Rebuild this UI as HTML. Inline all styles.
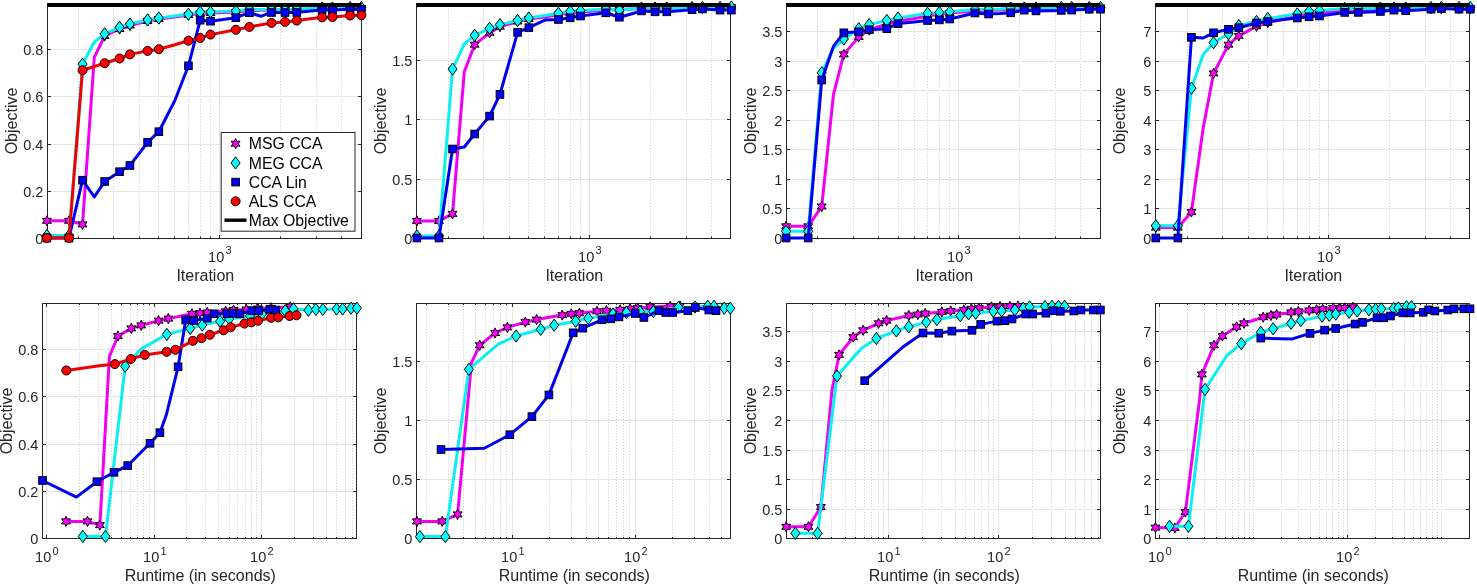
<!DOCTYPE html><html><head><meta charset="utf-8"><style>html,body{margin:0;padding:0;background:#fff;}svg{display:block;font-family:"Liberation Sans", sans-serif;will-change:transform;}</style></head><body>
<svg width="1477" height="585" viewBox="0 0 1477 585">
<rect width="1477" height="585" fill="#fff"/>
<line x1="78.50" y1="3.00" x2="78.50" y2="238.50" stroke="#c8c8c8" stroke-width="1" stroke-dasharray="1 1.9"/>
<line x1="113.50" y1="3.00" x2="113.50" y2="238.50" stroke="#c8c8c8" stroke-width="1" stroke-dasharray="1 1.9"/>
<line x1="139.50" y1="3.00" x2="139.50" y2="238.50" stroke="#c8c8c8" stroke-width="1" stroke-dasharray="1 1.9"/>
<line x1="158.50" y1="3.00" x2="158.50" y2="238.50" stroke="#c8c8c8" stroke-width="1" stroke-dasharray="1 1.9"/>
<line x1="174.50" y1="3.00" x2="174.50" y2="238.50" stroke="#c8c8c8" stroke-width="1" stroke-dasharray="1 1.9"/>
<line x1="188.50" y1="3.00" x2="188.50" y2="238.50" stroke="#c8c8c8" stroke-width="1" stroke-dasharray="1 1.9"/>
<line x1="200.50" y1="3.00" x2="200.50" y2="238.50" stroke="#c8c8c8" stroke-width="1" stroke-dasharray="1 1.9"/>
<line x1="210.50" y1="3.00" x2="210.50" y2="238.50" stroke="#c8c8c8" stroke-width="1" stroke-dasharray="1 1.9"/>
<line x1="280.50" y1="3.00" x2="280.50" y2="238.50" stroke="#c8c8c8" stroke-width="1" stroke-dasharray="1 1.9"/>
<line x1="316.50" y1="3.00" x2="316.50" y2="238.50" stroke="#c8c8c8" stroke-width="1" stroke-dasharray="1 1.9"/>
<line x1="341.50" y1="3.00" x2="341.50" y2="238.50" stroke="#c8c8c8" stroke-width="1" stroke-dasharray="1 1.9"/>
<line x1="219.50" y1="3.50" x2="219.50" y2="238.50" stroke="#e5e5e5" stroke-width="1"/>
<line x1="47.50" y1="238.50" x2="361.50" y2="238.50" stroke="#e5e5e5" stroke-width="1"/>
<line x1="47.50" y1="191.50" x2="361.50" y2="191.50" stroke="#e5e5e5" stroke-width="1"/>
<line x1="47.50" y1="144.50" x2="361.50" y2="144.50" stroke="#e5e5e5" stroke-width="1"/>
<line x1="47.50" y1="96.50" x2="361.50" y2="96.50" stroke="#e5e5e5" stroke-width="1"/>
<line x1="47.50" y1="49.50" x2="361.50" y2="49.50" stroke="#e5e5e5" stroke-width="1"/>
<rect x="47.50" y="3.50" width="314.00" height="235.00" fill="none" stroke="#262626" stroke-width="1"/>
<line x1="47.50" y1="238.50" x2="51.00" y2="238.50" stroke="#262626" stroke-width="1"/>
<line x1="361.50" y1="238.50" x2="358.00" y2="238.50" stroke="#262626" stroke-width="1"/>
<text x="43.30" y="244.10" text-anchor="end" font-size="14.5" fill="#262626">0</text>
<line x1="47.50" y1="191.50" x2="51.00" y2="191.50" stroke="#262626" stroke-width="1"/>
<line x1="361.50" y1="191.50" x2="358.00" y2="191.50" stroke="#262626" stroke-width="1"/>
<text x="43.30" y="197.10" text-anchor="end" font-size="14.5" fill="#262626">0.2</text>
<line x1="47.50" y1="144.50" x2="51.00" y2="144.50" stroke="#262626" stroke-width="1"/>
<line x1="361.50" y1="144.50" x2="358.00" y2="144.50" stroke="#262626" stroke-width="1"/>
<text x="43.30" y="150.10" text-anchor="end" font-size="14.5" fill="#262626">0.4</text>
<line x1="47.50" y1="96.50" x2="51.00" y2="96.50" stroke="#262626" stroke-width="1"/>
<line x1="361.50" y1="96.50" x2="358.00" y2="96.50" stroke="#262626" stroke-width="1"/>
<text x="43.30" y="102.10" text-anchor="end" font-size="14.5" fill="#262626">0.6</text>
<line x1="47.50" y1="49.50" x2="51.00" y2="49.50" stroke="#262626" stroke-width="1"/>
<line x1="361.50" y1="49.50" x2="358.00" y2="49.50" stroke="#262626" stroke-width="1"/>
<text x="43.30" y="55.10" text-anchor="end" font-size="14.5" fill="#262626">0.8</text>
<line x1="219.50" y1="238.50" x2="219.50" y2="235.00" stroke="#262626" stroke-width="1"/>
<line x1="219.50" y1="3.50" x2="219.50" y2="7.00" stroke="#262626" stroke-width="1"/>
<text x="219.80" y="261.80" text-anchor="middle" font-size="14.5" fill="#262626">10<tspan font-size="11" dx="1.2" dy="-7.3">3</tspan></text>
<line x1="78.50" y1="238.50" x2="78.50" y2="236.50" stroke="#262626" stroke-width="1"/>
<line x1="78.50" y1="3.50" x2="78.50" y2="5.50" stroke="#262626" stroke-width="1"/>
<line x1="113.50" y1="238.50" x2="113.50" y2="236.50" stroke="#262626" stroke-width="1"/>
<line x1="113.50" y1="3.50" x2="113.50" y2="5.50" stroke="#262626" stroke-width="1"/>
<line x1="139.50" y1="238.50" x2="139.50" y2="236.50" stroke="#262626" stroke-width="1"/>
<line x1="139.50" y1="3.50" x2="139.50" y2="5.50" stroke="#262626" stroke-width="1"/>
<line x1="158.50" y1="238.50" x2="158.50" y2="236.50" stroke="#262626" stroke-width="1"/>
<line x1="158.50" y1="3.50" x2="158.50" y2="5.50" stroke="#262626" stroke-width="1"/>
<line x1="174.50" y1="238.50" x2="174.50" y2="236.50" stroke="#262626" stroke-width="1"/>
<line x1="174.50" y1="3.50" x2="174.50" y2="5.50" stroke="#262626" stroke-width="1"/>
<line x1="188.50" y1="238.50" x2="188.50" y2="236.50" stroke="#262626" stroke-width="1"/>
<line x1="188.50" y1="3.50" x2="188.50" y2="5.50" stroke="#262626" stroke-width="1"/>
<line x1="200.50" y1="238.50" x2="200.50" y2="236.50" stroke="#262626" stroke-width="1"/>
<line x1="200.50" y1="3.50" x2="200.50" y2="5.50" stroke="#262626" stroke-width="1"/>
<line x1="210.50" y1="238.50" x2="210.50" y2="236.50" stroke="#262626" stroke-width="1"/>
<line x1="210.50" y1="3.50" x2="210.50" y2="5.50" stroke="#262626" stroke-width="1"/>
<line x1="280.50" y1="238.50" x2="280.50" y2="236.50" stroke="#262626" stroke-width="1"/>
<line x1="280.50" y1="3.50" x2="280.50" y2="5.50" stroke="#262626" stroke-width="1"/>
<line x1="316.50" y1="238.50" x2="316.50" y2="236.50" stroke="#262626" stroke-width="1"/>
<line x1="316.50" y1="3.50" x2="316.50" y2="5.50" stroke="#262626" stroke-width="1"/>
<line x1="341.50" y1="238.50" x2="341.50" y2="236.50" stroke="#262626" stroke-width="1"/>
<line x1="341.50" y1="3.50" x2="341.50" y2="5.50" stroke="#262626" stroke-width="1"/>
<text x="205.30" y="281.40" text-anchor="middle" font-size="16" fill="#262626">Iteration</text>
<text transform="translate(17.30,121.00) rotate(-90)" text-anchor="middle" font-size="16" fill="#262626">Objective</text>
<path d="M46.89,220.80 L68.99,220.80 L82.55,224.40 L94.29,57.40 L104.65,36.00 L119.59,29.00 L129.95,25.50 L147.60,21.00 L158.84,19.00 L174.88,17.00 L188.43,15.00 L200.18,13.50 L210.53,13.00 L235.83,12.00 L249.39,10.50 L261.13,10.20 L271.49,10.00 L285.05,10.00 L296.79,9.50 L322.09,8.50 L332.45,8.50 L350.10,8.00 L361.34,8.00" fill="none" stroke="#f000f0" stroke-width="3" stroke-linejoin="round"/>
<polygon points="46.89,215.70 45.54,218.46 42.47,218.25 44.19,220.80 42.47,223.35 45.54,223.14 46.89,225.90 48.24,223.14 51.31,223.35 49.59,220.80 51.31,218.25 48.24,218.46" fill="#ff00ff" stroke="#000" stroke-width="1"/>
<polygon points="68.99,215.70 67.64,218.46 64.58,218.25 66.29,220.80 64.58,223.35 67.64,223.14 68.99,225.90 70.34,223.14 73.41,223.35 71.69,220.80 73.41,218.25 70.34,218.46" fill="#ff00ff" stroke="#000" stroke-width="1"/>
<polygon points="82.55,219.30 81.20,222.06 78.13,221.85 79.85,224.40 78.13,226.95 81.20,226.74 82.55,229.50 83.90,226.74 86.97,226.95 85.25,224.40 86.97,221.85 83.90,222.06" fill="#ff00ff" stroke="#000" stroke-width="1"/>
<polygon points="104.65,30.90 103.30,33.66 100.23,33.45 101.95,36.00 100.23,38.55 103.30,38.34 104.65,41.10 106.00,38.34 109.07,38.55 107.35,36.00 109.07,33.45 106.00,33.66" fill="#ff00ff" stroke="#000" stroke-width="1"/>
<polygon points="119.59,23.90 118.24,26.66 115.18,26.45 116.89,29.00 115.18,31.55 118.24,31.34 119.59,34.10 120.94,31.34 124.01,31.55 122.29,29.00 124.01,26.45 120.94,26.66" fill="#ff00ff" stroke="#000" stroke-width="1"/>
<polygon points="129.95,20.40 128.60,23.16 125.53,22.95 127.25,25.50 125.53,28.05 128.60,27.84 129.95,30.60 131.30,27.84 134.37,28.05 132.65,25.50 134.37,22.95 131.30,23.16" fill="#ff00ff" stroke="#000" stroke-width="1"/>
<polygon points="147.60,15.90 146.25,18.66 143.18,18.45 144.90,21.00 143.18,23.55 146.25,23.34 147.60,26.10 148.95,23.34 152.02,23.55 150.30,21.00 152.02,18.45 148.95,18.66" fill="#ff00ff" stroke="#000" stroke-width="1"/>
<polygon points="158.84,13.90 157.49,16.66 154.42,16.45 156.14,19.00 154.42,21.55 157.49,21.34 158.84,24.10 160.19,21.34 163.26,21.55 161.54,19.00 163.26,16.45 160.19,16.66" fill="#ff00ff" stroke="#000" stroke-width="1"/>
<polygon points="188.43,9.90 187.08,12.66 184.02,12.45 185.73,15.00 184.02,17.55 187.08,17.34 188.43,20.10 189.78,17.34 192.85,17.55 191.13,15.00 192.85,12.45 189.78,12.66" fill="#ff00ff" stroke="#000" stroke-width="1"/>
<polygon points="200.18,8.40 198.83,11.16 195.76,10.95 197.48,13.50 195.76,16.05 198.83,15.84 200.18,18.60 201.53,15.84 204.59,16.05 202.88,13.50 204.59,10.95 201.53,11.16" fill="#ff00ff" stroke="#000" stroke-width="1"/>
<polygon points="210.53,7.90 209.18,10.66 206.12,10.45 207.83,13.00 206.12,15.55 209.18,15.34 210.53,18.10 211.88,15.34 214.95,15.55 213.23,13.00 214.95,10.45 211.88,10.66" fill="#ff00ff" stroke="#000" stroke-width="1"/>
<polygon points="235.83,6.90 234.48,9.66 231.42,9.45 233.13,12.00 231.42,14.55 234.48,14.34 235.83,17.10 237.18,14.34 240.25,14.55 238.53,12.00 240.25,9.45 237.18,9.66" fill="#ff00ff" stroke="#000" stroke-width="1"/>
<polygon points="249.39,5.40 248.04,8.16 244.97,7.95 246.69,10.50 244.97,13.05 248.04,12.84 249.39,15.60 250.74,12.84 253.81,13.05 252.09,10.50 253.81,7.95 250.74,8.16" fill="#ff00ff" stroke="#000" stroke-width="1"/>
<polygon points="271.49,4.90 270.14,7.66 267.08,7.45 268.79,10.00 267.08,12.55 270.14,12.34 271.49,15.10 272.84,12.34 275.91,12.55 274.19,10.00 275.91,7.45 272.84,7.66" fill="#ff00ff" stroke="#000" stroke-width="1"/>
<polygon points="285.05,4.90 283.70,7.66 280.63,7.45 282.35,10.00 280.63,12.55 283.70,12.34 285.05,15.10 286.40,12.34 289.47,12.55 287.75,10.00 289.47,7.45 286.40,7.66" fill="#ff00ff" stroke="#000" stroke-width="1"/>
<polygon points="296.79,4.40 295.44,7.16 292.38,6.95 294.09,9.50 292.38,12.05 295.44,11.84 296.79,14.60 298.14,11.84 301.21,12.05 299.49,9.50 301.21,6.95 298.14,7.16" fill="#ff00ff" stroke="#000" stroke-width="1"/>
<polygon points="322.09,3.40 320.74,6.16 317.68,5.95 319.39,8.50 317.68,11.05 320.74,10.84 322.09,13.60 323.44,10.84 326.51,11.05 324.79,8.50 326.51,5.95 323.44,6.16" fill="#ff00ff" stroke="#000" stroke-width="1"/>
<polygon points="332.45,3.40 331.10,6.16 328.03,5.95 329.75,8.50 328.03,11.05 331.10,10.84 332.45,13.60 333.80,10.84 336.87,11.05 335.15,8.50 336.87,5.95 333.80,6.16" fill="#ff00ff" stroke="#000" stroke-width="1"/>
<polygon points="350.10,2.90 348.75,5.66 345.68,5.45 347.40,8.00 345.68,10.55 348.75,10.34 350.10,13.10 351.45,10.34 354.52,10.55 352.80,8.00 354.52,5.45 351.45,5.66" fill="#ff00ff" stroke="#000" stroke-width="1"/>
<polygon points="361.34,2.90 359.99,5.66 356.92,5.45 358.64,8.00 356.92,10.55 359.99,10.34 361.34,13.10 362.69,10.34 365.76,10.55 364.04,8.00 365.76,5.45 362.69,5.66" fill="#ff00ff" stroke="#000" stroke-width="1"/>
<path d="M46.89,235.50 L68.99,235.50 L82.55,64.20 L94.29,42.00 L104.65,33.80 L119.59,27.30 L129.95,24.00 L147.60,19.90 L158.84,18.00 L174.88,16.00 L188.43,14.20 L200.18,12.00 L210.53,12.00 L235.83,11.00 L249.39,9.50 L261.13,9.60 L271.49,9.80 L285.05,9.80 L296.79,9.20 L322.09,8.00 L332.45,8.00 L350.10,7.50 L361.34,7.50" fill="none" stroke="#0af0f0" stroke-width="3" stroke-linejoin="round"/>
<polygon points="46.89,229.40 51.39,235.50 46.89,241.60 42.39,235.50" fill="#00ffff" stroke="#000" stroke-width="1"/>
<polygon points="68.99,229.40 73.49,235.50 68.99,241.60 64.49,235.50" fill="#00ffff" stroke="#000" stroke-width="1"/>
<polygon points="82.55,58.10 87.05,64.20 82.55,70.30 78.05,64.20" fill="#00ffff" stroke="#000" stroke-width="1"/>
<polygon points="104.65,27.70 109.15,33.80 104.65,39.90 100.15,33.80" fill="#00ffff" stroke="#000" stroke-width="1"/>
<polygon points="119.59,21.20 124.09,27.30 119.59,33.40 115.09,27.30" fill="#00ffff" stroke="#000" stroke-width="1"/>
<polygon points="129.95,17.90 134.45,24.00 129.95,30.10 125.45,24.00" fill="#00ffff" stroke="#000" stroke-width="1"/>
<polygon points="147.60,13.80 152.10,19.90 147.60,26.00 143.10,19.90" fill="#00ffff" stroke="#000" stroke-width="1"/>
<polygon points="158.84,11.90 163.34,18.00 158.84,24.10 154.34,18.00" fill="#00ffff" stroke="#000" stroke-width="1"/>
<polygon points="188.43,8.10 192.93,14.20 188.43,20.30 183.93,14.20" fill="#00ffff" stroke="#000" stroke-width="1"/>
<polygon points="200.18,5.90 204.68,12.00 200.18,18.10 195.68,12.00" fill="#00ffff" stroke="#000" stroke-width="1"/>
<polygon points="210.53,5.90 215.03,12.00 210.53,18.10 206.03,12.00" fill="#00ffff" stroke="#000" stroke-width="1"/>
<polygon points="235.83,4.90 240.33,11.00 235.83,17.10 231.33,11.00" fill="#00ffff" stroke="#000" stroke-width="1"/>
<polygon points="249.39,3.40 253.89,9.50 249.39,15.60 244.89,9.50" fill="#00ffff" stroke="#000" stroke-width="1"/>
<polygon points="271.49,3.70 275.99,9.80 271.49,15.90 266.99,9.80" fill="#00ffff" stroke="#000" stroke-width="1"/>
<polygon points="285.05,3.70 289.55,9.80 285.05,15.90 280.55,9.80" fill="#00ffff" stroke="#000" stroke-width="1"/>
<polygon points="296.79,3.10 301.29,9.20 296.79,15.30 292.29,9.20" fill="#00ffff" stroke="#000" stroke-width="1"/>
<polygon points="322.09,1.90 326.59,8.00 322.09,14.10 317.59,8.00" fill="#00ffff" stroke="#000" stroke-width="1"/>
<polygon points="332.45,1.90 336.95,8.00 332.45,14.10 327.95,8.00" fill="#00ffff" stroke="#000" stroke-width="1"/>
<polygon points="350.10,1.40 354.60,7.50 350.10,13.60 345.60,7.50" fill="#00ffff" stroke="#000" stroke-width="1"/>
<polygon points="361.34,1.40 365.84,7.50 361.34,13.60 356.84,7.50" fill="#00ffff" stroke="#000" stroke-width="1"/>
<path d="M46.89,238.00 L68.99,238.00 L82.55,180.20 L94.29,196.90 L104.65,181.50 L119.59,171.70 L129.95,165.50 L147.60,142.40 L158.84,131.70 L174.88,100.50 L188.43,65.80 L200.18,20.20 L210.53,21.20 L235.83,17.70 L249.39,12.70 L261.13,16.20 L271.49,12.50 L285.05,12.50 L296.79,12.50 L322.09,9.80 L332.45,10.10 L350.10,9.20 L361.34,9.20" fill="none" stroke="#0000f0" stroke-width="3" stroke-linejoin="round"/>
<rect x="43.09" y="234.20" width="7.60" height="7.60" fill="#0000ff" stroke="#000" stroke-width="1"/>
<rect x="65.19" y="234.20" width="7.60" height="7.60" fill="#0000ff" stroke="#000" stroke-width="1"/>
<rect x="78.75" y="176.40" width="7.60" height="7.60" fill="#0000ff" stroke="#000" stroke-width="1"/>
<rect x="100.85" y="177.70" width="7.60" height="7.60" fill="#0000ff" stroke="#000" stroke-width="1"/>
<rect x="115.79" y="167.90" width="7.60" height="7.60" fill="#0000ff" stroke="#000" stroke-width="1"/>
<rect x="126.15" y="161.70" width="7.60" height="7.60" fill="#0000ff" stroke="#000" stroke-width="1"/>
<rect x="143.80" y="138.60" width="7.60" height="7.60" fill="#0000ff" stroke="#000" stroke-width="1"/>
<rect x="155.04" y="127.90" width="7.60" height="7.60" fill="#0000ff" stroke="#000" stroke-width="1"/>
<rect x="184.63" y="62.00" width="7.60" height="7.60" fill="#0000ff" stroke="#000" stroke-width="1"/>
<rect x="196.38" y="16.40" width="7.60" height="7.60" fill="#0000ff" stroke="#000" stroke-width="1"/>
<rect x="206.73" y="17.40" width="7.60" height="7.60" fill="#0000ff" stroke="#000" stroke-width="1"/>
<rect x="232.03" y="13.90" width="7.60" height="7.60" fill="#0000ff" stroke="#000" stroke-width="1"/>
<rect x="245.59" y="8.90" width="7.60" height="7.60" fill="#0000ff" stroke="#000" stroke-width="1"/>
<rect x="267.69" y="8.70" width="7.60" height="7.60" fill="#0000ff" stroke="#000" stroke-width="1"/>
<rect x="281.25" y="8.70" width="7.60" height="7.60" fill="#0000ff" stroke="#000" stroke-width="1"/>
<rect x="292.99" y="8.70" width="7.60" height="7.60" fill="#0000ff" stroke="#000" stroke-width="1"/>
<rect x="318.29" y="6.00" width="7.60" height="7.60" fill="#0000ff" stroke="#000" stroke-width="1"/>
<rect x="328.65" y="6.30" width="7.60" height="7.60" fill="#0000ff" stroke="#000" stroke-width="1"/>
<rect x="346.30" y="5.40" width="7.60" height="7.60" fill="#0000ff" stroke="#000" stroke-width="1"/>
<rect x="357.54" y="5.40" width="7.60" height="7.60" fill="#0000ff" stroke="#000" stroke-width="1"/>
<path d="M46.89,238.00 L68.99,238.00 L82.55,70.20 L94.29,66.50 L104.65,63.20 L119.59,58.50 L129.95,54.40 L147.60,50.90 L158.84,49.20 L174.88,44.80 L188.43,40.70 L200.18,38.00 L210.53,34.60 L235.83,29.80 L249.39,26.90 L261.13,24.80 L271.49,22.90 L285.05,21.90 L296.79,20.60 L322.09,17.30 L332.45,17.00 L350.10,15.50 L361.34,15.30" fill="none" stroke="#f00000" stroke-width="3" stroke-linejoin="round"/>
<circle cx="46.89" cy="238.00" r="4.5" fill="#ff0000" stroke="#000" stroke-width="1"/>
<circle cx="68.99" cy="238.00" r="4.5" fill="#ff0000" stroke="#000" stroke-width="1"/>
<circle cx="82.55" cy="70.20" r="4.5" fill="#ff0000" stroke="#000" stroke-width="1"/>
<circle cx="104.65" cy="63.20" r="4.5" fill="#ff0000" stroke="#000" stroke-width="1"/>
<circle cx="119.59" cy="58.50" r="4.5" fill="#ff0000" stroke="#000" stroke-width="1"/>
<circle cx="129.95" cy="54.40" r="4.5" fill="#ff0000" stroke="#000" stroke-width="1"/>
<circle cx="147.60" cy="50.90" r="4.5" fill="#ff0000" stroke="#000" stroke-width="1"/>
<circle cx="158.84" cy="49.20" r="4.5" fill="#ff0000" stroke="#000" stroke-width="1"/>
<circle cx="188.43" cy="40.70" r="4.5" fill="#ff0000" stroke="#000" stroke-width="1"/>
<circle cx="200.18" cy="38.00" r="4.5" fill="#ff0000" stroke="#000" stroke-width="1"/>
<circle cx="210.53" cy="34.60" r="4.5" fill="#ff0000" stroke="#000" stroke-width="1"/>
<circle cx="235.83" cy="29.80" r="4.5" fill="#ff0000" stroke="#000" stroke-width="1"/>
<circle cx="249.39" cy="26.90" r="4.5" fill="#ff0000" stroke="#000" stroke-width="1"/>
<circle cx="271.49" cy="22.90" r="4.5" fill="#ff0000" stroke="#000" stroke-width="1"/>
<circle cx="285.05" cy="21.90" r="4.5" fill="#ff0000" stroke="#000" stroke-width="1"/>
<circle cx="296.79" cy="20.60" r="4.5" fill="#ff0000" stroke="#000" stroke-width="1"/>
<circle cx="322.09" cy="17.30" r="4.5" fill="#ff0000" stroke="#000" stroke-width="1"/>
<circle cx="332.45" cy="17.00" r="4.5" fill="#ff0000" stroke="#000" stroke-width="1"/>
<circle cx="350.10" cy="15.50" r="4.5" fill="#ff0000" stroke="#000" stroke-width="1"/>
<circle cx="361.34" cy="15.30" r="4.5" fill="#ff0000" stroke="#000" stroke-width="1"/>
<rect x="47.50" y="3" width="314.00" height="4" fill="#000"/>
<line x1="448.50" y1="3.00" x2="448.50" y2="238.50" stroke="#c8c8c8" stroke-width="1" stroke-dasharray="1 1.9"/>
<line x1="483.50" y1="3.00" x2="483.50" y2="238.50" stroke="#c8c8c8" stroke-width="1" stroke-dasharray="1 1.9"/>
<line x1="509.50" y1="3.00" x2="509.50" y2="238.50" stroke="#c8c8c8" stroke-width="1" stroke-dasharray="1 1.9"/>
<line x1="528.50" y1="3.00" x2="528.50" y2="238.50" stroke="#c8c8c8" stroke-width="1" stroke-dasharray="1 1.9"/>
<line x1="544.50" y1="3.00" x2="544.50" y2="238.50" stroke="#c8c8c8" stroke-width="1" stroke-dasharray="1 1.9"/>
<line x1="558.50" y1="3.00" x2="558.50" y2="238.50" stroke="#c8c8c8" stroke-width="1" stroke-dasharray="1 1.9"/>
<line x1="570.50" y1="3.00" x2="570.50" y2="238.50" stroke="#c8c8c8" stroke-width="1" stroke-dasharray="1 1.9"/>
<line x1="580.50" y1="3.00" x2="580.50" y2="238.50" stroke="#c8c8c8" stroke-width="1" stroke-dasharray="1 1.9"/>
<line x1="650.50" y1="3.00" x2="650.50" y2="238.50" stroke="#c8c8c8" stroke-width="1" stroke-dasharray="1 1.9"/>
<line x1="686.50" y1="3.00" x2="686.50" y2="238.50" stroke="#c8c8c8" stroke-width="1" stroke-dasharray="1 1.9"/>
<line x1="711.50" y1="3.00" x2="711.50" y2="238.50" stroke="#c8c8c8" stroke-width="1" stroke-dasharray="1 1.9"/>
<line x1="589.50" y1="3.50" x2="589.50" y2="238.50" stroke="#e5e5e5" stroke-width="1"/>
<line x1="416.50" y1="238.50" x2="730.50" y2="238.50" stroke="#e5e5e5" stroke-width="1"/>
<line x1="416.50" y1="179.50" x2="730.50" y2="179.50" stroke="#e5e5e5" stroke-width="1"/>
<line x1="416.50" y1="119.50" x2="730.50" y2="119.50" stroke="#e5e5e5" stroke-width="1"/>
<line x1="416.50" y1="60.50" x2="730.50" y2="60.50" stroke="#e5e5e5" stroke-width="1"/>
<rect x="416.50" y="3.50" width="314.00" height="235.00" fill="none" stroke="#262626" stroke-width="1"/>
<line x1="416.50" y1="238.50" x2="420.00" y2="238.50" stroke="#262626" stroke-width="1"/>
<line x1="730.50" y1="238.50" x2="727.00" y2="238.50" stroke="#262626" stroke-width="1"/>
<text x="412.30" y="244.10" text-anchor="end" font-size="14.5" fill="#262626">0</text>
<line x1="416.50" y1="179.50" x2="420.00" y2="179.50" stroke="#262626" stroke-width="1"/>
<line x1="730.50" y1="179.50" x2="727.00" y2="179.50" stroke="#262626" stroke-width="1"/>
<text x="412.30" y="185.10" text-anchor="end" font-size="14.5" fill="#262626">0.5</text>
<line x1="416.50" y1="119.50" x2="420.00" y2="119.50" stroke="#262626" stroke-width="1"/>
<line x1="730.50" y1="119.50" x2="727.00" y2="119.50" stroke="#262626" stroke-width="1"/>
<text x="412.30" y="125.10" text-anchor="end" font-size="14.5" fill="#262626">1</text>
<line x1="416.50" y1="60.50" x2="420.00" y2="60.50" stroke="#262626" stroke-width="1"/>
<line x1="730.50" y1="60.50" x2="727.00" y2="60.50" stroke="#262626" stroke-width="1"/>
<text x="412.30" y="66.10" text-anchor="end" font-size="14.5" fill="#262626">1.5</text>
<line x1="589.50" y1="238.50" x2="589.50" y2="235.00" stroke="#262626" stroke-width="1"/>
<line x1="589.50" y1="3.50" x2="589.50" y2="7.00" stroke="#262626" stroke-width="1"/>
<text x="589.80" y="261.80" text-anchor="middle" font-size="14.5" fill="#262626">10<tspan font-size="11" dx="1.2" dy="-7.3">3</tspan></text>
<line x1="448.50" y1="238.50" x2="448.50" y2="236.50" stroke="#262626" stroke-width="1"/>
<line x1="448.50" y1="3.50" x2="448.50" y2="5.50" stroke="#262626" stroke-width="1"/>
<line x1="483.50" y1="238.50" x2="483.50" y2="236.50" stroke="#262626" stroke-width="1"/>
<line x1="483.50" y1="3.50" x2="483.50" y2="5.50" stroke="#262626" stroke-width="1"/>
<line x1="509.50" y1="238.50" x2="509.50" y2="236.50" stroke="#262626" stroke-width="1"/>
<line x1="509.50" y1="3.50" x2="509.50" y2="5.50" stroke="#262626" stroke-width="1"/>
<line x1="528.50" y1="238.50" x2="528.50" y2="236.50" stroke="#262626" stroke-width="1"/>
<line x1="528.50" y1="3.50" x2="528.50" y2="5.50" stroke="#262626" stroke-width="1"/>
<line x1="544.50" y1="238.50" x2="544.50" y2="236.50" stroke="#262626" stroke-width="1"/>
<line x1="544.50" y1="3.50" x2="544.50" y2="5.50" stroke="#262626" stroke-width="1"/>
<line x1="558.50" y1="238.50" x2="558.50" y2="236.50" stroke="#262626" stroke-width="1"/>
<line x1="558.50" y1="3.50" x2="558.50" y2="5.50" stroke="#262626" stroke-width="1"/>
<line x1="570.50" y1="238.50" x2="570.50" y2="236.50" stroke="#262626" stroke-width="1"/>
<line x1="570.50" y1="3.50" x2="570.50" y2="5.50" stroke="#262626" stroke-width="1"/>
<line x1="580.50" y1="238.50" x2="580.50" y2="236.50" stroke="#262626" stroke-width="1"/>
<line x1="580.50" y1="3.50" x2="580.50" y2="5.50" stroke="#262626" stroke-width="1"/>
<line x1="650.50" y1="238.50" x2="650.50" y2="236.50" stroke="#262626" stroke-width="1"/>
<line x1="650.50" y1="3.50" x2="650.50" y2="5.50" stroke="#262626" stroke-width="1"/>
<line x1="686.50" y1="238.50" x2="686.50" y2="236.50" stroke="#262626" stroke-width="1"/>
<line x1="686.50" y1="3.50" x2="686.50" y2="5.50" stroke="#262626" stroke-width="1"/>
<line x1="711.50" y1="238.50" x2="711.50" y2="236.50" stroke="#262626" stroke-width="1"/>
<line x1="711.50" y1="3.50" x2="711.50" y2="5.50" stroke="#262626" stroke-width="1"/>
<text x="574.30" y="281.40" text-anchor="middle" font-size="16" fill="#262626">Iteration</text>
<text transform="translate(386.30,121.00) rotate(-90)" text-anchor="middle" font-size="16" fill="#262626">Objective</text>
<path d="M416.89,220.90 L438.99,220.90 L452.55,213.90 L464.29,71.80 L474.65,44.70 L489.59,32.80 L499.95,26.70 L517.60,21.50 L528.84,19.00 L544.88,17.00 L558.43,14.50 L570.18,13.00 L580.53,12.00 L605.83,10.00 L619.39,9.50 L631.13,9.00 L641.49,8.50 L655.05,8.50 L666.79,8.00 L692.09,7.50 L702.45,7.50 L720.10,7.00 L731.34,7.00" fill="none" stroke="#f000f0" stroke-width="3" stroke-linejoin="round"/>
<polygon points="416.89,215.80 415.54,218.56 412.47,218.35 414.19,220.90 412.47,223.45 415.54,223.24 416.89,226.00 418.24,223.24 421.31,223.45 419.59,220.90 421.31,218.35 418.24,218.56" fill="#ff00ff" stroke="#000" stroke-width="1"/>
<polygon points="438.99,215.80 437.64,218.56 434.58,218.35 436.29,220.90 434.58,223.45 437.64,223.24 438.99,226.00 440.34,223.24 443.41,223.45 441.69,220.90 443.41,218.35 440.34,218.56" fill="#ff00ff" stroke="#000" stroke-width="1"/>
<polygon points="452.55,208.80 451.20,211.56 448.13,211.35 449.85,213.90 448.13,216.45 451.20,216.24 452.55,219.00 453.90,216.24 456.97,216.45 455.25,213.90 456.97,211.35 453.90,211.56" fill="#ff00ff" stroke="#000" stroke-width="1"/>
<polygon points="474.65,39.60 473.30,42.36 470.23,42.15 471.95,44.70 470.23,47.25 473.30,47.04 474.65,49.80 476.00,47.04 479.07,47.25 477.35,44.70 479.07,42.15 476.00,42.36" fill="#ff00ff" stroke="#000" stroke-width="1"/>
<polygon points="489.59,27.70 488.24,30.46 485.18,30.25 486.89,32.80 485.18,35.35 488.24,35.14 489.59,37.90 490.94,35.14 494.01,35.35 492.29,32.80 494.01,30.25 490.94,30.46" fill="#ff00ff" stroke="#000" stroke-width="1"/>
<polygon points="499.95,21.60 498.60,24.36 495.53,24.15 497.25,26.70 495.53,29.25 498.60,29.04 499.95,31.80 501.30,29.04 504.37,29.25 502.65,26.70 504.37,24.15 501.30,24.36" fill="#ff00ff" stroke="#000" stroke-width="1"/>
<polygon points="517.60,16.40 516.25,19.16 513.18,18.95 514.90,21.50 513.18,24.05 516.25,23.84 517.60,26.60 518.95,23.84 522.02,24.05 520.30,21.50 522.02,18.95 518.95,19.16" fill="#ff00ff" stroke="#000" stroke-width="1"/>
<polygon points="528.84,13.90 527.49,16.66 524.42,16.45 526.14,19.00 524.42,21.55 527.49,21.34 528.84,24.10 530.19,21.34 533.26,21.55 531.54,19.00 533.26,16.45 530.19,16.66" fill="#ff00ff" stroke="#000" stroke-width="1"/>
<polygon points="558.43,9.40 557.08,12.16 554.02,11.95 555.73,14.50 554.02,17.05 557.08,16.84 558.43,19.60 559.78,16.84 562.85,17.05 561.13,14.50 562.85,11.95 559.78,12.16" fill="#ff00ff" stroke="#000" stroke-width="1"/>
<polygon points="570.18,7.90 568.83,10.66 565.76,10.45 567.48,13.00 565.76,15.55 568.83,15.34 570.18,18.10 571.53,15.34 574.59,15.55 572.88,13.00 574.59,10.45 571.53,10.66" fill="#ff00ff" stroke="#000" stroke-width="1"/>
<polygon points="580.53,6.90 579.18,9.66 576.12,9.45 577.83,12.00 576.12,14.55 579.18,14.34 580.53,17.10 581.88,14.34 584.95,14.55 583.23,12.00 584.95,9.45 581.88,9.66" fill="#ff00ff" stroke="#000" stroke-width="1"/>
<polygon points="605.83,4.90 604.48,7.66 601.42,7.45 603.13,10.00 601.42,12.55 604.48,12.34 605.83,15.10 607.18,12.34 610.25,12.55 608.53,10.00 610.25,7.45 607.18,7.66" fill="#ff00ff" stroke="#000" stroke-width="1"/>
<polygon points="619.39,4.40 618.04,7.16 614.97,6.95 616.69,9.50 614.97,12.05 618.04,11.84 619.39,14.60 620.74,11.84 623.81,12.05 622.09,9.50 623.81,6.95 620.74,7.16" fill="#ff00ff" stroke="#000" stroke-width="1"/>
<polygon points="641.49,3.40 640.14,6.16 637.08,5.95 638.79,8.50 637.08,11.05 640.14,10.84 641.49,13.60 642.84,10.84 645.91,11.05 644.19,8.50 645.91,5.95 642.84,6.16" fill="#ff00ff" stroke="#000" stroke-width="1"/>
<polygon points="655.05,3.40 653.70,6.16 650.63,5.95 652.35,8.50 650.63,11.05 653.70,10.84 655.05,13.60 656.40,10.84 659.47,11.05 657.75,8.50 659.47,5.95 656.40,6.16" fill="#ff00ff" stroke="#000" stroke-width="1"/>
<polygon points="666.79,2.90 665.44,5.66 662.38,5.45 664.09,8.00 662.38,10.55 665.44,10.34 666.79,13.10 668.14,10.34 671.21,10.55 669.49,8.00 671.21,5.45 668.14,5.66" fill="#ff00ff" stroke="#000" stroke-width="1"/>
<polygon points="692.09,2.40 690.74,5.16 687.68,4.95 689.39,7.50 687.68,10.05 690.74,9.84 692.09,12.60 693.44,9.84 696.51,10.05 694.79,7.50 696.51,4.95 693.44,5.16" fill="#ff00ff" stroke="#000" stroke-width="1"/>
<polygon points="702.45,2.40 701.10,5.16 698.03,4.95 699.75,7.50 698.03,10.05 701.10,9.84 702.45,12.60 703.80,9.84 706.87,10.05 705.15,7.50 706.87,4.95 703.80,5.16" fill="#ff00ff" stroke="#000" stroke-width="1"/>
<polygon points="720.10,1.90 718.75,4.66 715.68,4.45 717.40,7.00 715.68,9.55 718.75,9.34 720.10,12.10 721.45,9.34 724.52,9.55 722.80,7.00 724.52,4.45 721.45,4.66" fill="#ff00ff" stroke="#000" stroke-width="1"/>
<polygon points="731.34,1.90 729.99,4.66 726.92,4.45 728.64,7.00 726.92,9.55 729.99,9.34 731.34,12.10 732.69,9.34 735.76,9.55 734.04,7.00 735.76,4.45 732.69,4.66" fill="#ff00ff" stroke="#000" stroke-width="1"/>
<path d="M416.89,236.00 L438.99,236.00 L452.55,69.10 L464.29,44.00 L474.65,35.30 L489.59,28.30 L499.95,24.60 L517.60,20.50 L528.84,18.00 L544.88,15.50 L558.43,13.30 L570.18,11.30 L580.53,10.70 L605.83,8.90 L619.39,10.10 L631.13,9.00 L641.49,8.00 L655.05,8.00 L666.79,8.00 L692.09,7.50 L702.45,7.50 L720.10,7.50 L731.34,7.00" fill="none" stroke="#0af0f0" stroke-width="3" stroke-linejoin="round"/>
<polygon points="416.89,229.90 421.39,236.00 416.89,242.10 412.39,236.00" fill="#00ffff" stroke="#000" stroke-width="1"/>
<polygon points="438.99,229.90 443.49,236.00 438.99,242.10 434.49,236.00" fill="#00ffff" stroke="#000" stroke-width="1"/>
<polygon points="452.55,63.00 457.05,69.10 452.55,75.20 448.05,69.10" fill="#00ffff" stroke="#000" stroke-width="1"/>
<polygon points="474.65,29.20 479.15,35.30 474.65,41.40 470.15,35.30" fill="#00ffff" stroke="#000" stroke-width="1"/>
<polygon points="489.59,22.20 494.09,28.30 489.59,34.40 485.09,28.30" fill="#00ffff" stroke="#000" stroke-width="1"/>
<polygon points="499.95,18.50 504.45,24.60 499.95,30.70 495.45,24.60" fill="#00ffff" stroke="#000" stroke-width="1"/>
<polygon points="517.60,14.40 522.10,20.50 517.60,26.60 513.10,20.50" fill="#00ffff" stroke="#000" stroke-width="1"/>
<polygon points="528.84,11.90 533.34,18.00 528.84,24.10 524.34,18.00" fill="#00ffff" stroke="#000" stroke-width="1"/>
<polygon points="558.43,7.20 562.93,13.30 558.43,19.40 553.93,13.30" fill="#00ffff" stroke="#000" stroke-width="1"/>
<polygon points="570.18,5.20 574.68,11.30 570.18,17.40 565.68,11.30" fill="#00ffff" stroke="#000" stroke-width="1"/>
<polygon points="580.53,4.60 585.03,10.70 580.53,16.80 576.03,10.70" fill="#00ffff" stroke="#000" stroke-width="1"/>
<polygon points="605.83,2.80 610.33,8.90 605.83,15.00 601.33,8.90" fill="#00ffff" stroke="#000" stroke-width="1"/>
<polygon points="619.39,4.00 623.89,10.10 619.39,16.20 614.89,10.10" fill="#00ffff" stroke="#000" stroke-width="1"/>
<polygon points="641.49,1.90 645.99,8.00 641.49,14.10 636.99,8.00" fill="#00ffff" stroke="#000" stroke-width="1"/>
<polygon points="655.05,1.90 659.55,8.00 655.05,14.10 650.55,8.00" fill="#00ffff" stroke="#000" stroke-width="1"/>
<polygon points="666.79,1.90 671.29,8.00 666.79,14.10 662.29,8.00" fill="#00ffff" stroke="#000" stroke-width="1"/>
<polygon points="692.09,1.40 696.59,7.50 692.09,13.60 687.59,7.50" fill="#00ffff" stroke="#000" stroke-width="1"/>
<polygon points="702.45,1.40 706.95,7.50 702.45,13.60 697.95,7.50" fill="#00ffff" stroke="#000" stroke-width="1"/>
<polygon points="720.10,1.40 724.60,7.50 720.10,13.60 715.60,7.50" fill="#00ffff" stroke="#000" stroke-width="1"/>
<polygon points="731.34,0.90 735.84,7.00 731.34,13.10 726.84,7.00" fill="#00ffff" stroke="#000" stroke-width="1"/>
<path d="M416.89,238.00 L438.99,238.00 L452.55,149.00 L464.29,147.00 L474.65,134.00 L489.59,116.10 L499.95,94.40 L517.60,32.40 L528.84,27.70 L544.88,20.10 L558.43,19.50 L570.18,17.80 L580.53,16.00 L605.83,12.80 L619.39,17.20 L631.13,14.00 L641.49,10.90 L655.05,11.80 L666.79,11.80 L692.09,9.70 L702.45,8.90 L720.10,10.10 L731.34,10.10" fill="none" stroke="#0000f0" stroke-width="3" stroke-linejoin="round"/>
<rect x="413.09" y="234.20" width="7.60" height="7.60" fill="#0000ff" stroke="#000" stroke-width="1"/>
<rect x="435.19" y="234.20" width="7.60" height="7.60" fill="#0000ff" stroke="#000" stroke-width="1"/>
<rect x="448.75" y="145.20" width="7.60" height="7.60" fill="#0000ff" stroke="#000" stroke-width="1"/>
<rect x="470.85" y="130.20" width="7.60" height="7.60" fill="#0000ff" stroke="#000" stroke-width="1"/>
<rect x="485.79" y="112.30" width="7.60" height="7.60" fill="#0000ff" stroke="#000" stroke-width="1"/>
<rect x="496.15" y="90.60" width="7.60" height="7.60" fill="#0000ff" stroke="#000" stroke-width="1"/>
<rect x="513.80" y="28.60" width="7.60" height="7.60" fill="#0000ff" stroke="#000" stroke-width="1"/>
<rect x="525.04" y="23.90" width="7.60" height="7.60" fill="#0000ff" stroke="#000" stroke-width="1"/>
<rect x="554.63" y="15.70" width="7.60" height="7.60" fill="#0000ff" stroke="#000" stroke-width="1"/>
<rect x="566.38" y="14.00" width="7.60" height="7.60" fill="#0000ff" stroke="#000" stroke-width="1"/>
<rect x="576.73" y="12.20" width="7.60" height="7.60" fill="#0000ff" stroke="#000" stroke-width="1"/>
<rect x="602.03" y="9.00" width="7.60" height="7.60" fill="#0000ff" stroke="#000" stroke-width="1"/>
<rect x="615.59" y="13.40" width="7.60" height="7.60" fill="#0000ff" stroke="#000" stroke-width="1"/>
<rect x="637.69" y="7.10" width="7.60" height="7.60" fill="#0000ff" stroke="#000" stroke-width="1"/>
<rect x="651.25" y="8.00" width="7.60" height="7.60" fill="#0000ff" stroke="#000" stroke-width="1"/>
<rect x="662.99" y="8.00" width="7.60" height="7.60" fill="#0000ff" stroke="#000" stroke-width="1"/>
<rect x="688.29" y="5.90" width="7.60" height="7.60" fill="#0000ff" stroke="#000" stroke-width="1"/>
<rect x="698.65" y="5.10" width="7.60" height="7.60" fill="#0000ff" stroke="#000" stroke-width="1"/>
<rect x="716.30" y="6.30" width="7.60" height="7.60" fill="#0000ff" stroke="#000" stroke-width="1"/>
<rect x="727.54" y="6.30" width="7.60" height="7.60" fill="#0000ff" stroke="#000" stroke-width="1"/>
<rect x="416.50" y="3" width="314.00" height="4" fill="#000"/>
<line x1="817.50" y1="3.00" x2="817.50" y2="238.50" stroke="#c8c8c8" stroke-width="1" stroke-dasharray="1 1.9"/>
<line x1="853.50" y1="3.00" x2="853.50" y2="238.50" stroke="#c8c8c8" stroke-width="1" stroke-dasharray="1 1.9"/>
<line x1="878.50" y1="3.00" x2="878.50" y2="238.50" stroke="#c8c8c8" stroke-width="1" stroke-dasharray="1 1.9"/>
<line x1="898.50" y1="3.00" x2="898.50" y2="238.50" stroke="#c8c8c8" stroke-width="1" stroke-dasharray="1 1.9"/>
<line x1="914.50" y1="3.00" x2="914.50" y2="238.50" stroke="#c8c8c8" stroke-width="1" stroke-dasharray="1 1.9"/>
<line x1="927.50" y1="3.00" x2="927.50" y2="238.50" stroke="#c8c8c8" stroke-width="1" stroke-dasharray="1 1.9"/>
<line x1="939.50" y1="3.00" x2="939.50" y2="238.50" stroke="#c8c8c8" stroke-width="1" stroke-dasharray="1 1.9"/>
<line x1="949.50" y1="3.00" x2="949.50" y2="238.50" stroke="#c8c8c8" stroke-width="1" stroke-dasharray="1 1.9"/>
<line x1="1019.50" y1="3.00" x2="1019.50" y2="238.50" stroke="#c8c8c8" stroke-width="1" stroke-dasharray="1 1.9"/>
<line x1="1055.50" y1="3.00" x2="1055.50" y2="238.50" stroke="#c8c8c8" stroke-width="1" stroke-dasharray="1 1.9"/>
<line x1="1080.50" y1="3.00" x2="1080.50" y2="238.50" stroke="#c8c8c8" stroke-width="1" stroke-dasharray="1 1.9"/>
<line x1="958.50" y1="3.50" x2="958.50" y2="238.50" stroke="#e5e5e5" stroke-width="1"/>
<line x1="786.50" y1="238.50" x2="1100.50" y2="238.50" stroke="#e5e5e5" stroke-width="1"/>
<line x1="786.50" y1="208.50" x2="1100.50" y2="208.50" stroke="#e5e5e5" stroke-width="1"/>
<line x1="786.50" y1="179.50" x2="1100.50" y2="179.50" stroke="#e5e5e5" stroke-width="1"/>
<line x1="786.50" y1="149.50" x2="1100.50" y2="149.50" stroke="#e5e5e5" stroke-width="1"/>
<line x1="786.50" y1="120.50" x2="1100.50" y2="120.50" stroke="#e5e5e5" stroke-width="1"/>
<line x1="786.50" y1="90.50" x2="1100.50" y2="90.50" stroke="#e5e5e5" stroke-width="1"/>
<line x1="786.50" y1="61.50" x2="1100.50" y2="61.50" stroke="#e5e5e5" stroke-width="1"/>
<line x1="786.50" y1="31.50" x2="1100.50" y2="31.50" stroke="#e5e5e5" stroke-width="1"/>
<rect x="786.50" y="3.50" width="314.00" height="235.00" fill="none" stroke="#262626" stroke-width="1"/>
<line x1="786.50" y1="238.50" x2="790.00" y2="238.50" stroke="#262626" stroke-width="1"/>
<line x1="1100.50" y1="238.50" x2="1097.00" y2="238.50" stroke="#262626" stroke-width="1"/>
<text x="782.30" y="244.10" text-anchor="end" font-size="14.5" fill="#262626">0</text>
<line x1="786.50" y1="208.50" x2="790.00" y2="208.50" stroke="#262626" stroke-width="1"/>
<line x1="1100.50" y1="208.50" x2="1097.00" y2="208.50" stroke="#262626" stroke-width="1"/>
<text x="782.30" y="214.10" text-anchor="end" font-size="14.5" fill="#262626">0.5</text>
<line x1="786.50" y1="179.50" x2="790.00" y2="179.50" stroke="#262626" stroke-width="1"/>
<line x1="1100.50" y1="179.50" x2="1097.00" y2="179.50" stroke="#262626" stroke-width="1"/>
<text x="782.30" y="185.10" text-anchor="end" font-size="14.5" fill="#262626">1</text>
<line x1="786.50" y1="149.50" x2="790.00" y2="149.50" stroke="#262626" stroke-width="1"/>
<line x1="1100.50" y1="149.50" x2="1097.00" y2="149.50" stroke="#262626" stroke-width="1"/>
<text x="782.30" y="155.10" text-anchor="end" font-size="14.5" fill="#262626">1.5</text>
<line x1="786.50" y1="120.50" x2="790.00" y2="120.50" stroke="#262626" stroke-width="1"/>
<line x1="1100.50" y1="120.50" x2="1097.00" y2="120.50" stroke="#262626" stroke-width="1"/>
<text x="782.30" y="126.10" text-anchor="end" font-size="14.5" fill="#262626">2</text>
<line x1="786.50" y1="90.50" x2="790.00" y2="90.50" stroke="#262626" stroke-width="1"/>
<line x1="1100.50" y1="90.50" x2="1097.00" y2="90.50" stroke="#262626" stroke-width="1"/>
<text x="782.30" y="96.10" text-anchor="end" font-size="14.5" fill="#262626">2.5</text>
<line x1="786.50" y1="61.50" x2="790.00" y2="61.50" stroke="#262626" stroke-width="1"/>
<line x1="1100.50" y1="61.50" x2="1097.00" y2="61.50" stroke="#262626" stroke-width="1"/>
<text x="782.30" y="67.10" text-anchor="end" font-size="14.5" fill="#262626">3</text>
<line x1="786.50" y1="31.50" x2="790.00" y2="31.50" stroke="#262626" stroke-width="1"/>
<line x1="1100.50" y1="31.50" x2="1097.00" y2="31.50" stroke="#262626" stroke-width="1"/>
<text x="782.30" y="37.10" text-anchor="end" font-size="14.5" fill="#262626">3.5</text>
<line x1="958.50" y1="238.50" x2="958.50" y2="235.00" stroke="#262626" stroke-width="1"/>
<line x1="958.50" y1="3.50" x2="958.50" y2="7.00" stroke="#262626" stroke-width="1"/>
<text x="958.80" y="261.80" text-anchor="middle" font-size="14.5" fill="#262626">10<tspan font-size="11" dx="1.2" dy="-7.3">3</tspan></text>
<line x1="817.50" y1="238.50" x2="817.50" y2="236.50" stroke="#262626" stroke-width="1"/>
<line x1="817.50" y1="3.50" x2="817.50" y2="5.50" stroke="#262626" stroke-width="1"/>
<line x1="853.50" y1="238.50" x2="853.50" y2="236.50" stroke="#262626" stroke-width="1"/>
<line x1="853.50" y1="3.50" x2="853.50" y2="5.50" stroke="#262626" stroke-width="1"/>
<line x1="878.50" y1="238.50" x2="878.50" y2="236.50" stroke="#262626" stroke-width="1"/>
<line x1="878.50" y1="3.50" x2="878.50" y2="5.50" stroke="#262626" stroke-width="1"/>
<line x1="898.50" y1="238.50" x2="898.50" y2="236.50" stroke="#262626" stroke-width="1"/>
<line x1="898.50" y1="3.50" x2="898.50" y2="5.50" stroke="#262626" stroke-width="1"/>
<line x1="914.50" y1="238.50" x2="914.50" y2="236.50" stroke="#262626" stroke-width="1"/>
<line x1="914.50" y1="3.50" x2="914.50" y2="5.50" stroke="#262626" stroke-width="1"/>
<line x1="927.50" y1="238.50" x2="927.50" y2="236.50" stroke="#262626" stroke-width="1"/>
<line x1="927.50" y1="3.50" x2="927.50" y2="5.50" stroke="#262626" stroke-width="1"/>
<line x1="939.50" y1="238.50" x2="939.50" y2="236.50" stroke="#262626" stroke-width="1"/>
<line x1="939.50" y1="3.50" x2="939.50" y2="5.50" stroke="#262626" stroke-width="1"/>
<line x1="949.50" y1="238.50" x2="949.50" y2="236.50" stroke="#262626" stroke-width="1"/>
<line x1="949.50" y1="3.50" x2="949.50" y2="5.50" stroke="#262626" stroke-width="1"/>
<line x1="1019.50" y1="238.50" x2="1019.50" y2="236.50" stroke="#262626" stroke-width="1"/>
<line x1="1019.50" y1="3.50" x2="1019.50" y2="5.50" stroke="#262626" stroke-width="1"/>
<line x1="1055.50" y1="238.50" x2="1055.50" y2="236.50" stroke="#262626" stroke-width="1"/>
<line x1="1055.50" y1="3.50" x2="1055.50" y2="5.50" stroke="#262626" stroke-width="1"/>
<line x1="1080.50" y1="238.50" x2="1080.50" y2="236.50" stroke="#262626" stroke-width="1"/>
<line x1="1080.50" y1="3.50" x2="1080.50" y2="5.50" stroke="#262626" stroke-width="1"/>
<text x="944.30" y="281.40" text-anchor="middle" font-size="16" fill="#262626">Iteration</text>
<text transform="translate(756.30,121.00) rotate(-90)" text-anchor="middle" font-size="16" fill="#262626">Objective</text>
<path d="M786.08,226.30 L808.18,226.30 L821.74,206.50 L833.48,94.40 L843.84,54.40 L858.78,36.90 L869.14,30.00 L886.79,24.00 L898.03,21.00 L914.07,18.50 L927.62,16.00 L939.37,14.00 L949.72,13.00 L975.02,11.00 L988.58,10.50 L1000.32,10.00 L1010.68,9.50 L1024.24,9.00 L1035.98,9.00 L1061.28,8.00 L1071.64,8.00 L1089.29,7.50 L1100.53,7.50" fill="none" stroke="#f000f0" stroke-width="3" stroke-linejoin="round"/>
<polygon points="786.08,221.20 784.73,223.96 781.66,223.75 783.38,226.30 781.66,228.85 784.73,228.64 786.08,231.40 787.43,228.64 790.50,228.85 788.78,226.30 790.50,223.75 787.43,223.96" fill="#ff00ff" stroke="#000" stroke-width="1"/>
<polygon points="808.18,221.20 806.83,223.96 803.77,223.75 805.48,226.30 803.77,228.85 806.83,228.64 808.18,231.40 809.53,228.64 812.60,228.85 810.88,226.30 812.60,223.75 809.53,223.96" fill="#ff00ff" stroke="#000" stroke-width="1"/>
<polygon points="821.74,201.40 820.39,204.16 817.32,203.95 819.04,206.50 817.32,209.05 820.39,208.84 821.74,211.60 823.09,208.84 826.16,209.05 824.44,206.50 826.16,203.95 823.09,204.16" fill="#ff00ff" stroke="#000" stroke-width="1"/>
<polygon points="843.84,49.30 842.49,52.06 839.42,51.85 841.14,54.40 839.42,56.95 842.49,56.74 843.84,59.50 845.19,56.74 848.26,56.95 846.54,54.40 848.26,51.85 845.19,52.06" fill="#ff00ff" stroke="#000" stroke-width="1"/>
<polygon points="858.78,31.80 857.43,34.56 854.37,34.35 856.08,36.90 854.37,39.45 857.43,39.24 858.78,42.00 860.13,39.24 863.20,39.45 861.48,36.90 863.20,34.35 860.13,34.56" fill="#ff00ff" stroke="#000" stroke-width="1"/>
<polygon points="869.14,24.90 867.79,27.66 864.72,27.45 866.44,30.00 864.72,32.55 867.79,32.34 869.14,35.10 870.49,32.34 873.56,32.55 871.84,30.00 873.56,27.45 870.49,27.66" fill="#ff00ff" stroke="#000" stroke-width="1"/>
<polygon points="886.79,18.90 885.44,21.66 882.37,21.45 884.09,24.00 882.37,26.55 885.44,26.34 886.79,29.10 888.14,26.34 891.21,26.55 889.49,24.00 891.21,21.45 888.14,21.66" fill="#ff00ff" stroke="#000" stroke-width="1"/>
<polygon points="898.03,15.90 896.68,18.66 893.61,18.45 895.33,21.00 893.61,23.55 896.68,23.34 898.03,26.10 899.38,23.34 902.45,23.55 900.73,21.00 902.45,18.45 899.38,18.66" fill="#ff00ff" stroke="#000" stroke-width="1"/>
<polygon points="927.62,10.90 926.27,13.66 923.21,13.45 924.92,16.00 923.21,18.55 926.27,18.34 927.62,21.10 928.97,18.34 932.04,18.55 930.32,16.00 932.04,13.45 928.97,13.66" fill="#ff00ff" stroke="#000" stroke-width="1"/>
<polygon points="939.37,8.90 938.02,11.66 934.95,11.45 936.67,14.00 934.95,16.55 938.02,16.34 939.37,19.10 940.72,16.34 943.78,16.55 942.07,14.00 943.78,11.45 940.72,11.66" fill="#ff00ff" stroke="#000" stroke-width="1"/>
<polygon points="949.72,7.90 948.37,10.66 945.31,10.45 947.02,13.00 945.31,15.55 948.37,15.34 949.72,18.10 951.07,15.34 954.14,15.55 952.42,13.00 954.14,10.45 951.07,10.66" fill="#ff00ff" stroke="#000" stroke-width="1"/>
<polygon points="975.02,5.90 973.67,8.66 970.61,8.45 972.32,11.00 970.61,13.55 973.67,13.34 975.02,16.10 976.37,13.34 979.44,13.55 977.72,11.00 979.44,8.45 976.37,8.66" fill="#ff00ff" stroke="#000" stroke-width="1"/>
<polygon points="988.58,5.40 987.23,8.16 984.16,7.95 985.88,10.50 984.16,13.05 987.23,12.84 988.58,15.60 989.93,12.84 993.00,13.05 991.28,10.50 993.00,7.95 989.93,8.16" fill="#ff00ff" stroke="#000" stroke-width="1"/>
<polygon points="1010.68,4.40 1009.33,7.16 1006.27,6.95 1007.98,9.50 1006.27,12.05 1009.33,11.84 1010.68,14.60 1012.03,11.84 1015.10,12.05 1013.38,9.50 1015.10,6.95 1012.03,7.16" fill="#ff00ff" stroke="#000" stroke-width="1"/>
<polygon points="1024.24,3.90 1022.89,6.66 1019.82,6.45 1021.54,9.00 1019.82,11.55 1022.89,11.34 1024.24,14.10 1025.59,11.34 1028.66,11.55 1026.94,9.00 1028.66,6.45 1025.59,6.66" fill="#ff00ff" stroke="#000" stroke-width="1"/>
<polygon points="1035.98,3.90 1034.63,6.66 1031.57,6.45 1033.28,9.00 1031.57,11.55 1034.63,11.34 1035.98,14.10 1037.33,11.34 1040.40,11.55 1038.68,9.00 1040.40,6.45 1037.33,6.66" fill="#ff00ff" stroke="#000" stroke-width="1"/>
<polygon points="1061.28,2.90 1059.93,5.66 1056.87,5.45 1058.58,8.00 1056.87,10.55 1059.93,10.34 1061.28,13.10 1062.63,10.34 1065.70,10.55 1063.98,8.00 1065.70,5.45 1062.63,5.66" fill="#ff00ff" stroke="#000" stroke-width="1"/>
<polygon points="1071.64,2.90 1070.29,5.66 1067.22,5.45 1068.94,8.00 1067.22,10.55 1070.29,10.34 1071.64,13.10 1072.99,10.34 1076.06,10.55 1074.34,8.00 1076.06,5.45 1072.99,5.66" fill="#ff00ff" stroke="#000" stroke-width="1"/>
<polygon points="1089.29,2.40 1087.94,5.16 1084.87,4.95 1086.59,7.50 1084.87,10.05 1087.94,9.84 1089.29,12.60 1090.64,9.84 1093.71,10.05 1091.99,7.50 1093.71,4.95 1090.64,5.16" fill="#ff00ff" stroke="#000" stroke-width="1"/>
<polygon points="1100.53,2.40 1099.18,5.16 1096.11,4.95 1097.83,7.50 1096.11,10.05 1099.18,9.84 1100.53,12.60 1101.88,9.84 1104.95,10.05 1103.23,7.50 1104.95,4.95 1101.88,5.16" fill="#ff00ff" stroke="#000" stroke-width="1"/>
<path d="M786.08,231.30 L808.18,231.30 L821.74,72.80 L833.48,48.00 L843.84,39.00 L858.78,28.70 L869.14,24.60 L886.79,20.50 L898.03,18.00 L914.07,15.50 L927.62,13.30 L939.37,12.40 L949.72,11.80 L975.02,9.50 L988.58,9.50 L1000.32,9.00 L1010.68,8.00 L1024.24,8.00 L1035.98,8.00 L1061.28,7.50 L1071.64,7.50 L1089.29,7.50 L1100.53,7.50" fill="none" stroke="#0af0f0" stroke-width="3" stroke-linejoin="round"/>
<polygon points="786.08,225.20 790.58,231.30 786.08,237.40 781.58,231.30" fill="#00ffff" stroke="#000" stroke-width="1"/>
<polygon points="808.18,225.20 812.68,231.30 808.18,237.40 803.68,231.30" fill="#00ffff" stroke="#000" stroke-width="1"/>
<polygon points="821.74,66.70 826.24,72.80 821.74,78.90 817.24,72.80" fill="#00ffff" stroke="#000" stroke-width="1"/>
<polygon points="843.84,32.90 848.34,39.00 843.84,45.10 839.34,39.00" fill="#00ffff" stroke="#000" stroke-width="1"/>
<polygon points="858.78,22.60 863.28,28.70 858.78,34.80 854.28,28.70" fill="#00ffff" stroke="#000" stroke-width="1"/>
<polygon points="869.14,18.50 873.64,24.60 869.14,30.70 864.64,24.60" fill="#00ffff" stroke="#000" stroke-width="1"/>
<polygon points="886.79,14.40 891.29,20.50 886.79,26.60 882.29,20.50" fill="#00ffff" stroke="#000" stroke-width="1"/>
<polygon points="898.03,11.90 902.53,18.00 898.03,24.10 893.53,18.00" fill="#00ffff" stroke="#000" stroke-width="1"/>
<polygon points="927.62,7.20 932.12,13.30 927.62,19.40 923.12,13.30" fill="#00ffff" stroke="#000" stroke-width="1"/>
<polygon points="939.37,6.30 943.87,12.40 939.37,18.50 934.87,12.40" fill="#00ffff" stroke="#000" stroke-width="1"/>
<polygon points="949.72,5.70 954.22,11.80 949.72,17.90 945.22,11.80" fill="#00ffff" stroke="#000" stroke-width="1"/>
<polygon points="975.02,3.40 979.52,9.50 975.02,15.60 970.52,9.50" fill="#00ffff" stroke="#000" stroke-width="1"/>
<polygon points="988.58,3.40 993.08,9.50 988.58,15.60 984.08,9.50" fill="#00ffff" stroke="#000" stroke-width="1"/>
<polygon points="1010.68,1.90 1015.18,8.00 1010.68,14.10 1006.18,8.00" fill="#00ffff" stroke="#000" stroke-width="1"/>
<polygon points="1024.24,1.90 1028.74,8.00 1024.24,14.10 1019.74,8.00" fill="#00ffff" stroke="#000" stroke-width="1"/>
<polygon points="1035.98,1.90 1040.48,8.00 1035.98,14.10 1031.48,8.00" fill="#00ffff" stroke="#000" stroke-width="1"/>
<polygon points="1061.28,1.40 1065.78,7.50 1061.28,13.60 1056.78,7.50" fill="#00ffff" stroke="#000" stroke-width="1"/>
<polygon points="1071.64,1.40 1076.14,7.50 1071.64,13.60 1067.14,7.50" fill="#00ffff" stroke="#000" stroke-width="1"/>
<polygon points="1089.29,1.40 1093.79,7.50 1089.29,13.60 1084.79,7.50" fill="#00ffff" stroke="#000" stroke-width="1"/>
<polygon points="1100.53,1.40 1105.03,7.50 1100.53,13.60 1096.03,7.50" fill="#00ffff" stroke="#000" stroke-width="1"/>
<path d="M786.08,238.00 L808.18,238.00 L821.74,80.00 L833.48,46.20 L843.84,32.80 L858.78,31.80 L869.14,29.70 L886.79,28.70 L898.03,23.60 L914.07,22.00 L927.62,20.50 L939.37,19.90 L949.72,19.00 L975.02,13.00 L988.58,14.00 L1000.32,13.50 L1010.68,12.80 L1024.24,10.10 L1035.98,10.90 L1061.28,10.40 L1071.64,10.10 L1089.29,9.20 L1100.53,9.20" fill="none" stroke="#0000f0" stroke-width="3" stroke-linejoin="round"/>
<rect x="782.28" y="234.20" width="7.60" height="7.60" fill="#0000ff" stroke="#000" stroke-width="1"/>
<rect x="804.38" y="234.20" width="7.60" height="7.60" fill="#0000ff" stroke="#000" stroke-width="1"/>
<rect x="817.94" y="76.20" width="7.60" height="7.60" fill="#0000ff" stroke="#000" stroke-width="1"/>
<rect x="840.04" y="29.00" width="7.60" height="7.60" fill="#0000ff" stroke="#000" stroke-width="1"/>
<rect x="854.98" y="28.00" width="7.60" height="7.60" fill="#0000ff" stroke="#000" stroke-width="1"/>
<rect x="865.34" y="25.90" width="7.60" height="7.60" fill="#0000ff" stroke="#000" stroke-width="1"/>
<rect x="882.99" y="24.90" width="7.60" height="7.60" fill="#0000ff" stroke="#000" stroke-width="1"/>
<rect x="894.23" y="19.80" width="7.60" height="7.60" fill="#0000ff" stroke="#000" stroke-width="1"/>
<rect x="923.82" y="16.70" width="7.60" height="7.60" fill="#0000ff" stroke="#000" stroke-width="1"/>
<rect x="935.57" y="16.10" width="7.60" height="7.60" fill="#0000ff" stroke="#000" stroke-width="1"/>
<rect x="945.92" y="15.20" width="7.60" height="7.60" fill="#0000ff" stroke="#000" stroke-width="1"/>
<rect x="971.22" y="9.20" width="7.60" height="7.60" fill="#0000ff" stroke="#000" stroke-width="1"/>
<rect x="984.78" y="10.20" width="7.60" height="7.60" fill="#0000ff" stroke="#000" stroke-width="1"/>
<rect x="1006.88" y="9.00" width="7.60" height="7.60" fill="#0000ff" stroke="#000" stroke-width="1"/>
<rect x="1020.44" y="6.30" width="7.60" height="7.60" fill="#0000ff" stroke="#000" stroke-width="1"/>
<rect x="1032.18" y="7.10" width="7.60" height="7.60" fill="#0000ff" stroke="#000" stroke-width="1"/>
<rect x="1057.48" y="6.60" width="7.60" height="7.60" fill="#0000ff" stroke="#000" stroke-width="1"/>
<rect x="1067.84" y="6.30" width="7.60" height="7.60" fill="#0000ff" stroke="#000" stroke-width="1"/>
<rect x="1085.49" y="5.40" width="7.60" height="7.60" fill="#0000ff" stroke="#000" stroke-width="1"/>
<rect x="1096.73" y="5.40" width="7.60" height="7.60" fill="#0000ff" stroke="#000" stroke-width="1"/>
<rect x="786.50" y="3" width="314.00" height="4" fill="#000"/>
<line x1="1187.50" y1="3.00" x2="1187.50" y2="238.50" stroke="#c8c8c8" stroke-width="1" stroke-dasharray="1 1.9"/>
<line x1="1222.50" y1="3.00" x2="1222.50" y2="238.50" stroke="#c8c8c8" stroke-width="1" stroke-dasharray="1 1.9"/>
<line x1="1248.50" y1="3.00" x2="1248.50" y2="238.50" stroke="#c8c8c8" stroke-width="1" stroke-dasharray="1 1.9"/>
<line x1="1267.50" y1="3.00" x2="1267.50" y2="238.50" stroke="#c8c8c8" stroke-width="1" stroke-dasharray="1 1.9"/>
<line x1="1283.50" y1="3.00" x2="1283.50" y2="238.50" stroke="#c8c8c8" stroke-width="1" stroke-dasharray="1 1.9"/>
<line x1="1297.50" y1="3.00" x2="1297.50" y2="238.50" stroke="#c8c8c8" stroke-width="1" stroke-dasharray="1 1.9"/>
<line x1="1309.50" y1="3.00" x2="1309.50" y2="238.50" stroke="#c8c8c8" stroke-width="1" stroke-dasharray="1 1.9"/>
<line x1="1319.50" y1="3.00" x2="1319.50" y2="238.50" stroke="#c8c8c8" stroke-width="1" stroke-dasharray="1 1.9"/>
<line x1="1389.50" y1="3.00" x2="1389.50" y2="238.50" stroke="#c8c8c8" stroke-width="1" stroke-dasharray="1 1.9"/>
<line x1="1425.50" y1="3.00" x2="1425.50" y2="238.50" stroke="#c8c8c8" stroke-width="1" stroke-dasharray="1 1.9"/>
<line x1="1450.50" y1="3.00" x2="1450.50" y2="238.50" stroke="#c8c8c8" stroke-width="1" stroke-dasharray="1 1.9"/>
<line x1="1328.50" y1="3.50" x2="1328.50" y2="238.50" stroke="#e5e5e5" stroke-width="1"/>
<line x1="1155.50" y1="238.50" x2="1469.50" y2="238.50" stroke="#e5e5e5" stroke-width="1"/>
<line x1="1155.50" y1="208.50" x2="1469.50" y2="208.50" stroke="#e5e5e5" stroke-width="1"/>
<line x1="1155.50" y1="179.50" x2="1469.50" y2="179.50" stroke="#e5e5e5" stroke-width="1"/>
<line x1="1155.50" y1="149.50" x2="1469.50" y2="149.50" stroke="#e5e5e5" stroke-width="1"/>
<line x1="1155.50" y1="120.50" x2="1469.50" y2="120.50" stroke="#e5e5e5" stroke-width="1"/>
<line x1="1155.50" y1="90.50" x2="1469.50" y2="90.50" stroke="#e5e5e5" stroke-width="1"/>
<line x1="1155.50" y1="61.50" x2="1469.50" y2="61.50" stroke="#e5e5e5" stroke-width="1"/>
<line x1="1155.50" y1="31.50" x2="1469.50" y2="31.50" stroke="#e5e5e5" stroke-width="1"/>
<rect x="1155.50" y="3.50" width="314.00" height="235.00" fill="none" stroke="#262626" stroke-width="1"/>
<line x1="1155.50" y1="238.50" x2="1159.00" y2="238.50" stroke="#262626" stroke-width="1"/>
<line x1="1469.50" y1="238.50" x2="1466.00" y2="238.50" stroke="#262626" stroke-width="1"/>
<text x="1151.30" y="244.10" text-anchor="end" font-size="14.5" fill="#262626">0</text>
<line x1="1155.50" y1="208.50" x2="1159.00" y2="208.50" stroke="#262626" stroke-width="1"/>
<line x1="1469.50" y1="208.50" x2="1466.00" y2="208.50" stroke="#262626" stroke-width="1"/>
<text x="1151.30" y="214.10" text-anchor="end" font-size="14.5" fill="#262626">1</text>
<line x1="1155.50" y1="179.50" x2="1159.00" y2="179.50" stroke="#262626" stroke-width="1"/>
<line x1="1469.50" y1="179.50" x2="1466.00" y2="179.50" stroke="#262626" stroke-width="1"/>
<text x="1151.30" y="185.10" text-anchor="end" font-size="14.5" fill="#262626">2</text>
<line x1="1155.50" y1="149.50" x2="1159.00" y2="149.50" stroke="#262626" stroke-width="1"/>
<line x1="1469.50" y1="149.50" x2="1466.00" y2="149.50" stroke="#262626" stroke-width="1"/>
<text x="1151.30" y="155.10" text-anchor="end" font-size="14.5" fill="#262626">3</text>
<line x1="1155.50" y1="120.50" x2="1159.00" y2="120.50" stroke="#262626" stroke-width="1"/>
<line x1="1469.50" y1="120.50" x2="1466.00" y2="120.50" stroke="#262626" stroke-width="1"/>
<text x="1151.30" y="126.10" text-anchor="end" font-size="14.5" fill="#262626">4</text>
<line x1="1155.50" y1="90.50" x2="1159.00" y2="90.50" stroke="#262626" stroke-width="1"/>
<line x1="1469.50" y1="90.50" x2="1466.00" y2="90.50" stroke="#262626" stroke-width="1"/>
<text x="1151.30" y="96.10" text-anchor="end" font-size="14.5" fill="#262626">5</text>
<line x1="1155.50" y1="61.50" x2="1159.00" y2="61.50" stroke="#262626" stroke-width="1"/>
<line x1="1469.50" y1="61.50" x2="1466.00" y2="61.50" stroke="#262626" stroke-width="1"/>
<text x="1151.30" y="67.10" text-anchor="end" font-size="14.5" fill="#262626">6</text>
<line x1="1155.50" y1="31.50" x2="1159.00" y2="31.50" stroke="#262626" stroke-width="1"/>
<line x1="1469.50" y1="31.50" x2="1466.00" y2="31.50" stroke="#262626" stroke-width="1"/>
<text x="1151.30" y="37.10" text-anchor="end" font-size="14.5" fill="#262626">7</text>
<line x1="1328.50" y1="238.50" x2="1328.50" y2="235.00" stroke="#262626" stroke-width="1"/>
<line x1="1328.50" y1="3.50" x2="1328.50" y2="7.00" stroke="#262626" stroke-width="1"/>
<text x="1328.80" y="261.80" text-anchor="middle" font-size="14.5" fill="#262626">10<tspan font-size="11" dx="1.2" dy="-7.3">3</tspan></text>
<line x1="1187.50" y1="238.50" x2="1187.50" y2="236.50" stroke="#262626" stroke-width="1"/>
<line x1="1187.50" y1="3.50" x2="1187.50" y2="5.50" stroke="#262626" stroke-width="1"/>
<line x1="1222.50" y1="238.50" x2="1222.50" y2="236.50" stroke="#262626" stroke-width="1"/>
<line x1="1222.50" y1="3.50" x2="1222.50" y2="5.50" stroke="#262626" stroke-width="1"/>
<line x1="1248.50" y1="238.50" x2="1248.50" y2="236.50" stroke="#262626" stroke-width="1"/>
<line x1="1248.50" y1="3.50" x2="1248.50" y2="5.50" stroke="#262626" stroke-width="1"/>
<line x1="1267.50" y1="238.50" x2="1267.50" y2="236.50" stroke="#262626" stroke-width="1"/>
<line x1="1267.50" y1="3.50" x2="1267.50" y2="5.50" stroke="#262626" stroke-width="1"/>
<line x1="1283.50" y1="238.50" x2="1283.50" y2="236.50" stroke="#262626" stroke-width="1"/>
<line x1="1283.50" y1="3.50" x2="1283.50" y2="5.50" stroke="#262626" stroke-width="1"/>
<line x1="1297.50" y1="238.50" x2="1297.50" y2="236.50" stroke="#262626" stroke-width="1"/>
<line x1="1297.50" y1="3.50" x2="1297.50" y2="5.50" stroke="#262626" stroke-width="1"/>
<line x1="1309.50" y1="238.50" x2="1309.50" y2="236.50" stroke="#262626" stroke-width="1"/>
<line x1="1309.50" y1="3.50" x2="1309.50" y2="5.50" stroke="#262626" stroke-width="1"/>
<line x1="1319.50" y1="238.50" x2="1319.50" y2="236.50" stroke="#262626" stroke-width="1"/>
<line x1="1319.50" y1="3.50" x2="1319.50" y2="5.50" stroke="#262626" stroke-width="1"/>
<line x1="1389.50" y1="238.50" x2="1389.50" y2="236.50" stroke="#262626" stroke-width="1"/>
<line x1="1389.50" y1="3.50" x2="1389.50" y2="5.50" stroke="#262626" stroke-width="1"/>
<line x1="1425.50" y1="238.50" x2="1425.50" y2="236.50" stroke="#262626" stroke-width="1"/>
<line x1="1425.50" y1="3.50" x2="1425.50" y2="5.50" stroke="#262626" stroke-width="1"/>
<line x1="1450.50" y1="238.50" x2="1450.50" y2="236.50" stroke="#262626" stroke-width="1"/>
<line x1="1450.50" y1="3.50" x2="1450.50" y2="5.50" stroke="#262626" stroke-width="1"/>
<text x="1313.30" y="281.40" text-anchor="middle" font-size="16" fill="#262626">Iteration</text>
<text transform="translate(1125.30,121.00) rotate(-90)" text-anchor="middle" font-size="16" fill="#262626">Objective</text>
<path d="M1155.79,227.60 L1177.89,227.60 L1191.45,212.00 L1203.19,128.00 L1213.55,73.40 L1228.49,44.70 L1238.85,35.90 L1256.50,26.30 L1267.74,22.60 L1283.78,19.00 L1297.33,16.00 L1309.08,14.00 L1319.43,13.00 L1344.73,11.00 L1358.29,10.50 L1370.03,10.00 L1380.39,9.50 L1393.95,9.00 L1405.69,9.00 L1430.99,8.50 L1441.35,8.50 L1459.00,8.00 L1470.24,8.00" fill="none" stroke="#f000f0" stroke-width="3" stroke-linejoin="round"/>
<polygon points="1155.79,222.50 1154.44,225.26 1151.37,225.05 1153.09,227.60 1151.37,230.15 1154.44,229.94 1155.79,232.70 1157.14,229.94 1160.21,230.15 1158.49,227.60 1160.21,225.05 1157.14,225.26" fill="#ff00ff" stroke="#000" stroke-width="1"/>
<polygon points="1177.89,222.50 1176.54,225.26 1173.48,225.05 1175.19,227.60 1173.48,230.15 1176.54,229.94 1177.89,232.70 1179.24,229.94 1182.31,230.15 1180.59,227.60 1182.31,225.05 1179.24,225.26" fill="#ff00ff" stroke="#000" stroke-width="1"/>
<polygon points="1191.45,206.90 1190.10,209.66 1187.03,209.45 1188.75,212.00 1187.03,214.55 1190.10,214.34 1191.45,217.10 1192.80,214.34 1195.87,214.55 1194.15,212.00 1195.87,209.45 1192.80,209.66" fill="#ff00ff" stroke="#000" stroke-width="1"/>
<polygon points="1213.55,68.30 1212.20,71.06 1209.13,70.85 1210.85,73.40 1209.13,75.95 1212.20,75.74 1213.55,78.50 1214.90,75.74 1217.97,75.95 1216.25,73.40 1217.97,70.85 1214.90,71.06" fill="#ff00ff" stroke="#000" stroke-width="1"/>
<polygon points="1228.49,39.60 1227.14,42.36 1224.08,42.15 1225.79,44.70 1224.08,47.25 1227.14,47.04 1228.49,49.80 1229.84,47.04 1232.91,47.25 1231.19,44.70 1232.91,42.15 1229.84,42.36" fill="#ff00ff" stroke="#000" stroke-width="1"/>
<polygon points="1238.85,30.80 1237.50,33.56 1234.43,33.35 1236.15,35.90 1234.43,38.45 1237.50,38.24 1238.85,41.00 1240.20,38.24 1243.27,38.45 1241.55,35.90 1243.27,33.35 1240.20,33.56" fill="#ff00ff" stroke="#000" stroke-width="1"/>
<polygon points="1256.50,21.20 1255.15,23.96 1252.08,23.75 1253.80,26.30 1252.08,28.85 1255.15,28.64 1256.50,31.40 1257.85,28.64 1260.92,28.85 1259.20,26.30 1260.92,23.75 1257.85,23.96" fill="#ff00ff" stroke="#000" stroke-width="1"/>
<polygon points="1267.74,17.50 1266.39,20.26 1263.32,20.05 1265.04,22.60 1263.32,25.15 1266.39,24.94 1267.74,27.70 1269.09,24.94 1272.16,25.15 1270.44,22.60 1272.16,20.05 1269.09,20.26" fill="#ff00ff" stroke="#000" stroke-width="1"/>
<polygon points="1297.33,10.90 1295.98,13.66 1292.92,13.45 1294.63,16.00 1292.92,18.55 1295.98,18.34 1297.33,21.10 1298.68,18.34 1301.75,18.55 1300.03,16.00 1301.75,13.45 1298.68,13.66" fill="#ff00ff" stroke="#000" stroke-width="1"/>
<polygon points="1309.08,8.90 1307.73,11.66 1304.66,11.45 1306.38,14.00 1304.66,16.55 1307.73,16.34 1309.08,19.10 1310.43,16.34 1313.49,16.55 1311.78,14.00 1313.49,11.45 1310.43,11.66" fill="#ff00ff" stroke="#000" stroke-width="1"/>
<polygon points="1319.43,7.90 1318.08,10.66 1315.02,10.45 1316.73,13.00 1315.02,15.55 1318.08,15.34 1319.43,18.10 1320.78,15.34 1323.85,15.55 1322.13,13.00 1323.85,10.45 1320.78,10.66" fill="#ff00ff" stroke="#000" stroke-width="1"/>
<polygon points="1344.73,5.90 1343.38,8.66 1340.32,8.45 1342.03,11.00 1340.32,13.55 1343.38,13.34 1344.73,16.10 1346.08,13.34 1349.15,13.55 1347.43,11.00 1349.15,8.45 1346.08,8.66" fill="#ff00ff" stroke="#000" stroke-width="1"/>
<polygon points="1358.29,5.40 1356.94,8.16 1353.87,7.95 1355.59,10.50 1353.87,13.05 1356.94,12.84 1358.29,15.60 1359.64,12.84 1362.71,13.05 1360.99,10.50 1362.71,7.95 1359.64,8.16" fill="#ff00ff" stroke="#000" stroke-width="1"/>
<polygon points="1380.39,4.40 1379.04,7.16 1375.98,6.95 1377.69,9.50 1375.98,12.05 1379.04,11.84 1380.39,14.60 1381.74,11.84 1384.81,12.05 1383.09,9.50 1384.81,6.95 1381.74,7.16" fill="#ff00ff" stroke="#000" stroke-width="1"/>
<polygon points="1393.95,3.90 1392.60,6.66 1389.53,6.45 1391.25,9.00 1389.53,11.55 1392.60,11.34 1393.95,14.10 1395.30,11.34 1398.37,11.55 1396.65,9.00 1398.37,6.45 1395.30,6.66" fill="#ff00ff" stroke="#000" stroke-width="1"/>
<polygon points="1405.69,3.90 1404.34,6.66 1401.28,6.45 1402.99,9.00 1401.28,11.55 1404.34,11.34 1405.69,14.10 1407.04,11.34 1410.11,11.55 1408.39,9.00 1410.11,6.45 1407.04,6.66" fill="#ff00ff" stroke="#000" stroke-width="1"/>
<polygon points="1430.99,3.40 1429.64,6.16 1426.58,5.95 1428.29,8.50 1426.58,11.05 1429.64,10.84 1430.99,13.60 1432.34,10.84 1435.41,11.05 1433.69,8.50 1435.41,5.95 1432.34,6.16" fill="#ff00ff" stroke="#000" stroke-width="1"/>
<polygon points="1441.35,3.40 1440.00,6.16 1436.93,5.95 1438.65,8.50 1436.93,11.05 1440.00,10.84 1441.35,13.60 1442.70,10.84 1445.77,11.05 1444.05,8.50 1445.77,5.95 1442.70,6.16" fill="#ff00ff" stroke="#000" stroke-width="1"/>
<polygon points="1459.00,2.90 1457.65,5.66 1454.58,5.45 1456.30,8.00 1454.58,10.55 1457.65,10.34 1459.00,13.10 1460.35,10.34 1463.42,10.55 1461.70,8.00 1463.42,5.45 1460.35,5.66" fill="#ff00ff" stroke="#000" stroke-width="1"/>
<polygon points="1470.24,2.90 1468.89,5.66 1465.82,5.45 1467.54,8.00 1465.82,10.55 1468.89,10.34 1470.24,13.10 1471.59,10.34 1474.66,10.55 1472.94,8.00 1474.66,5.45 1471.59,5.66" fill="#ff00ff" stroke="#000" stroke-width="1"/>
<path d="M1155.79,225.80 L1177.89,225.80 L1191.45,88.20 L1203.19,54.40 L1213.55,42.70 L1228.49,33.80 L1238.85,25.60 L1256.50,21.50 L1267.74,18.50 L1283.78,16.00 L1297.33,13.90 L1309.08,11.30 L1319.43,10.40 L1344.73,8.50 L1358.29,8.50 L1370.03,8.20 L1380.39,8.00 L1393.95,8.00 L1405.69,8.00 L1430.99,7.50 L1441.35,7.50 L1459.00,7.50 L1470.24,7.50" fill="none" stroke="#0af0f0" stroke-width="3" stroke-linejoin="round"/>
<polygon points="1155.79,219.70 1160.29,225.80 1155.79,231.90 1151.29,225.80" fill="#00ffff" stroke="#000" stroke-width="1"/>
<polygon points="1177.89,219.70 1182.39,225.80 1177.89,231.90 1173.39,225.80" fill="#00ffff" stroke="#000" stroke-width="1"/>
<polygon points="1191.45,82.10 1195.95,88.20 1191.45,94.30 1186.95,88.20" fill="#00ffff" stroke="#000" stroke-width="1"/>
<polygon points="1213.55,36.60 1218.05,42.70 1213.55,48.80 1209.05,42.70" fill="#00ffff" stroke="#000" stroke-width="1"/>
<polygon points="1228.49,27.70 1232.99,33.80 1228.49,39.90 1223.99,33.80" fill="#00ffff" stroke="#000" stroke-width="1"/>
<polygon points="1238.85,19.50 1243.35,25.60 1238.85,31.70 1234.35,25.60" fill="#00ffff" stroke="#000" stroke-width="1"/>
<polygon points="1256.50,15.40 1261.00,21.50 1256.50,27.60 1252.00,21.50" fill="#00ffff" stroke="#000" stroke-width="1"/>
<polygon points="1267.74,12.40 1272.24,18.50 1267.74,24.60 1263.24,18.50" fill="#00ffff" stroke="#000" stroke-width="1"/>
<polygon points="1297.33,7.80 1301.83,13.90 1297.33,20.00 1292.83,13.90" fill="#00ffff" stroke="#000" stroke-width="1"/>
<polygon points="1309.08,5.20 1313.58,11.30 1309.08,17.40 1304.58,11.30" fill="#00ffff" stroke="#000" stroke-width="1"/>
<polygon points="1319.43,4.30 1323.93,10.40 1319.43,16.50 1314.93,10.40" fill="#00ffff" stroke="#000" stroke-width="1"/>
<polygon points="1344.73,2.40 1349.23,8.50 1344.73,14.60 1340.23,8.50" fill="#00ffff" stroke="#000" stroke-width="1"/>
<polygon points="1358.29,2.40 1362.79,8.50 1358.29,14.60 1353.79,8.50" fill="#00ffff" stroke="#000" stroke-width="1"/>
<polygon points="1380.39,1.90 1384.89,8.00 1380.39,14.10 1375.89,8.00" fill="#00ffff" stroke="#000" stroke-width="1"/>
<polygon points="1393.95,1.90 1398.45,8.00 1393.95,14.10 1389.45,8.00" fill="#00ffff" stroke="#000" stroke-width="1"/>
<polygon points="1405.69,1.90 1410.19,8.00 1405.69,14.10 1401.19,8.00" fill="#00ffff" stroke="#000" stroke-width="1"/>
<polygon points="1430.99,1.40 1435.49,7.50 1430.99,13.60 1426.49,7.50" fill="#00ffff" stroke="#000" stroke-width="1"/>
<polygon points="1441.35,1.40 1445.85,7.50 1441.35,13.60 1436.85,7.50" fill="#00ffff" stroke="#000" stroke-width="1"/>
<polygon points="1459.00,1.40 1463.50,7.50 1459.00,13.60 1454.50,7.50" fill="#00ffff" stroke="#000" stroke-width="1"/>
<polygon points="1470.24,1.40 1474.74,7.50 1470.24,13.60 1465.74,7.50" fill="#00ffff" stroke="#000" stroke-width="1"/>
<path d="M1155.79,238.00 L1177.89,238.00 L1191.45,37.30 L1203.19,38.00 L1213.55,32.80 L1228.49,29.30 L1238.85,27.70 L1256.50,23.00 L1267.74,21.50 L1283.78,19.50 L1297.33,18.00 L1309.08,16.80 L1319.43,16.00 L1344.73,12.40 L1358.29,12.40 L1370.03,12.00 L1380.39,11.50 L1393.95,10.10 L1405.69,10.70 L1430.99,9.20 L1441.35,8.50 L1459.00,9.20 L1470.24,9.20" fill="none" stroke="#0000f0" stroke-width="3" stroke-linejoin="round"/>
<rect x="1151.99" y="234.20" width="7.60" height="7.60" fill="#0000ff" stroke="#000" stroke-width="1"/>
<rect x="1174.09" y="234.20" width="7.60" height="7.60" fill="#0000ff" stroke="#000" stroke-width="1"/>
<rect x="1187.65" y="33.50" width="7.60" height="7.60" fill="#0000ff" stroke="#000" stroke-width="1"/>
<rect x="1209.75" y="29.00" width="7.60" height="7.60" fill="#0000ff" stroke="#000" stroke-width="1"/>
<rect x="1224.69" y="25.50" width="7.60" height="7.60" fill="#0000ff" stroke="#000" stroke-width="1"/>
<rect x="1235.05" y="23.90" width="7.60" height="7.60" fill="#0000ff" stroke="#000" stroke-width="1"/>
<rect x="1252.70" y="19.20" width="7.60" height="7.60" fill="#0000ff" stroke="#000" stroke-width="1"/>
<rect x="1263.94" y="17.70" width="7.60" height="7.60" fill="#0000ff" stroke="#000" stroke-width="1"/>
<rect x="1293.53" y="14.20" width="7.60" height="7.60" fill="#0000ff" stroke="#000" stroke-width="1"/>
<rect x="1305.28" y="13.00" width="7.60" height="7.60" fill="#0000ff" stroke="#000" stroke-width="1"/>
<rect x="1315.63" y="12.20" width="7.60" height="7.60" fill="#0000ff" stroke="#000" stroke-width="1"/>
<rect x="1340.93" y="8.60" width="7.60" height="7.60" fill="#0000ff" stroke="#000" stroke-width="1"/>
<rect x="1354.49" y="8.60" width="7.60" height="7.60" fill="#0000ff" stroke="#000" stroke-width="1"/>
<rect x="1376.59" y="7.70" width="7.60" height="7.60" fill="#0000ff" stroke="#000" stroke-width="1"/>
<rect x="1390.15" y="6.30" width="7.60" height="7.60" fill="#0000ff" stroke="#000" stroke-width="1"/>
<rect x="1401.89" y="6.90" width="7.60" height="7.60" fill="#0000ff" stroke="#000" stroke-width="1"/>
<rect x="1427.19" y="5.40" width="7.60" height="7.60" fill="#0000ff" stroke="#000" stroke-width="1"/>
<rect x="1437.55" y="4.70" width="7.60" height="7.60" fill="#0000ff" stroke="#000" stroke-width="1"/>
<rect x="1455.20" y="5.40" width="7.60" height="7.60" fill="#0000ff" stroke="#000" stroke-width="1"/>
<rect x="1466.44" y="5.40" width="7.60" height="7.60" fill="#0000ff" stroke="#000" stroke-width="1"/>
<rect x="1155.50" y="3" width="314.00" height="4" fill="#000"/>
<rect x="221.20" y="132.50" width="133.80" height="98.70" fill="#fff" stroke="#262626" stroke-width="1"/>
<polygon points="235.60,138.60 234.25,141.36 231.18,141.15 232.90,143.70 231.18,146.25 234.25,146.04 235.60,148.80 236.95,146.04 240.02,146.25 238.30,143.70 240.02,141.15 236.95,141.36" fill="#ff00ff" stroke="#000" stroke-width="1"/>
<text x="248.8" y="149.30" font-size="15.8" fill="#000">MSG CCA</text>
<polygon points="235.60,156.80 240.10,162.90 235.60,169.00 231.10,162.90" fill="#00ffff" stroke="#000" stroke-width="1"/>
<text x="248.8" y="168.50" font-size="15.8" fill="#000">MEG CCA</text>
<rect x="231.80" y="178.30" width="7.60" height="7.60" fill="#0000ff" stroke="#000" stroke-width="1"/>
<text x="248.8" y="187.70" font-size="15.8" fill="#000">CCA Lin</text>
<circle cx="235.60" cy="201.30" r="4.5" fill="#ff0000" stroke="#000" stroke-width="1"/>
<text x="248.8" y="206.90" font-size="15.8" fill="#000">ALS CCA</text>
<rect x="224.5" y="218.5" width="22" height="3.4" fill="#000"/>
<text x="248.8" y="225.70" font-size="15.8" fill="#000">Max Objective</text>
<line x1="79.50" y1="303.00" x2="79.50" y2="538.50" stroke="#c8c8c8" stroke-width="1" stroke-dasharray="1 1.9"/>
<line x1="98.50" y1="303.00" x2="98.50" y2="538.50" stroke="#c8c8c8" stroke-width="1" stroke-dasharray="1 1.9"/>
<line x1="111.50" y1="303.00" x2="111.50" y2="538.50" stroke="#c8c8c8" stroke-width="1" stroke-dasharray="1 1.9"/>
<line x1="121.50" y1="303.00" x2="121.50" y2="538.50" stroke="#c8c8c8" stroke-width="1" stroke-dasharray="1 1.9"/>
<line x1="130.50" y1="303.00" x2="130.50" y2="538.50" stroke="#c8c8c8" stroke-width="1" stroke-dasharray="1 1.9"/>
<line x1="137.50" y1="303.00" x2="137.50" y2="538.50" stroke="#c8c8c8" stroke-width="1" stroke-dasharray="1 1.9"/>
<line x1="143.50" y1="303.00" x2="143.50" y2="538.50" stroke="#c8c8c8" stroke-width="1" stroke-dasharray="1 1.9"/>
<line x1="149.50" y1="303.00" x2="149.50" y2="538.50" stroke="#c8c8c8" stroke-width="1" stroke-dasharray="1 1.9"/>
<line x1="186.50" y1="303.00" x2="186.50" y2="538.50" stroke="#c8c8c8" stroke-width="1" stroke-dasharray="1 1.9"/>
<line x1="205.50" y1="303.00" x2="205.50" y2="538.50" stroke="#c8c8c8" stroke-width="1" stroke-dasharray="1 1.9"/>
<line x1="218.50" y1="303.00" x2="218.50" y2="538.50" stroke="#c8c8c8" stroke-width="1" stroke-dasharray="1 1.9"/>
<line x1="229.50" y1="303.00" x2="229.50" y2="538.50" stroke="#c8c8c8" stroke-width="1" stroke-dasharray="1 1.9"/>
<line x1="237.50" y1="303.00" x2="237.50" y2="538.50" stroke="#c8c8c8" stroke-width="1" stroke-dasharray="1 1.9"/>
<line x1="245.50" y1="303.00" x2="245.50" y2="538.50" stroke="#c8c8c8" stroke-width="1" stroke-dasharray="1 1.9"/>
<line x1="251.50" y1="303.00" x2="251.50" y2="538.50" stroke="#c8c8c8" stroke-width="1" stroke-dasharray="1 1.9"/>
<line x1="256.50" y1="303.00" x2="256.50" y2="538.50" stroke="#c8c8c8" stroke-width="1" stroke-dasharray="1 1.9"/>
<line x1="294.50" y1="303.00" x2="294.50" y2="538.50" stroke="#c8c8c8" stroke-width="1" stroke-dasharray="1 1.9"/>
<line x1="313.50" y1="303.00" x2="313.50" y2="538.50" stroke="#c8c8c8" stroke-width="1" stroke-dasharray="1 1.9"/>
<line x1="326.50" y1="303.00" x2="326.50" y2="538.50" stroke="#c8c8c8" stroke-width="1" stroke-dasharray="1 1.9"/>
<line x1="336.50" y1="303.00" x2="336.50" y2="538.50" stroke="#c8c8c8" stroke-width="1" stroke-dasharray="1 1.9"/>
<line x1="345.50" y1="303.00" x2="345.50" y2="538.50" stroke="#c8c8c8" stroke-width="1" stroke-dasharray="1 1.9"/>
<line x1="352.50" y1="303.00" x2="352.50" y2="538.50" stroke="#c8c8c8" stroke-width="1" stroke-dasharray="1 1.9"/>
<line x1="46.50" y1="303.50" x2="46.50" y2="538.50" stroke="#e5e5e5" stroke-width="1"/>
<line x1="154.50" y1="303.50" x2="154.50" y2="538.50" stroke="#e5e5e5" stroke-width="1"/>
<line x1="261.50" y1="303.50" x2="261.50" y2="538.50" stroke="#e5e5e5" stroke-width="1"/>
<line x1="42.50" y1="538.50" x2="356.50" y2="538.50" stroke="#e5e5e5" stroke-width="1"/>
<line x1="42.50" y1="491.50" x2="356.50" y2="491.50" stroke="#e5e5e5" stroke-width="1"/>
<line x1="42.50" y1="444.50" x2="356.50" y2="444.50" stroke="#e5e5e5" stroke-width="1"/>
<line x1="42.50" y1="396.50" x2="356.50" y2="396.50" stroke="#e5e5e5" stroke-width="1"/>
<line x1="42.50" y1="349.50" x2="356.50" y2="349.50" stroke="#e5e5e5" stroke-width="1"/>
<rect x="42.50" y="303.50" width="314.00" height="235.00" fill="none" stroke="#262626" stroke-width="1"/>
<line x1="42.50" y1="538.50" x2="46.00" y2="538.50" stroke="#262626" stroke-width="1"/>
<line x1="356.50" y1="538.50" x2="353.00" y2="538.50" stroke="#262626" stroke-width="1"/>
<text x="38.30" y="544.10" text-anchor="end" font-size="14.5" fill="#262626">0</text>
<line x1="42.50" y1="491.50" x2="46.00" y2="491.50" stroke="#262626" stroke-width="1"/>
<line x1="356.50" y1="491.50" x2="353.00" y2="491.50" stroke="#262626" stroke-width="1"/>
<text x="38.30" y="497.10" text-anchor="end" font-size="14.5" fill="#262626">0.2</text>
<line x1="42.50" y1="444.50" x2="46.00" y2="444.50" stroke="#262626" stroke-width="1"/>
<line x1="356.50" y1="444.50" x2="353.00" y2="444.50" stroke="#262626" stroke-width="1"/>
<text x="38.30" y="450.10" text-anchor="end" font-size="14.5" fill="#262626">0.4</text>
<line x1="42.50" y1="396.50" x2="46.00" y2="396.50" stroke="#262626" stroke-width="1"/>
<line x1="356.50" y1="396.50" x2="353.00" y2="396.50" stroke="#262626" stroke-width="1"/>
<text x="38.30" y="402.10" text-anchor="end" font-size="14.5" fill="#262626">0.6</text>
<line x1="42.50" y1="349.50" x2="46.00" y2="349.50" stroke="#262626" stroke-width="1"/>
<line x1="356.50" y1="349.50" x2="353.00" y2="349.50" stroke="#262626" stroke-width="1"/>
<text x="38.30" y="355.10" text-anchor="end" font-size="14.5" fill="#262626">0.8</text>
<line x1="46.50" y1="538.50" x2="46.50" y2="535.00" stroke="#262626" stroke-width="1"/>
<line x1="46.50" y1="303.50" x2="46.50" y2="307.00" stroke="#262626" stroke-width="1"/>
<text x="46.80" y="561.80" text-anchor="middle" font-size="14.5" fill="#262626">10<tspan font-size="11" dx="1.2" dy="-7.3">0</tspan></text>
<line x1="154.50" y1="538.50" x2="154.50" y2="535.00" stroke="#262626" stroke-width="1"/>
<line x1="154.50" y1="303.50" x2="154.50" y2="307.00" stroke="#262626" stroke-width="1"/>
<text x="154.80" y="561.80" text-anchor="middle" font-size="14.5" fill="#262626">10<tspan font-size="11" dx="1.2" dy="-7.3">1</tspan></text>
<line x1="261.50" y1="538.50" x2="261.50" y2="535.00" stroke="#262626" stroke-width="1"/>
<line x1="261.50" y1="303.50" x2="261.50" y2="307.00" stroke="#262626" stroke-width="1"/>
<text x="261.80" y="561.80" text-anchor="middle" font-size="14.5" fill="#262626">10<tspan font-size="11" dx="1.2" dy="-7.3">2</tspan></text>
<line x1="79.50" y1="538.50" x2="79.50" y2="537.00" stroke="#262626" stroke-width="1"/>
<line x1="79.50" y1="303.50" x2="79.50" y2="305.00" stroke="#262626" stroke-width="1"/>
<line x1="98.50" y1="538.50" x2="98.50" y2="537.00" stroke="#262626" stroke-width="1"/>
<line x1="98.50" y1="303.50" x2="98.50" y2="305.00" stroke="#262626" stroke-width="1"/>
<line x1="111.50" y1="538.50" x2="111.50" y2="537.00" stroke="#262626" stroke-width="1"/>
<line x1="111.50" y1="303.50" x2="111.50" y2="305.00" stroke="#262626" stroke-width="1"/>
<line x1="121.50" y1="538.50" x2="121.50" y2="537.00" stroke="#262626" stroke-width="1"/>
<line x1="121.50" y1="303.50" x2="121.50" y2="305.00" stroke="#262626" stroke-width="1"/>
<line x1="130.50" y1="538.50" x2="130.50" y2="537.00" stroke="#262626" stroke-width="1"/>
<line x1="130.50" y1="303.50" x2="130.50" y2="305.00" stroke="#262626" stroke-width="1"/>
<line x1="137.50" y1="538.50" x2="137.50" y2="537.00" stroke="#262626" stroke-width="1"/>
<line x1="137.50" y1="303.50" x2="137.50" y2="305.00" stroke="#262626" stroke-width="1"/>
<line x1="143.50" y1="538.50" x2="143.50" y2="537.00" stroke="#262626" stroke-width="1"/>
<line x1="143.50" y1="303.50" x2="143.50" y2="305.00" stroke="#262626" stroke-width="1"/>
<line x1="149.50" y1="538.50" x2="149.50" y2="537.00" stroke="#262626" stroke-width="1"/>
<line x1="149.50" y1="303.50" x2="149.50" y2="305.00" stroke="#262626" stroke-width="1"/>
<line x1="186.50" y1="538.50" x2="186.50" y2="537.00" stroke="#262626" stroke-width="1"/>
<line x1="186.50" y1="303.50" x2="186.50" y2="305.00" stroke="#262626" stroke-width="1"/>
<line x1="205.50" y1="538.50" x2="205.50" y2="537.00" stroke="#262626" stroke-width="1"/>
<line x1="205.50" y1="303.50" x2="205.50" y2="305.00" stroke="#262626" stroke-width="1"/>
<line x1="218.50" y1="538.50" x2="218.50" y2="537.00" stroke="#262626" stroke-width="1"/>
<line x1="218.50" y1="303.50" x2="218.50" y2="305.00" stroke="#262626" stroke-width="1"/>
<line x1="229.50" y1="538.50" x2="229.50" y2="537.00" stroke="#262626" stroke-width="1"/>
<line x1="229.50" y1="303.50" x2="229.50" y2="305.00" stroke="#262626" stroke-width="1"/>
<line x1="237.50" y1="538.50" x2="237.50" y2="537.00" stroke="#262626" stroke-width="1"/>
<line x1="237.50" y1="303.50" x2="237.50" y2="305.00" stroke="#262626" stroke-width="1"/>
<line x1="245.50" y1="538.50" x2="245.50" y2="537.00" stroke="#262626" stroke-width="1"/>
<line x1="245.50" y1="303.50" x2="245.50" y2="305.00" stroke="#262626" stroke-width="1"/>
<line x1="251.50" y1="538.50" x2="251.50" y2="537.00" stroke="#262626" stroke-width="1"/>
<line x1="251.50" y1="303.50" x2="251.50" y2="305.00" stroke="#262626" stroke-width="1"/>
<line x1="256.50" y1="538.50" x2="256.50" y2="537.00" stroke="#262626" stroke-width="1"/>
<line x1="256.50" y1="303.50" x2="256.50" y2="305.00" stroke="#262626" stroke-width="1"/>
<line x1="294.50" y1="538.50" x2="294.50" y2="537.00" stroke="#262626" stroke-width="1"/>
<line x1="294.50" y1="303.50" x2="294.50" y2="305.00" stroke="#262626" stroke-width="1"/>
<line x1="313.50" y1="538.50" x2="313.50" y2="537.00" stroke="#262626" stroke-width="1"/>
<line x1="313.50" y1="303.50" x2="313.50" y2="305.00" stroke="#262626" stroke-width="1"/>
<line x1="326.50" y1="538.50" x2="326.50" y2="537.00" stroke="#262626" stroke-width="1"/>
<line x1="326.50" y1="303.50" x2="326.50" y2="305.00" stroke="#262626" stroke-width="1"/>
<line x1="336.50" y1="538.50" x2="336.50" y2="537.00" stroke="#262626" stroke-width="1"/>
<line x1="336.50" y1="303.50" x2="336.50" y2="305.00" stroke="#262626" stroke-width="1"/>
<line x1="345.50" y1="538.50" x2="345.50" y2="537.00" stroke="#262626" stroke-width="1"/>
<line x1="345.50" y1="303.50" x2="345.50" y2="305.00" stroke="#262626" stroke-width="1"/>
<line x1="352.50" y1="538.50" x2="352.50" y2="537.00" stroke="#262626" stroke-width="1"/>
<line x1="352.50" y1="303.50" x2="352.50" y2="305.00" stroke="#262626" stroke-width="1"/>
<text x="200.30" y="581.40" text-anchor="middle" font-size="16" fill="#262626">Runtime (in seconds)</text>
<text transform="translate(12.30,421.00) rotate(-90)" text-anchor="middle" font-size="16" fill="#262626">Objective</text>
<path d="M66.00,521.40 L87.50,521.40 L99.90,525.10 L109.40,356.50 L118.00,336.00 L131.30,328.40 L141.20,325.40 L158.60,320.60 L168.30,318.60 L191.90,313.80 L200.00,313.20 L207.30,312.50 L225.70,311.30 L233.60,310.00 L246.40,309.50 L258.00,308.50 L271.00,307.80 L290.20,306.90" fill="none" stroke="#f000f0" stroke-width="3" stroke-linejoin="round"/>
<polygon points="66.00,516.30 64.65,519.06 61.58,518.85 63.30,521.40 61.58,523.95 64.65,523.74 66.00,526.50 67.35,523.74 70.42,523.95 68.70,521.40 70.42,518.85 67.35,519.06" fill="#ff00ff" stroke="#000" stroke-width="1"/>
<polygon points="87.50,516.30 86.15,519.06 83.08,518.85 84.80,521.40 83.08,523.95 86.15,523.74 87.50,526.50 88.85,523.74 91.92,523.95 90.20,521.40 91.92,518.85 88.85,519.06" fill="#ff00ff" stroke="#000" stroke-width="1"/>
<polygon points="99.90,520.00 98.55,522.76 95.48,522.55 97.20,525.10 95.48,527.65 98.55,527.44 99.90,530.20 101.25,527.44 104.32,527.65 102.60,525.10 104.32,522.55 101.25,522.76" fill="#ff00ff" stroke="#000" stroke-width="1"/>
<polygon points="118.00,330.90 116.65,333.66 113.58,333.45 115.30,336.00 113.58,338.55 116.65,338.34 118.00,341.10 119.35,338.34 122.42,338.55 120.70,336.00 122.42,333.45 119.35,333.66" fill="#ff00ff" stroke="#000" stroke-width="1"/>
<polygon points="131.30,323.30 129.95,326.06 126.88,325.85 128.60,328.40 126.88,330.95 129.95,330.74 131.30,333.50 132.65,330.74 135.72,330.95 134.00,328.40 135.72,325.85 132.65,326.06" fill="#ff00ff" stroke="#000" stroke-width="1"/>
<polygon points="141.20,320.30 139.85,323.06 136.78,322.85 138.50,325.40 136.78,327.95 139.85,327.74 141.20,330.50 142.55,327.74 145.62,327.95 143.90,325.40 145.62,322.85 142.55,323.06" fill="#ff00ff" stroke="#000" stroke-width="1"/>
<polygon points="158.60,315.50 157.25,318.26 154.18,318.05 155.90,320.60 154.18,323.15 157.25,322.94 158.60,325.70 159.95,322.94 163.02,323.15 161.30,320.60 163.02,318.05 159.95,318.26" fill="#ff00ff" stroke="#000" stroke-width="1"/>
<polygon points="168.30,313.50 166.95,316.26 163.88,316.05 165.60,318.60 163.88,321.15 166.95,320.94 168.30,323.70 169.65,320.94 172.72,321.15 171.00,318.60 172.72,316.05 169.65,316.26" fill="#ff00ff" stroke="#000" stroke-width="1"/>
<polygon points="191.90,308.70 190.55,311.46 187.48,311.25 189.20,313.80 187.48,316.35 190.55,316.14 191.90,318.90 193.25,316.14 196.32,316.35 194.60,313.80 196.32,311.25 193.25,311.46" fill="#ff00ff" stroke="#000" stroke-width="1"/>
<polygon points="200.00,308.10 198.65,310.86 195.58,310.65 197.30,313.20 195.58,315.75 198.65,315.54 200.00,318.30 201.35,315.54 204.42,315.75 202.70,313.20 204.42,310.65 201.35,310.86" fill="#ff00ff" stroke="#000" stroke-width="1"/>
<polygon points="207.30,307.40 205.95,310.16 202.88,309.95 204.60,312.50 202.88,315.05 205.95,314.84 207.30,317.60 208.65,314.84 211.72,315.05 210.00,312.50 211.72,309.95 208.65,310.16" fill="#ff00ff" stroke="#000" stroke-width="1"/>
<polygon points="225.70,306.20 224.35,308.96 221.28,308.75 223.00,311.30 221.28,313.85 224.35,313.64 225.70,316.40 227.05,313.64 230.12,313.85 228.40,311.30 230.12,308.75 227.05,308.96" fill="#ff00ff" stroke="#000" stroke-width="1"/>
<polygon points="233.60,304.90 232.25,307.66 229.18,307.45 230.90,310.00 229.18,312.55 232.25,312.34 233.60,315.10 234.95,312.34 238.02,312.55 236.30,310.00 238.02,307.45 234.95,307.66" fill="#ff00ff" stroke="#000" stroke-width="1"/>
<polygon points="246.40,304.40 245.05,307.16 241.98,306.95 243.70,309.50 241.98,312.05 245.05,311.84 246.40,314.60 247.75,311.84 250.82,312.05 249.10,309.50 250.82,306.95 247.75,307.16" fill="#ff00ff" stroke="#000" stroke-width="1"/>
<polygon points="258.00,303.40 256.65,306.16 253.58,305.95 255.30,308.50 253.58,311.05 256.65,310.84 258.00,313.60 259.35,310.84 262.42,311.05 260.70,308.50 262.42,305.95 259.35,306.16" fill="#ff00ff" stroke="#000" stroke-width="1"/>
<polygon points="271.00,302.70 269.65,305.46 266.58,305.25 268.30,307.80 266.58,310.35 269.65,310.14 271.00,312.90 272.35,310.14 275.42,310.35 273.70,307.80 275.42,305.25 272.35,305.46" fill="#ff00ff" stroke="#000" stroke-width="1"/>
<polygon points="290.20,301.80 288.85,304.56 285.78,304.35 287.50,306.90 285.78,309.45 288.85,309.24 290.20,312.00 291.55,309.24 294.62,309.45 292.90,306.90 294.62,304.35 291.55,304.56" fill="#ff00ff" stroke="#000" stroke-width="1"/>
<path d="M82.80,536.40 L105.50,536.40 L125.20,366.20 L140.60,349.40 L166.80,334.40 L190.20,328.40 L202.30,325.10 L220.10,321.30 L229.20,319.00 L250.00,316.00 L262.00,314.00 L285.20,310.70 L293.40,308.80 L308.40,310.30 L315.90,309.40 L322.80,309.40 L336.60,309.00 L342.60,309.00 L351.00,308.20 L356.90,308.20" fill="none" stroke="#0af0f0" stroke-width="3" stroke-linejoin="round"/>
<polygon points="82.80,530.30 87.30,536.40 82.80,542.50 78.30,536.40" fill="#00ffff" stroke="#000" stroke-width="1"/>
<polygon points="105.50,530.30 110.00,536.40 105.50,542.50 101.00,536.40" fill="#00ffff" stroke="#000" stroke-width="1"/>
<polygon points="125.20,360.10 129.70,366.20 125.20,372.30 120.70,366.20" fill="#00ffff" stroke="#000" stroke-width="1"/>
<polygon points="166.80,328.30 171.30,334.40 166.80,340.50 162.30,334.40" fill="#00ffff" stroke="#000" stroke-width="1"/>
<polygon points="190.20,322.30 194.70,328.40 190.20,334.50 185.70,328.40" fill="#00ffff" stroke="#000" stroke-width="1"/>
<polygon points="202.30,319.00 206.80,325.10 202.30,331.20 197.80,325.10" fill="#00ffff" stroke="#000" stroke-width="1"/>
<polygon points="220.10,315.20 224.60,321.30 220.10,327.40 215.60,321.30" fill="#00ffff" stroke="#000" stroke-width="1"/>
<polygon points="229.20,312.90 233.70,319.00 229.20,325.10 224.70,319.00" fill="#00ffff" stroke="#000" stroke-width="1"/>
<polygon points="250.00,309.90 254.50,316.00 250.00,322.10 245.50,316.00" fill="#00ffff" stroke="#000" stroke-width="1"/>
<polygon points="262.00,307.90 266.50,314.00 262.00,320.10 257.50,314.00" fill="#00ffff" stroke="#000" stroke-width="1"/>
<polygon points="285.20,304.60 289.70,310.70 285.20,316.80 280.70,310.70" fill="#00ffff" stroke="#000" stroke-width="1"/>
<polygon points="293.40,302.70 297.90,308.80 293.40,314.90 288.90,308.80" fill="#00ffff" stroke="#000" stroke-width="1"/>
<polygon points="308.40,304.20 312.90,310.30 308.40,316.40 303.90,310.30" fill="#00ffff" stroke="#000" stroke-width="1"/>
<polygon points="315.90,303.30 320.40,309.40 315.90,315.50 311.40,309.40" fill="#00ffff" stroke="#000" stroke-width="1"/>
<polygon points="322.80,303.30 327.30,309.40 322.80,315.50 318.30,309.40" fill="#00ffff" stroke="#000" stroke-width="1"/>
<polygon points="336.60,302.90 341.10,309.00 336.60,315.10 332.10,309.00" fill="#00ffff" stroke="#000" stroke-width="1"/>
<polygon points="342.60,302.90 347.10,309.00 342.60,315.10 338.10,309.00" fill="#00ffff" stroke="#000" stroke-width="1"/>
<polygon points="351.00,302.10 355.50,308.20 351.00,314.30 346.50,308.20" fill="#00ffff" stroke="#000" stroke-width="1"/>
<polygon points="356.90,302.10 361.40,308.20 356.90,314.30 352.40,308.20" fill="#00ffff" stroke="#000" stroke-width="1"/>
<path d="M42.50,480.50 L76.40,497.10 L96.90,481.70 L114.00,472.30 L127.70,465.60 L150.00,443.30 L159.90,432.70 L166.30,415.00 L178.10,366.80 L185.70,320.00 L193.90,320.60 L207.30,318.20 L214.10,313.80 L227.00,313.80 L233.60,313.20 L239.90,313.80 L252.00,310.70 L258.70,310.70 L269.90,309.40 L275.80,310.00" fill="none" stroke="#0000f0" stroke-width="3" stroke-linejoin="round"/>
<rect x="38.70" y="476.70" width="7.60" height="7.60" fill="#0000ff" stroke="#000" stroke-width="1"/>
<rect x="93.10" y="477.90" width="7.60" height="7.60" fill="#0000ff" stroke="#000" stroke-width="1"/>
<rect x="110.20" y="468.50" width="7.60" height="7.60" fill="#0000ff" stroke="#000" stroke-width="1"/>
<rect x="123.90" y="461.80" width="7.60" height="7.60" fill="#0000ff" stroke="#000" stroke-width="1"/>
<rect x="146.20" y="439.50" width="7.60" height="7.60" fill="#0000ff" stroke="#000" stroke-width="1"/>
<rect x="156.10" y="428.90" width="7.60" height="7.60" fill="#0000ff" stroke="#000" stroke-width="1"/>
<rect x="174.30" y="363.00" width="7.60" height="7.60" fill="#0000ff" stroke="#000" stroke-width="1"/>
<rect x="181.90" y="316.20" width="7.60" height="7.60" fill="#0000ff" stroke="#000" stroke-width="1"/>
<rect x="190.10" y="316.80" width="7.60" height="7.60" fill="#0000ff" stroke="#000" stroke-width="1"/>
<rect x="203.50" y="314.40" width="7.60" height="7.60" fill="#0000ff" stroke="#000" stroke-width="1"/>
<rect x="210.30" y="310.00" width="7.60" height="7.60" fill="#0000ff" stroke="#000" stroke-width="1"/>
<rect x="223.20" y="310.00" width="7.60" height="7.60" fill="#0000ff" stroke="#000" stroke-width="1"/>
<rect x="229.80" y="309.40" width="7.60" height="7.60" fill="#0000ff" stroke="#000" stroke-width="1"/>
<rect x="236.10" y="310.00" width="7.60" height="7.60" fill="#0000ff" stroke="#000" stroke-width="1"/>
<rect x="248.20" y="306.90" width="7.60" height="7.60" fill="#0000ff" stroke="#000" stroke-width="1"/>
<rect x="254.90" y="306.90" width="7.60" height="7.60" fill="#0000ff" stroke="#000" stroke-width="1"/>
<rect x="266.10" y="305.60" width="7.60" height="7.60" fill="#0000ff" stroke="#000" stroke-width="1"/>
<rect x="272.00" y="306.20" width="7.60" height="7.60" fill="#0000ff" stroke="#000" stroke-width="1"/>
<path d="M66.30,370.50 L99.50,365.80 L114.90,364.10 L130.90,359.00 L144.70,354.90 L166.60,351.80 L175.40,349.80 L192.90,340.80 L201.50,338.20 L209.80,334.80 L223.60,330.30 L230.70,327.30 L244.50,323.60 L251.40,322.30 L258.00,320.70 L271.20,317.80 L278.30,317.30 L289.60,316.00 L296.50,315.30" fill="none" stroke="#f00000" stroke-width="3" stroke-linejoin="round"/>
<circle cx="66.30" cy="370.50" r="4.5" fill="#ff0000" stroke="#000" stroke-width="1"/>
<circle cx="114.90" cy="364.10" r="4.5" fill="#ff0000" stroke="#000" stroke-width="1"/>
<circle cx="130.90" cy="359.00" r="4.5" fill="#ff0000" stroke="#000" stroke-width="1"/>
<circle cx="144.70" cy="354.90" r="4.5" fill="#ff0000" stroke="#000" stroke-width="1"/>
<circle cx="166.60" cy="351.80" r="4.5" fill="#ff0000" stroke="#000" stroke-width="1"/>
<circle cx="175.40" cy="349.80" r="4.5" fill="#ff0000" stroke="#000" stroke-width="1"/>
<circle cx="192.90" cy="340.80" r="4.5" fill="#ff0000" stroke="#000" stroke-width="1"/>
<circle cx="201.50" cy="338.20" r="4.5" fill="#ff0000" stroke="#000" stroke-width="1"/>
<circle cx="209.80" cy="334.80" r="4.5" fill="#ff0000" stroke="#000" stroke-width="1"/>
<circle cx="223.60" cy="330.30" r="4.5" fill="#ff0000" stroke="#000" stroke-width="1"/>
<circle cx="230.70" cy="327.30" r="4.5" fill="#ff0000" stroke="#000" stroke-width="1"/>
<circle cx="244.50" cy="323.60" r="4.5" fill="#ff0000" stroke="#000" stroke-width="1"/>
<circle cx="251.40" cy="322.30" r="4.5" fill="#ff0000" stroke="#000" stroke-width="1"/>
<circle cx="258.00" cy="320.70" r="4.5" fill="#ff0000" stroke="#000" stroke-width="1"/>
<circle cx="271.20" cy="317.80" r="4.5" fill="#ff0000" stroke="#000" stroke-width="1"/>
<circle cx="278.30" cy="317.30" r="4.5" fill="#ff0000" stroke="#000" stroke-width="1"/>
<circle cx="289.60" cy="316.00" r="4.5" fill="#ff0000" stroke="#000" stroke-width="1"/>
<circle cx="296.50" cy="315.30" r="4.5" fill="#ff0000" stroke="#000" stroke-width="1"/>
<line x1="426.50" y1="303.00" x2="426.50" y2="538.50" stroke="#c8c8c8" stroke-width="1" stroke-dasharray="1 1.9"/>
<line x1="448.50" y1="303.00" x2="448.50" y2="538.50" stroke="#c8c8c8" stroke-width="1" stroke-dasharray="1 1.9"/>
<line x1="463.50" y1="303.00" x2="463.50" y2="538.50" stroke="#c8c8c8" stroke-width="1" stroke-dasharray="1 1.9"/>
<line x1="475.50" y1="303.00" x2="475.50" y2="538.50" stroke="#c8c8c8" stroke-width="1" stroke-dasharray="1 1.9"/>
<line x1="485.50" y1="303.00" x2="485.50" y2="538.50" stroke="#c8c8c8" stroke-width="1" stroke-dasharray="1 1.9"/>
<line x1="493.50" y1="303.00" x2="493.50" y2="538.50" stroke="#c8c8c8" stroke-width="1" stroke-dasharray="1 1.9"/>
<line x1="500.50" y1="303.00" x2="500.50" y2="538.50" stroke="#c8c8c8" stroke-width="1" stroke-dasharray="1 1.9"/>
<line x1="506.50" y1="303.00" x2="506.50" y2="538.50" stroke="#c8c8c8" stroke-width="1" stroke-dasharray="1 1.9"/>
<line x1="549.50" y1="303.00" x2="549.50" y2="538.50" stroke="#c8c8c8" stroke-width="1" stroke-dasharray="1 1.9"/>
<line x1="571.50" y1="303.00" x2="571.50" y2="538.50" stroke="#c8c8c8" stroke-width="1" stroke-dasharray="1 1.9"/>
<line x1="586.50" y1="303.00" x2="586.50" y2="538.50" stroke="#c8c8c8" stroke-width="1" stroke-dasharray="1 1.9"/>
<line x1="598.50" y1="303.00" x2="598.50" y2="538.50" stroke="#c8c8c8" stroke-width="1" stroke-dasharray="1 1.9"/>
<line x1="608.50" y1="303.00" x2="608.50" y2="538.50" stroke="#c8c8c8" stroke-width="1" stroke-dasharray="1 1.9"/>
<line x1="616.50" y1="303.00" x2="616.50" y2="538.50" stroke="#c8c8c8" stroke-width="1" stroke-dasharray="1 1.9"/>
<line x1="623.50" y1="303.00" x2="623.50" y2="538.50" stroke="#c8c8c8" stroke-width="1" stroke-dasharray="1 1.9"/>
<line x1="629.50" y1="303.00" x2="629.50" y2="538.50" stroke="#c8c8c8" stroke-width="1" stroke-dasharray="1 1.9"/>
<line x1="672.50" y1="303.00" x2="672.50" y2="538.50" stroke="#c8c8c8" stroke-width="1" stroke-dasharray="1 1.9"/>
<line x1="694.50" y1="303.00" x2="694.50" y2="538.50" stroke="#c8c8c8" stroke-width="1" stroke-dasharray="1 1.9"/>
<line x1="709.50" y1="303.00" x2="709.50" y2="538.50" stroke="#c8c8c8" stroke-width="1" stroke-dasharray="1 1.9"/>
<line x1="721.50" y1="303.00" x2="721.50" y2="538.50" stroke="#c8c8c8" stroke-width="1" stroke-dasharray="1 1.9"/>
<line x1="512.50" y1="303.50" x2="512.50" y2="538.50" stroke="#e5e5e5" stroke-width="1"/>
<line x1="635.50" y1="303.50" x2="635.50" y2="538.50" stroke="#e5e5e5" stroke-width="1"/>
<line x1="416.50" y1="538.50" x2="730.50" y2="538.50" stroke="#e5e5e5" stroke-width="1"/>
<line x1="416.50" y1="479.50" x2="730.50" y2="479.50" stroke="#e5e5e5" stroke-width="1"/>
<line x1="416.50" y1="420.50" x2="730.50" y2="420.50" stroke="#e5e5e5" stroke-width="1"/>
<line x1="416.50" y1="361.50" x2="730.50" y2="361.50" stroke="#e5e5e5" stroke-width="1"/>
<rect x="416.50" y="303.50" width="314.00" height="235.00" fill="none" stroke="#262626" stroke-width="1"/>
<line x1="416.50" y1="538.50" x2="420.00" y2="538.50" stroke="#262626" stroke-width="1"/>
<line x1="730.50" y1="538.50" x2="727.00" y2="538.50" stroke="#262626" stroke-width="1"/>
<text x="412.30" y="544.10" text-anchor="end" font-size="14.5" fill="#262626">0</text>
<line x1="416.50" y1="479.50" x2="420.00" y2="479.50" stroke="#262626" stroke-width="1"/>
<line x1="730.50" y1="479.50" x2="727.00" y2="479.50" stroke="#262626" stroke-width="1"/>
<text x="412.30" y="485.10" text-anchor="end" font-size="14.5" fill="#262626">0.5</text>
<line x1="416.50" y1="420.50" x2="420.00" y2="420.50" stroke="#262626" stroke-width="1"/>
<line x1="730.50" y1="420.50" x2="727.00" y2="420.50" stroke="#262626" stroke-width="1"/>
<text x="412.30" y="426.10" text-anchor="end" font-size="14.5" fill="#262626">1</text>
<line x1="416.50" y1="361.50" x2="420.00" y2="361.50" stroke="#262626" stroke-width="1"/>
<line x1="730.50" y1="361.50" x2="727.00" y2="361.50" stroke="#262626" stroke-width="1"/>
<text x="412.30" y="367.10" text-anchor="end" font-size="14.5" fill="#262626">1.5</text>
<line x1="512.50" y1="538.50" x2="512.50" y2="535.00" stroke="#262626" stroke-width="1"/>
<line x1="512.50" y1="303.50" x2="512.50" y2="307.00" stroke="#262626" stroke-width="1"/>
<text x="512.80" y="561.80" text-anchor="middle" font-size="14.5" fill="#262626">10<tspan font-size="11" dx="1.2" dy="-7.3">1</tspan></text>
<line x1="635.50" y1="538.50" x2="635.50" y2="535.00" stroke="#262626" stroke-width="1"/>
<line x1="635.50" y1="303.50" x2="635.50" y2="307.00" stroke="#262626" stroke-width="1"/>
<text x="635.80" y="561.80" text-anchor="middle" font-size="14.5" fill="#262626">10<tspan font-size="11" dx="1.2" dy="-7.3">2</tspan></text>
<line x1="426.50" y1="538.50" x2="426.50" y2="537.00" stroke="#262626" stroke-width="1"/>
<line x1="426.50" y1="303.50" x2="426.50" y2="305.00" stroke="#262626" stroke-width="1"/>
<line x1="448.50" y1="538.50" x2="448.50" y2="537.00" stroke="#262626" stroke-width="1"/>
<line x1="448.50" y1="303.50" x2="448.50" y2="305.00" stroke="#262626" stroke-width="1"/>
<line x1="463.50" y1="538.50" x2="463.50" y2="537.00" stroke="#262626" stroke-width="1"/>
<line x1="463.50" y1="303.50" x2="463.50" y2="305.00" stroke="#262626" stroke-width="1"/>
<line x1="475.50" y1="538.50" x2="475.50" y2="537.00" stroke="#262626" stroke-width="1"/>
<line x1="475.50" y1="303.50" x2="475.50" y2="305.00" stroke="#262626" stroke-width="1"/>
<line x1="485.50" y1="538.50" x2="485.50" y2="537.00" stroke="#262626" stroke-width="1"/>
<line x1="485.50" y1="303.50" x2="485.50" y2="305.00" stroke="#262626" stroke-width="1"/>
<line x1="493.50" y1="538.50" x2="493.50" y2="537.00" stroke="#262626" stroke-width="1"/>
<line x1="493.50" y1="303.50" x2="493.50" y2="305.00" stroke="#262626" stroke-width="1"/>
<line x1="500.50" y1="538.50" x2="500.50" y2="537.00" stroke="#262626" stroke-width="1"/>
<line x1="500.50" y1="303.50" x2="500.50" y2="305.00" stroke="#262626" stroke-width="1"/>
<line x1="506.50" y1="538.50" x2="506.50" y2="537.00" stroke="#262626" stroke-width="1"/>
<line x1="506.50" y1="303.50" x2="506.50" y2="305.00" stroke="#262626" stroke-width="1"/>
<line x1="549.50" y1="538.50" x2="549.50" y2="537.00" stroke="#262626" stroke-width="1"/>
<line x1="549.50" y1="303.50" x2="549.50" y2="305.00" stroke="#262626" stroke-width="1"/>
<line x1="571.50" y1="538.50" x2="571.50" y2="537.00" stroke="#262626" stroke-width="1"/>
<line x1="571.50" y1="303.50" x2="571.50" y2="305.00" stroke="#262626" stroke-width="1"/>
<line x1="586.50" y1="538.50" x2="586.50" y2="537.00" stroke="#262626" stroke-width="1"/>
<line x1="586.50" y1="303.50" x2="586.50" y2="305.00" stroke="#262626" stroke-width="1"/>
<line x1="598.50" y1="538.50" x2="598.50" y2="537.00" stroke="#262626" stroke-width="1"/>
<line x1="598.50" y1="303.50" x2="598.50" y2="305.00" stroke="#262626" stroke-width="1"/>
<line x1="608.50" y1="538.50" x2="608.50" y2="537.00" stroke="#262626" stroke-width="1"/>
<line x1="608.50" y1="303.50" x2="608.50" y2="305.00" stroke="#262626" stroke-width="1"/>
<line x1="616.50" y1="538.50" x2="616.50" y2="537.00" stroke="#262626" stroke-width="1"/>
<line x1="616.50" y1="303.50" x2="616.50" y2="305.00" stroke="#262626" stroke-width="1"/>
<line x1="623.50" y1="538.50" x2="623.50" y2="537.00" stroke="#262626" stroke-width="1"/>
<line x1="623.50" y1="303.50" x2="623.50" y2="305.00" stroke="#262626" stroke-width="1"/>
<line x1="629.50" y1="538.50" x2="629.50" y2="537.00" stroke="#262626" stroke-width="1"/>
<line x1="629.50" y1="303.50" x2="629.50" y2="305.00" stroke="#262626" stroke-width="1"/>
<line x1="672.50" y1="538.50" x2="672.50" y2="537.00" stroke="#262626" stroke-width="1"/>
<line x1="672.50" y1="303.50" x2="672.50" y2="305.00" stroke="#262626" stroke-width="1"/>
<line x1="694.50" y1="538.50" x2="694.50" y2="537.00" stroke="#262626" stroke-width="1"/>
<line x1="694.50" y1="303.50" x2="694.50" y2="305.00" stroke="#262626" stroke-width="1"/>
<line x1="709.50" y1="538.50" x2="709.50" y2="537.00" stroke="#262626" stroke-width="1"/>
<line x1="709.50" y1="303.50" x2="709.50" y2="305.00" stroke="#262626" stroke-width="1"/>
<line x1="721.50" y1="538.50" x2="721.50" y2="537.00" stroke="#262626" stroke-width="1"/>
<line x1="721.50" y1="303.50" x2="721.50" y2="305.00" stroke="#262626" stroke-width="1"/>
<text x="574.30" y="581.40" text-anchor="middle" font-size="16" fill="#262626">Runtime (in seconds)</text>
<text transform="translate(386.30,421.00) rotate(-90)" text-anchor="middle" font-size="16" fill="#262626">Objective</text>
<path d="M416.90,521.40 L442.20,521.40 L457.60,514.40 L471.50,362.70 L479.70,345.30 L495.10,333.00 L507.40,327.40 L525.30,322.10 L536.60,319.60 L562.20,315.10 L571.30,313.80 L579.40,313.20 L597.00,311.30 L606.40,310.70 L620.10,309.80 L630.10,308.80 L637.70,308.20 L650.20,306.90 L670.20,306.30 L680.00,306.00" fill="none" stroke="#f000f0" stroke-width="3" stroke-linejoin="round"/>
<polygon points="416.90,516.30 415.55,519.06 412.48,518.85 414.20,521.40 412.48,523.95 415.55,523.74 416.90,526.50 418.25,523.74 421.32,523.95 419.60,521.40 421.32,518.85 418.25,519.06" fill="#ff00ff" stroke="#000" stroke-width="1"/>
<polygon points="442.20,516.30 440.85,519.06 437.78,518.85 439.50,521.40 437.78,523.95 440.85,523.74 442.20,526.50 443.55,523.74 446.62,523.95 444.90,521.40 446.62,518.85 443.55,519.06" fill="#ff00ff" stroke="#000" stroke-width="1"/>
<polygon points="457.60,509.30 456.25,512.06 453.18,511.85 454.90,514.40 453.18,516.95 456.25,516.74 457.60,519.50 458.95,516.74 462.02,516.95 460.30,514.40 462.02,511.85 458.95,512.06" fill="#ff00ff" stroke="#000" stroke-width="1"/>
<polygon points="479.70,340.20 478.35,342.96 475.28,342.75 477.00,345.30 475.28,347.85 478.35,347.64 479.70,350.40 481.05,347.64 484.12,347.85 482.40,345.30 484.12,342.75 481.05,342.96" fill="#ff00ff" stroke="#000" stroke-width="1"/>
<polygon points="495.10,327.90 493.75,330.66 490.68,330.45 492.40,333.00 490.68,335.55 493.75,335.34 495.10,338.10 496.45,335.34 499.52,335.55 497.80,333.00 499.52,330.45 496.45,330.66" fill="#ff00ff" stroke="#000" stroke-width="1"/>
<polygon points="507.40,322.30 506.05,325.06 502.98,324.85 504.70,327.40 502.98,329.95 506.05,329.74 507.40,332.50 508.75,329.74 511.82,329.95 510.10,327.40 511.82,324.85 508.75,325.06" fill="#ff00ff" stroke="#000" stroke-width="1"/>
<polygon points="525.30,317.00 523.95,319.76 520.88,319.55 522.60,322.10 520.88,324.65 523.95,324.44 525.30,327.20 526.65,324.44 529.72,324.65 528.00,322.10 529.72,319.55 526.65,319.76" fill="#ff00ff" stroke="#000" stroke-width="1"/>
<polygon points="536.60,314.50 535.25,317.26 532.18,317.05 533.90,319.60 532.18,322.15 535.25,321.94 536.60,324.70 537.95,321.94 541.02,322.15 539.30,319.60 541.02,317.05 537.95,317.26" fill="#ff00ff" stroke="#000" stroke-width="1"/>
<polygon points="562.20,310.00 560.85,312.76 557.78,312.55 559.50,315.10 557.78,317.65 560.85,317.44 562.20,320.20 563.55,317.44 566.62,317.65 564.90,315.10 566.62,312.55 563.55,312.76" fill="#ff00ff" stroke="#000" stroke-width="1"/>
<polygon points="571.30,308.70 569.95,311.46 566.88,311.25 568.60,313.80 566.88,316.35 569.95,316.14 571.30,318.90 572.65,316.14 575.72,316.35 574.00,313.80 575.72,311.25 572.65,311.46" fill="#ff00ff" stroke="#000" stroke-width="1"/>
<polygon points="579.40,308.10 578.05,310.86 574.98,310.65 576.70,313.20 574.98,315.75 578.05,315.54 579.40,318.30 580.75,315.54 583.82,315.75 582.10,313.20 583.82,310.65 580.75,310.86" fill="#ff00ff" stroke="#000" stroke-width="1"/>
<polygon points="597.00,306.20 595.65,308.96 592.58,308.75 594.30,311.30 592.58,313.85 595.65,313.64 597.00,316.40 598.35,313.64 601.42,313.85 599.70,311.30 601.42,308.75 598.35,308.96" fill="#ff00ff" stroke="#000" stroke-width="1"/>
<polygon points="606.40,305.60 605.05,308.36 601.98,308.15 603.70,310.70 601.98,313.25 605.05,313.04 606.40,315.80 607.75,313.04 610.82,313.25 609.10,310.70 610.82,308.15 607.75,308.36" fill="#ff00ff" stroke="#000" stroke-width="1"/>
<polygon points="620.10,304.70 618.75,307.46 615.68,307.25 617.40,309.80 615.68,312.35 618.75,312.14 620.10,314.90 621.45,312.14 624.52,312.35 622.80,309.80 624.52,307.25 621.45,307.46" fill="#ff00ff" stroke="#000" stroke-width="1"/>
<polygon points="630.10,303.70 628.75,306.46 625.68,306.25 627.40,308.80 625.68,311.35 628.75,311.14 630.10,313.90 631.45,311.14 634.52,311.35 632.80,308.80 634.52,306.25 631.45,306.46" fill="#ff00ff" stroke="#000" stroke-width="1"/>
<polygon points="637.70,303.10 636.35,305.86 633.28,305.65 635.00,308.20 633.28,310.75 636.35,310.54 637.70,313.30 639.05,310.54 642.12,310.75 640.40,308.20 642.12,305.65 639.05,305.86" fill="#ff00ff" stroke="#000" stroke-width="1"/>
<polygon points="650.20,301.80 648.85,304.56 645.78,304.35 647.50,306.90 645.78,309.45 648.85,309.24 650.20,312.00 651.55,309.24 654.62,309.45 652.90,306.90 654.62,304.35 651.55,304.56" fill="#ff00ff" stroke="#000" stroke-width="1"/>
<polygon points="670.20,301.20 668.85,303.96 665.78,303.75 667.50,306.30 665.78,308.85 668.85,308.64 670.20,311.40 671.55,308.64 674.62,308.85 672.90,306.30 674.62,303.75 671.55,303.96" fill="#ff00ff" stroke="#000" stroke-width="1"/>
<polygon points="680.00,300.90 678.65,303.66 675.58,303.45 677.30,306.00 675.58,308.55 678.65,308.34 680.00,311.10 681.35,308.34 684.42,308.55 682.70,306.00 684.42,303.45 681.35,303.66" fill="#ff00ff" stroke="#000" stroke-width="1"/>
<path d="M419.90,536.60 L445.40,536.60 L468.90,369.30 L498.20,344.20 L516.10,336.00 L540.70,329.30 L554.20,325.20 L575.70,321.30 L588.20,318.20 L613.00,314.00 L626.40,312.50 L640.00,311.50 L653.30,311.50 L678.40,307.50 L695.00,307.00 L707.80,306.30 L714.00,306.30 L724.30,308.20 L730.30,308.20" fill="none" stroke="#0af0f0" stroke-width="3" stroke-linejoin="round"/>
<polygon points="419.90,530.50 424.40,536.60 419.90,542.70 415.40,536.60" fill="#00ffff" stroke="#000" stroke-width="1"/>
<polygon points="445.40,530.50 449.90,536.60 445.40,542.70 440.90,536.60" fill="#00ffff" stroke="#000" stroke-width="1"/>
<polygon points="468.90,363.20 473.40,369.30 468.90,375.40 464.40,369.30" fill="#00ffff" stroke="#000" stroke-width="1"/>
<polygon points="516.10,329.90 520.60,336.00 516.10,342.10 511.60,336.00" fill="#00ffff" stroke="#000" stroke-width="1"/>
<polygon points="540.70,323.20 545.20,329.30 540.70,335.40 536.20,329.30" fill="#00ffff" stroke="#000" stroke-width="1"/>
<polygon points="554.20,319.10 558.70,325.20 554.20,331.30 549.70,325.20" fill="#00ffff" stroke="#000" stroke-width="1"/>
<polygon points="575.70,315.20 580.20,321.30 575.70,327.40 571.20,321.30" fill="#00ffff" stroke="#000" stroke-width="1"/>
<polygon points="588.20,312.10 592.70,318.20 588.20,324.30 583.70,318.20" fill="#00ffff" stroke="#000" stroke-width="1"/>
<polygon points="613.00,307.90 617.50,314.00 613.00,320.10 608.50,314.00" fill="#00ffff" stroke="#000" stroke-width="1"/>
<polygon points="626.40,306.40 630.90,312.50 626.40,318.60 621.90,312.50" fill="#00ffff" stroke="#000" stroke-width="1"/>
<polygon points="640.00,305.40 644.50,311.50 640.00,317.60 635.50,311.50" fill="#00ffff" stroke="#000" stroke-width="1"/>
<polygon points="653.30,305.40 657.80,311.50 653.30,317.60 648.80,311.50" fill="#00ffff" stroke="#000" stroke-width="1"/>
<polygon points="678.40,301.40 682.90,307.50 678.40,313.60 673.90,307.50" fill="#00ffff" stroke="#000" stroke-width="1"/>
<polygon points="695.00,300.90 699.50,307.00 695.00,313.10 690.50,307.00" fill="#00ffff" stroke="#000" stroke-width="1"/>
<polygon points="707.80,300.20 712.30,306.30 707.80,312.40 703.30,306.30" fill="#00ffff" stroke="#000" stroke-width="1"/>
<polygon points="714.00,300.20 718.50,306.30 714.00,312.40 709.50,306.30" fill="#00ffff" stroke="#000" stroke-width="1"/>
<polygon points="724.30,302.10 728.80,308.20 724.30,314.30 719.80,308.20" fill="#00ffff" stroke="#000" stroke-width="1"/>
<polygon points="730.30,302.10 734.80,308.20 730.30,314.30 725.80,308.20" fill="#00ffff" stroke="#000" stroke-width="1"/>
<path d="M441.00,449.50 L484.30,448.30 L509.80,434.70 L531.90,416.60 L548.90,394.90 L573.20,332.80 L582.80,328.20 L602.00,319.80 L610.70,318.80 L618.90,316.90 L635.20,313.50 L643.90,317.50 L659.00,310.70 L665.80,312.50 L672.70,312.50 L687.80,310.70 L695.30,307.50 L708.80,310.00 L716.00,310.70" fill="none" stroke="#0000f0" stroke-width="3" stroke-linejoin="round"/>
<rect x="437.20" y="445.70" width="7.60" height="7.60" fill="#0000ff" stroke="#000" stroke-width="1"/>
<rect x="506.00" y="430.90" width="7.60" height="7.60" fill="#0000ff" stroke="#000" stroke-width="1"/>
<rect x="528.10" y="412.80" width="7.60" height="7.60" fill="#0000ff" stroke="#000" stroke-width="1"/>
<rect x="545.10" y="391.10" width="7.60" height="7.60" fill="#0000ff" stroke="#000" stroke-width="1"/>
<rect x="569.40" y="329.00" width="7.60" height="7.60" fill="#0000ff" stroke="#000" stroke-width="1"/>
<rect x="579.00" y="324.40" width="7.60" height="7.60" fill="#0000ff" stroke="#000" stroke-width="1"/>
<rect x="598.20" y="316.00" width="7.60" height="7.60" fill="#0000ff" stroke="#000" stroke-width="1"/>
<rect x="606.90" y="315.00" width="7.60" height="7.60" fill="#0000ff" stroke="#000" stroke-width="1"/>
<rect x="615.10" y="313.10" width="7.60" height="7.60" fill="#0000ff" stroke="#000" stroke-width="1"/>
<rect x="631.40" y="309.70" width="7.60" height="7.60" fill="#0000ff" stroke="#000" stroke-width="1"/>
<rect x="640.10" y="313.70" width="7.60" height="7.60" fill="#0000ff" stroke="#000" stroke-width="1"/>
<rect x="655.20" y="306.90" width="7.60" height="7.60" fill="#0000ff" stroke="#000" stroke-width="1"/>
<rect x="662.00" y="308.70" width="7.60" height="7.60" fill="#0000ff" stroke="#000" stroke-width="1"/>
<rect x="668.90" y="308.70" width="7.60" height="7.60" fill="#0000ff" stroke="#000" stroke-width="1"/>
<rect x="684.00" y="306.90" width="7.60" height="7.60" fill="#0000ff" stroke="#000" stroke-width="1"/>
<rect x="691.50" y="303.70" width="7.60" height="7.60" fill="#0000ff" stroke="#000" stroke-width="1"/>
<rect x="705.00" y="306.20" width="7.60" height="7.60" fill="#0000ff" stroke="#000" stroke-width="1"/>
<rect x="712.20" y="306.90" width="7.60" height="7.60" fill="#0000ff" stroke="#000" stroke-width="1"/>
<line x1="812.50" y1="303.00" x2="812.50" y2="538.50" stroke="#c8c8c8" stroke-width="1" stroke-dasharray="1 1.9"/>
<line x1="831.50" y1="303.00" x2="831.50" y2="538.50" stroke="#c8c8c8" stroke-width="1" stroke-dasharray="1 1.9"/>
<line x1="845.50" y1="303.00" x2="845.50" y2="538.50" stroke="#c8c8c8" stroke-width="1" stroke-dasharray="1 1.9"/>
<line x1="855.50" y1="303.00" x2="855.50" y2="538.50" stroke="#c8c8c8" stroke-width="1" stroke-dasharray="1 1.9"/>
<line x1="864.50" y1="303.00" x2="864.50" y2="538.50" stroke="#c8c8c8" stroke-width="1" stroke-dasharray="1 1.9"/>
<line x1="871.50" y1="303.00" x2="871.50" y2="538.50" stroke="#c8c8c8" stroke-width="1" stroke-dasharray="1 1.9"/>
<line x1="878.50" y1="303.00" x2="878.50" y2="538.50" stroke="#c8c8c8" stroke-width="1" stroke-dasharray="1 1.9"/>
<line x1="883.50" y1="303.00" x2="883.50" y2="538.50" stroke="#c8c8c8" stroke-width="1" stroke-dasharray="1 1.9"/>
<line x1="922.50" y1="303.00" x2="922.50" y2="538.50" stroke="#c8c8c8" stroke-width="1" stroke-dasharray="1 1.9"/>
<line x1="941.50" y1="303.00" x2="941.50" y2="538.50" stroke="#c8c8c8" stroke-width="1" stroke-dasharray="1 1.9"/>
<line x1="955.50" y1="303.00" x2="955.50" y2="538.50" stroke="#c8c8c8" stroke-width="1" stroke-dasharray="1 1.9"/>
<line x1="965.50" y1="303.00" x2="965.50" y2="538.50" stroke="#c8c8c8" stroke-width="1" stroke-dasharray="1 1.9"/>
<line x1="974.50" y1="303.00" x2="974.50" y2="538.50" stroke="#c8c8c8" stroke-width="1" stroke-dasharray="1 1.9"/>
<line x1="981.50" y1="303.00" x2="981.50" y2="538.50" stroke="#c8c8c8" stroke-width="1" stroke-dasharray="1 1.9"/>
<line x1="988.50" y1="303.00" x2="988.50" y2="538.50" stroke="#c8c8c8" stroke-width="1" stroke-dasharray="1 1.9"/>
<line x1="993.50" y1="303.00" x2="993.50" y2="538.50" stroke="#c8c8c8" stroke-width="1" stroke-dasharray="1 1.9"/>
<line x1="1032.50" y1="303.00" x2="1032.50" y2="538.50" stroke="#c8c8c8" stroke-width="1" stroke-dasharray="1 1.9"/>
<line x1="1051.50" y1="303.00" x2="1051.50" y2="538.50" stroke="#c8c8c8" stroke-width="1" stroke-dasharray="1 1.9"/>
<line x1="1065.50" y1="303.00" x2="1065.50" y2="538.50" stroke="#c8c8c8" stroke-width="1" stroke-dasharray="1 1.9"/>
<line x1="1075.50" y1="303.00" x2="1075.50" y2="538.50" stroke="#c8c8c8" stroke-width="1" stroke-dasharray="1 1.9"/>
<line x1="1084.50" y1="303.00" x2="1084.50" y2="538.50" stroke="#c8c8c8" stroke-width="1" stroke-dasharray="1 1.9"/>
<line x1="1091.50" y1="303.00" x2="1091.50" y2="538.50" stroke="#c8c8c8" stroke-width="1" stroke-dasharray="1 1.9"/>
<line x1="1098.50" y1="303.00" x2="1098.50" y2="538.50" stroke="#c8c8c8" stroke-width="1" stroke-dasharray="1 1.9"/>
<line x1="888.50" y1="303.50" x2="888.50" y2="538.50" stroke="#e5e5e5" stroke-width="1"/>
<line x1="998.50" y1="303.50" x2="998.50" y2="538.50" stroke="#e5e5e5" stroke-width="1"/>
<line x1="786.50" y1="538.50" x2="1100.50" y2="538.50" stroke="#e5e5e5" stroke-width="1"/>
<line x1="786.50" y1="509.50" x2="1100.50" y2="509.50" stroke="#e5e5e5" stroke-width="1"/>
<line x1="786.50" y1="479.50" x2="1100.50" y2="479.50" stroke="#e5e5e5" stroke-width="1"/>
<line x1="786.50" y1="450.50" x2="1100.50" y2="450.50" stroke="#e5e5e5" stroke-width="1"/>
<line x1="786.50" y1="420.50" x2="1100.50" y2="420.50" stroke="#e5e5e5" stroke-width="1"/>
<line x1="786.50" y1="390.50" x2="1100.50" y2="390.50" stroke="#e5e5e5" stroke-width="1"/>
<line x1="786.50" y1="361.50" x2="1100.50" y2="361.50" stroke="#e5e5e5" stroke-width="1"/>
<line x1="786.50" y1="331.50" x2="1100.50" y2="331.50" stroke="#e5e5e5" stroke-width="1"/>
<rect x="786.50" y="303.50" width="314.00" height="235.00" fill="none" stroke="#262626" stroke-width="1"/>
<line x1="786.50" y1="538.50" x2="790.00" y2="538.50" stroke="#262626" stroke-width="1"/>
<line x1="1100.50" y1="538.50" x2="1097.00" y2="538.50" stroke="#262626" stroke-width="1"/>
<text x="782.30" y="544.10" text-anchor="end" font-size="14.5" fill="#262626">0</text>
<line x1="786.50" y1="509.50" x2="790.00" y2="509.50" stroke="#262626" stroke-width="1"/>
<line x1="1100.50" y1="509.50" x2="1097.00" y2="509.50" stroke="#262626" stroke-width="1"/>
<text x="782.30" y="515.10" text-anchor="end" font-size="14.5" fill="#262626">0.5</text>
<line x1="786.50" y1="479.50" x2="790.00" y2="479.50" stroke="#262626" stroke-width="1"/>
<line x1="1100.50" y1="479.50" x2="1097.00" y2="479.50" stroke="#262626" stroke-width="1"/>
<text x="782.30" y="485.10" text-anchor="end" font-size="14.5" fill="#262626">1</text>
<line x1="786.50" y1="450.50" x2="790.00" y2="450.50" stroke="#262626" stroke-width="1"/>
<line x1="1100.50" y1="450.50" x2="1097.00" y2="450.50" stroke="#262626" stroke-width="1"/>
<text x="782.30" y="456.10" text-anchor="end" font-size="14.5" fill="#262626">1.5</text>
<line x1="786.50" y1="420.50" x2="790.00" y2="420.50" stroke="#262626" stroke-width="1"/>
<line x1="1100.50" y1="420.50" x2="1097.00" y2="420.50" stroke="#262626" stroke-width="1"/>
<text x="782.30" y="426.10" text-anchor="end" font-size="14.5" fill="#262626">2</text>
<line x1="786.50" y1="390.50" x2="790.00" y2="390.50" stroke="#262626" stroke-width="1"/>
<line x1="1100.50" y1="390.50" x2="1097.00" y2="390.50" stroke="#262626" stroke-width="1"/>
<text x="782.30" y="396.10" text-anchor="end" font-size="14.5" fill="#262626">2.5</text>
<line x1="786.50" y1="361.50" x2="790.00" y2="361.50" stroke="#262626" stroke-width="1"/>
<line x1="1100.50" y1="361.50" x2="1097.00" y2="361.50" stroke="#262626" stroke-width="1"/>
<text x="782.30" y="367.10" text-anchor="end" font-size="14.5" fill="#262626">3</text>
<line x1="786.50" y1="331.50" x2="790.00" y2="331.50" stroke="#262626" stroke-width="1"/>
<line x1="1100.50" y1="331.50" x2="1097.00" y2="331.50" stroke="#262626" stroke-width="1"/>
<text x="782.30" y="337.10" text-anchor="end" font-size="14.5" fill="#262626">3.5</text>
<line x1="888.50" y1="538.50" x2="888.50" y2="535.00" stroke="#262626" stroke-width="1"/>
<line x1="888.50" y1="303.50" x2="888.50" y2="307.00" stroke="#262626" stroke-width="1"/>
<text x="888.80" y="561.80" text-anchor="middle" font-size="14.5" fill="#262626">10<tspan font-size="11" dx="1.2" dy="-7.3">1</tspan></text>
<line x1="998.50" y1="538.50" x2="998.50" y2="535.00" stroke="#262626" stroke-width="1"/>
<line x1="998.50" y1="303.50" x2="998.50" y2="307.00" stroke="#262626" stroke-width="1"/>
<text x="998.80" y="561.80" text-anchor="middle" font-size="14.5" fill="#262626">10<tspan font-size="11" dx="1.2" dy="-7.3">2</tspan></text>
<line x1="812.50" y1="538.50" x2="812.50" y2="537.00" stroke="#262626" stroke-width="1"/>
<line x1="812.50" y1="303.50" x2="812.50" y2="305.00" stroke="#262626" stroke-width="1"/>
<line x1="831.50" y1="538.50" x2="831.50" y2="537.00" stroke="#262626" stroke-width="1"/>
<line x1="831.50" y1="303.50" x2="831.50" y2="305.00" stroke="#262626" stroke-width="1"/>
<line x1="845.50" y1="538.50" x2="845.50" y2="537.00" stroke="#262626" stroke-width="1"/>
<line x1="845.50" y1="303.50" x2="845.50" y2="305.00" stroke="#262626" stroke-width="1"/>
<line x1="855.50" y1="538.50" x2="855.50" y2="537.00" stroke="#262626" stroke-width="1"/>
<line x1="855.50" y1="303.50" x2="855.50" y2="305.00" stroke="#262626" stroke-width="1"/>
<line x1="864.50" y1="538.50" x2="864.50" y2="537.00" stroke="#262626" stroke-width="1"/>
<line x1="864.50" y1="303.50" x2="864.50" y2="305.00" stroke="#262626" stroke-width="1"/>
<line x1="871.50" y1="538.50" x2="871.50" y2="537.00" stroke="#262626" stroke-width="1"/>
<line x1="871.50" y1="303.50" x2="871.50" y2="305.00" stroke="#262626" stroke-width="1"/>
<line x1="878.50" y1="538.50" x2="878.50" y2="537.00" stroke="#262626" stroke-width="1"/>
<line x1="878.50" y1="303.50" x2="878.50" y2="305.00" stroke="#262626" stroke-width="1"/>
<line x1="883.50" y1="538.50" x2="883.50" y2="537.00" stroke="#262626" stroke-width="1"/>
<line x1="883.50" y1="303.50" x2="883.50" y2="305.00" stroke="#262626" stroke-width="1"/>
<line x1="922.50" y1="538.50" x2="922.50" y2="537.00" stroke="#262626" stroke-width="1"/>
<line x1="922.50" y1="303.50" x2="922.50" y2="305.00" stroke="#262626" stroke-width="1"/>
<line x1="941.50" y1="538.50" x2="941.50" y2="537.00" stroke="#262626" stroke-width="1"/>
<line x1="941.50" y1="303.50" x2="941.50" y2="305.00" stroke="#262626" stroke-width="1"/>
<line x1="955.50" y1="538.50" x2="955.50" y2="537.00" stroke="#262626" stroke-width="1"/>
<line x1="955.50" y1="303.50" x2="955.50" y2="305.00" stroke="#262626" stroke-width="1"/>
<line x1="965.50" y1="538.50" x2="965.50" y2="537.00" stroke="#262626" stroke-width="1"/>
<line x1="965.50" y1="303.50" x2="965.50" y2="305.00" stroke="#262626" stroke-width="1"/>
<line x1="974.50" y1="538.50" x2="974.50" y2="537.00" stroke="#262626" stroke-width="1"/>
<line x1="974.50" y1="303.50" x2="974.50" y2="305.00" stroke="#262626" stroke-width="1"/>
<line x1="981.50" y1="538.50" x2="981.50" y2="537.00" stroke="#262626" stroke-width="1"/>
<line x1="981.50" y1="303.50" x2="981.50" y2="305.00" stroke="#262626" stroke-width="1"/>
<line x1="988.50" y1="538.50" x2="988.50" y2="537.00" stroke="#262626" stroke-width="1"/>
<line x1="988.50" y1="303.50" x2="988.50" y2="305.00" stroke="#262626" stroke-width="1"/>
<line x1="993.50" y1="538.50" x2="993.50" y2="537.00" stroke="#262626" stroke-width="1"/>
<line x1="993.50" y1="303.50" x2="993.50" y2="305.00" stroke="#262626" stroke-width="1"/>
<line x1="1032.50" y1="538.50" x2="1032.50" y2="537.00" stroke="#262626" stroke-width="1"/>
<line x1="1032.50" y1="303.50" x2="1032.50" y2="305.00" stroke="#262626" stroke-width="1"/>
<line x1="1051.50" y1="538.50" x2="1051.50" y2="537.00" stroke="#262626" stroke-width="1"/>
<line x1="1051.50" y1="303.50" x2="1051.50" y2="305.00" stroke="#262626" stroke-width="1"/>
<line x1="1065.50" y1="538.50" x2="1065.50" y2="537.00" stroke="#262626" stroke-width="1"/>
<line x1="1065.50" y1="303.50" x2="1065.50" y2="305.00" stroke="#262626" stroke-width="1"/>
<line x1="1075.50" y1="538.50" x2="1075.50" y2="537.00" stroke="#262626" stroke-width="1"/>
<line x1="1075.50" y1="303.50" x2="1075.50" y2="305.00" stroke="#262626" stroke-width="1"/>
<line x1="1084.50" y1="538.50" x2="1084.50" y2="537.00" stroke="#262626" stroke-width="1"/>
<line x1="1084.50" y1="303.50" x2="1084.50" y2="305.00" stroke="#262626" stroke-width="1"/>
<line x1="1091.50" y1="538.50" x2="1091.50" y2="537.00" stroke="#262626" stroke-width="1"/>
<line x1="1091.50" y1="303.50" x2="1091.50" y2="305.00" stroke="#262626" stroke-width="1"/>
<line x1="1098.50" y1="538.50" x2="1098.50" y2="537.00" stroke="#262626" stroke-width="1"/>
<line x1="1098.50" y1="303.50" x2="1098.50" y2="305.00" stroke="#262626" stroke-width="1"/>
<text x="944.30" y="581.40" text-anchor="middle" font-size="16" fill="#262626">Runtime (in seconds)</text>
<text transform="translate(756.30,421.00) rotate(-90)" text-anchor="middle" font-size="16" fill="#262626">Objective</text>
<path d="M786.20,526.80 L808.50,526.80 L820.90,507.00 L832.00,390.00 L839.10,354.90 L853.20,337.10 L863.10,330.30 L878.50,323.30 L886.70,320.60 L908.80,315.50 L917.80,314.50 L925.20,313.50 L941.90,311.90 L950.70,311.00 L963.80,310.00 L971.30,308.80 L978.90,308.20 L991.40,306.90 L1000.00,306.50 L1010.00,306.30 L1018.00,306.00" fill="none" stroke="#f000f0" stroke-width="3" stroke-linejoin="round"/>
<polygon points="786.20,521.70 784.85,524.46 781.78,524.25 783.50,526.80 781.78,529.35 784.85,529.14 786.20,531.90 787.55,529.14 790.62,529.35 788.90,526.80 790.62,524.25 787.55,524.46" fill="#ff00ff" stroke="#000" stroke-width="1"/>
<polygon points="808.50,521.70 807.15,524.46 804.08,524.25 805.80,526.80 804.08,529.35 807.15,529.14 808.50,531.90 809.85,529.14 812.92,529.35 811.20,526.80 812.92,524.25 809.85,524.46" fill="#ff00ff" stroke="#000" stroke-width="1"/>
<polygon points="820.90,501.90 819.55,504.66 816.48,504.45 818.20,507.00 816.48,509.55 819.55,509.34 820.90,512.10 822.25,509.34 825.32,509.55 823.60,507.00 825.32,504.45 822.25,504.66" fill="#ff00ff" stroke="#000" stroke-width="1"/>
<polygon points="839.10,349.80 837.75,352.56 834.68,352.35 836.40,354.90 834.68,357.45 837.75,357.24 839.10,360.00 840.45,357.24 843.52,357.45 841.80,354.90 843.52,352.35 840.45,352.56" fill="#ff00ff" stroke="#000" stroke-width="1"/>
<polygon points="853.20,332.00 851.85,334.76 848.78,334.55 850.50,337.10 848.78,339.65 851.85,339.44 853.20,342.20 854.55,339.44 857.62,339.65 855.90,337.10 857.62,334.55 854.55,334.76" fill="#ff00ff" stroke="#000" stroke-width="1"/>
<polygon points="863.10,325.20 861.75,327.96 858.68,327.75 860.40,330.30 858.68,332.85 861.75,332.64 863.10,335.40 864.45,332.64 867.52,332.85 865.80,330.30 867.52,327.75 864.45,327.96" fill="#ff00ff" stroke="#000" stroke-width="1"/>
<polygon points="878.50,318.20 877.15,320.96 874.08,320.75 875.80,323.30 874.08,325.85 877.15,325.64 878.50,328.40 879.85,325.64 882.92,325.85 881.20,323.30 882.92,320.75 879.85,320.96" fill="#ff00ff" stroke="#000" stroke-width="1"/>
<polygon points="886.70,315.50 885.35,318.26 882.28,318.05 884.00,320.60 882.28,323.15 885.35,322.94 886.70,325.70 888.05,322.94 891.12,323.15 889.40,320.60 891.12,318.05 888.05,318.26" fill="#ff00ff" stroke="#000" stroke-width="1"/>
<polygon points="908.80,310.40 907.45,313.16 904.38,312.95 906.10,315.50 904.38,318.05 907.45,317.84 908.80,320.60 910.15,317.84 913.22,318.05 911.50,315.50 913.22,312.95 910.15,313.16" fill="#ff00ff" stroke="#000" stroke-width="1"/>
<polygon points="917.80,309.40 916.45,312.16 913.38,311.95 915.10,314.50 913.38,317.05 916.45,316.84 917.80,319.60 919.15,316.84 922.22,317.05 920.50,314.50 922.22,311.95 919.15,312.16" fill="#ff00ff" stroke="#000" stroke-width="1"/>
<polygon points="925.20,308.40 923.85,311.16 920.78,310.95 922.50,313.50 920.78,316.05 923.85,315.84 925.20,318.60 926.55,315.84 929.62,316.05 927.90,313.50 929.62,310.95 926.55,311.16" fill="#ff00ff" stroke="#000" stroke-width="1"/>
<polygon points="941.90,306.80 940.55,309.56 937.48,309.35 939.20,311.90 937.48,314.45 940.55,314.24 941.90,317.00 943.25,314.24 946.32,314.45 944.60,311.90 946.32,309.35 943.25,309.56" fill="#ff00ff" stroke="#000" stroke-width="1"/>
<polygon points="950.70,305.90 949.35,308.66 946.28,308.45 948.00,311.00 946.28,313.55 949.35,313.34 950.70,316.10 952.05,313.34 955.12,313.55 953.40,311.00 955.12,308.45 952.05,308.66" fill="#ff00ff" stroke="#000" stroke-width="1"/>
<polygon points="963.80,304.90 962.45,307.66 959.38,307.45 961.10,310.00 959.38,312.55 962.45,312.34 963.80,315.10 965.15,312.34 968.22,312.55 966.50,310.00 968.22,307.45 965.15,307.66" fill="#ff00ff" stroke="#000" stroke-width="1"/>
<polygon points="971.30,303.70 969.95,306.46 966.88,306.25 968.60,308.80 966.88,311.35 969.95,311.14 971.30,313.90 972.65,311.14 975.72,311.35 974.00,308.80 975.72,306.25 972.65,306.46" fill="#ff00ff" stroke="#000" stroke-width="1"/>
<polygon points="978.90,303.10 977.55,305.86 974.48,305.65 976.20,308.20 974.48,310.75 977.55,310.54 978.90,313.30 980.25,310.54 983.32,310.75 981.60,308.20 983.32,305.65 980.25,305.86" fill="#ff00ff" stroke="#000" stroke-width="1"/>
<polygon points="991.40,301.80 990.05,304.56 986.98,304.35 988.70,306.90 986.98,309.45 990.05,309.24 991.40,312.00 992.75,309.24 995.82,309.45 994.10,306.90 995.82,304.35 992.75,304.56" fill="#ff00ff" stroke="#000" stroke-width="1"/>
<polygon points="1000.00,301.40 998.65,304.16 995.58,303.95 997.30,306.50 995.58,309.05 998.65,308.84 1000.00,311.60 1001.35,308.84 1004.42,309.05 1002.70,306.50 1004.42,303.95 1001.35,304.16" fill="#ff00ff" stroke="#000" stroke-width="1"/>
<polygon points="1010.00,301.20 1008.65,303.96 1005.58,303.75 1007.30,306.30 1005.58,308.85 1008.65,308.64 1010.00,311.40 1011.35,308.64 1014.42,308.85 1012.70,306.30 1014.42,303.75 1011.35,303.96" fill="#ff00ff" stroke="#000" stroke-width="1"/>
<polygon points="1018.00,300.90 1016.65,303.66 1013.58,303.45 1015.30,306.00 1013.58,308.55 1016.65,308.34 1018.00,311.10 1019.35,308.34 1022.42,308.55 1020.70,306.00 1022.42,303.45 1019.35,303.66" fill="#ff00ff" stroke="#000" stroke-width="1"/>
<path d="M795.40,533.30 L817.60,533.30 L837.00,376.00 L861.00,348.70 L876.40,338.50 L896.30,330.90 L908.80,326.80 L926.30,322.10 L936.90,319.60 L960.30,315.70 L968.60,313.80 L975.70,313.20 L993.30,311.30 L1001.70,311.00 L1014.90,310.00 L1023.30,308.20 L1029.60,306.90 L1045.00,306.50 L1052.00,306.30 L1058.40,306.30 L1064.70,306.30" fill="none" stroke="#0af0f0" stroke-width="3" stroke-linejoin="round"/>
<polygon points="795.40,527.20 799.90,533.30 795.40,539.40 790.90,533.30" fill="#00ffff" stroke="#000" stroke-width="1"/>
<polygon points="817.60,527.20 822.10,533.30 817.60,539.40 813.10,533.30" fill="#00ffff" stroke="#000" stroke-width="1"/>
<polygon points="837.00,369.90 841.50,376.00 837.00,382.10 832.50,376.00" fill="#00ffff" stroke="#000" stroke-width="1"/>
<polygon points="876.40,332.40 880.90,338.50 876.40,344.60 871.90,338.50" fill="#00ffff" stroke="#000" stroke-width="1"/>
<polygon points="896.30,324.80 900.80,330.90 896.30,337.00 891.80,330.90" fill="#00ffff" stroke="#000" stroke-width="1"/>
<polygon points="908.80,320.70 913.30,326.80 908.80,332.90 904.30,326.80" fill="#00ffff" stroke="#000" stroke-width="1"/>
<polygon points="926.30,316.00 930.80,322.10 926.30,328.20 921.80,322.10" fill="#00ffff" stroke="#000" stroke-width="1"/>
<polygon points="936.90,313.50 941.40,319.60 936.90,325.70 932.40,319.60" fill="#00ffff" stroke="#000" stroke-width="1"/>
<polygon points="960.30,309.60 964.80,315.70 960.30,321.80 955.80,315.70" fill="#00ffff" stroke="#000" stroke-width="1"/>
<polygon points="968.60,307.70 973.10,313.80 968.60,319.90 964.10,313.80" fill="#00ffff" stroke="#000" stroke-width="1"/>
<polygon points="975.70,307.10 980.20,313.20 975.70,319.30 971.20,313.20" fill="#00ffff" stroke="#000" stroke-width="1"/>
<polygon points="993.30,305.20 997.80,311.30 993.30,317.40 988.80,311.30" fill="#00ffff" stroke="#000" stroke-width="1"/>
<polygon points="1001.70,304.90 1006.20,311.00 1001.70,317.10 997.20,311.00" fill="#00ffff" stroke="#000" stroke-width="1"/>
<polygon points="1014.90,303.90 1019.40,310.00 1014.90,316.10 1010.40,310.00" fill="#00ffff" stroke="#000" stroke-width="1"/>
<polygon points="1023.30,302.10 1027.80,308.20 1023.30,314.30 1018.80,308.20" fill="#00ffff" stroke="#000" stroke-width="1"/>
<polygon points="1029.60,300.80 1034.10,306.90 1029.60,313.00 1025.10,306.90" fill="#00ffff" stroke="#000" stroke-width="1"/>
<polygon points="1045.00,300.40 1049.50,306.50 1045.00,312.60 1040.50,306.50" fill="#00ffff" stroke="#000" stroke-width="1"/>
<polygon points="1052.00,300.20 1056.50,306.30 1052.00,312.40 1047.50,306.30" fill="#00ffff" stroke="#000" stroke-width="1"/>
<polygon points="1058.40,300.20 1062.90,306.30 1058.40,312.40 1053.90,306.30" fill="#00ffff" stroke="#000" stroke-width="1"/>
<polygon points="1064.70,300.20 1069.20,306.30 1064.70,312.40 1060.20,306.30" fill="#00ffff" stroke="#000" stroke-width="1"/>
<path d="M864.70,380.70 L902.50,347.30 L923.00,333.00 L938.80,333.20 L951.90,331.10 L972.00,330.30 L980.70,324.40 L997.00,321.10 L1004.90,320.70 L1012.00,319.00 L1025.80,314.00 L1032.70,314.00 L1045.90,313.20 L1053.40,310.70 L1060.30,311.30 L1073.80,311.00 L1081.00,310.00 L1093.50,310.00 L1100.40,310.00" fill="none" stroke="#0000f0" stroke-width="3" stroke-linejoin="round"/>
<rect x="860.90" y="376.90" width="7.60" height="7.60" fill="#0000ff" stroke="#000" stroke-width="1"/>
<rect x="919.20" y="329.20" width="7.60" height="7.60" fill="#0000ff" stroke="#000" stroke-width="1"/>
<rect x="935.00" y="329.40" width="7.60" height="7.60" fill="#0000ff" stroke="#000" stroke-width="1"/>
<rect x="948.10" y="327.30" width="7.60" height="7.60" fill="#0000ff" stroke="#000" stroke-width="1"/>
<rect x="968.20" y="326.50" width="7.60" height="7.60" fill="#0000ff" stroke="#000" stroke-width="1"/>
<rect x="976.90" y="320.60" width="7.60" height="7.60" fill="#0000ff" stroke="#000" stroke-width="1"/>
<rect x="993.20" y="317.30" width="7.60" height="7.60" fill="#0000ff" stroke="#000" stroke-width="1"/>
<rect x="1001.10" y="316.90" width="7.60" height="7.60" fill="#0000ff" stroke="#000" stroke-width="1"/>
<rect x="1008.20" y="315.20" width="7.60" height="7.60" fill="#0000ff" stroke="#000" stroke-width="1"/>
<rect x="1022.00" y="310.20" width="7.60" height="7.60" fill="#0000ff" stroke="#000" stroke-width="1"/>
<rect x="1028.90" y="310.20" width="7.60" height="7.60" fill="#0000ff" stroke="#000" stroke-width="1"/>
<rect x="1042.10" y="309.40" width="7.60" height="7.60" fill="#0000ff" stroke="#000" stroke-width="1"/>
<rect x="1049.60" y="306.90" width="7.60" height="7.60" fill="#0000ff" stroke="#000" stroke-width="1"/>
<rect x="1056.50" y="307.50" width="7.60" height="7.60" fill="#0000ff" stroke="#000" stroke-width="1"/>
<rect x="1070.00" y="307.20" width="7.60" height="7.60" fill="#0000ff" stroke="#000" stroke-width="1"/>
<rect x="1077.20" y="306.20" width="7.60" height="7.60" fill="#0000ff" stroke="#000" stroke-width="1"/>
<rect x="1089.70" y="306.20" width="7.60" height="7.60" fill="#0000ff" stroke="#000" stroke-width="1"/>
<rect x="1096.60" y="306.20" width="7.60" height="7.60" fill="#0000ff" stroke="#000" stroke-width="1"/>
<line x1="1187.50" y1="303.00" x2="1187.50" y2="538.50" stroke="#c8c8c8" stroke-width="1" stroke-dasharray="1 1.9"/>
<line x1="1204.50" y1="303.00" x2="1204.50" y2="538.50" stroke="#c8c8c8" stroke-width="1" stroke-dasharray="1 1.9"/>
<line x1="1216.50" y1="303.00" x2="1216.50" y2="538.50" stroke="#c8c8c8" stroke-width="1" stroke-dasharray="1 1.9"/>
<line x1="1225.50" y1="303.00" x2="1225.50" y2="538.50" stroke="#c8c8c8" stroke-width="1" stroke-dasharray="1 1.9"/>
<line x1="1232.50" y1="303.00" x2="1232.50" y2="538.50" stroke="#c8c8c8" stroke-width="1" stroke-dasharray="1 1.9"/>
<line x1="1238.50" y1="303.00" x2="1238.50" y2="538.50" stroke="#c8c8c8" stroke-width="1" stroke-dasharray="1 1.9"/>
<line x1="1244.50" y1="303.00" x2="1244.50" y2="538.50" stroke="#c8c8c8" stroke-width="1" stroke-dasharray="1 1.9"/>
<line x1="1249.50" y1="303.00" x2="1249.50" y2="538.50" stroke="#c8c8c8" stroke-width="1" stroke-dasharray="1 1.9"/>
<line x1="1281.50" y1="303.00" x2="1281.50" y2="538.50" stroke="#c8c8c8" stroke-width="1" stroke-dasharray="1 1.9"/>
<line x1="1298.50" y1="303.00" x2="1298.50" y2="538.50" stroke="#c8c8c8" stroke-width="1" stroke-dasharray="1 1.9"/>
<line x1="1310.50" y1="303.00" x2="1310.50" y2="538.50" stroke="#c8c8c8" stroke-width="1" stroke-dasharray="1 1.9"/>
<line x1="1319.50" y1="303.00" x2="1319.50" y2="538.50" stroke="#c8c8c8" stroke-width="1" stroke-dasharray="1 1.9"/>
<line x1="1326.50" y1="303.00" x2="1326.50" y2="538.50" stroke="#c8c8c8" stroke-width="1" stroke-dasharray="1 1.9"/>
<line x1="1332.50" y1="303.00" x2="1332.50" y2="538.50" stroke="#c8c8c8" stroke-width="1" stroke-dasharray="1 1.9"/>
<line x1="1338.50" y1="303.00" x2="1338.50" y2="538.50" stroke="#c8c8c8" stroke-width="1" stroke-dasharray="1 1.9"/>
<line x1="1343.50" y1="303.00" x2="1343.50" y2="538.50" stroke="#c8c8c8" stroke-width="1" stroke-dasharray="1 1.9"/>
<line x1="1375.50" y1="303.00" x2="1375.50" y2="538.50" stroke="#c8c8c8" stroke-width="1" stroke-dasharray="1 1.9"/>
<line x1="1392.50" y1="303.00" x2="1392.50" y2="538.50" stroke="#c8c8c8" stroke-width="1" stroke-dasharray="1 1.9"/>
<line x1="1404.50" y1="303.00" x2="1404.50" y2="538.50" stroke="#c8c8c8" stroke-width="1" stroke-dasharray="1 1.9"/>
<line x1="1413.50" y1="303.00" x2="1413.50" y2="538.50" stroke="#c8c8c8" stroke-width="1" stroke-dasharray="1 1.9"/>
<line x1="1420.50" y1="303.00" x2="1420.50" y2="538.50" stroke="#c8c8c8" stroke-width="1" stroke-dasharray="1 1.9"/>
<line x1="1426.50" y1="303.00" x2="1426.50" y2="538.50" stroke="#c8c8c8" stroke-width="1" stroke-dasharray="1 1.9"/>
<line x1="1432.50" y1="303.00" x2="1432.50" y2="538.50" stroke="#c8c8c8" stroke-width="1" stroke-dasharray="1 1.9"/>
<line x1="1437.50" y1="303.00" x2="1437.50" y2="538.50" stroke="#c8c8c8" stroke-width="1" stroke-dasharray="1 1.9"/>
<line x1="1253.50" y1="303.00" x2="1253.50" y2="538.50" stroke="#c8c8c8" stroke-width="1" stroke-dasharray="1 1.9"/>
<line x1="1441.50" y1="303.00" x2="1441.50" y2="538.50" stroke="#c8c8c8" stroke-width="1" stroke-dasharray="1 1.9"/>
<line x1="1159.50" y1="303.50" x2="1159.50" y2="538.50" stroke="#e5e5e5" stroke-width="1"/>
<line x1="1347.50" y1="303.50" x2="1347.50" y2="538.50" stroke="#e5e5e5" stroke-width="1"/>
<line x1="1155.50" y1="538.50" x2="1469.50" y2="538.50" stroke="#e5e5e5" stroke-width="1"/>
<line x1="1155.50" y1="509.50" x2="1469.50" y2="509.50" stroke="#e5e5e5" stroke-width="1"/>
<line x1="1155.50" y1="479.50" x2="1469.50" y2="479.50" stroke="#e5e5e5" stroke-width="1"/>
<line x1="1155.50" y1="450.50" x2="1469.50" y2="450.50" stroke="#e5e5e5" stroke-width="1"/>
<line x1="1155.50" y1="420.50" x2="1469.50" y2="420.50" stroke="#e5e5e5" stroke-width="1"/>
<line x1="1155.50" y1="390.50" x2="1469.50" y2="390.50" stroke="#e5e5e5" stroke-width="1"/>
<line x1="1155.50" y1="361.50" x2="1469.50" y2="361.50" stroke="#e5e5e5" stroke-width="1"/>
<line x1="1155.50" y1="331.50" x2="1469.50" y2="331.50" stroke="#e5e5e5" stroke-width="1"/>
<rect x="1155.50" y="303.50" width="314.00" height="235.00" fill="none" stroke="#262626" stroke-width="1"/>
<line x1="1155.50" y1="538.50" x2="1159.00" y2="538.50" stroke="#262626" stroke-width="1"/>
<line x1="1469.50" y1="538.50" x2="1466.00" y2="538.50" stroke="#262626" stroke-width="1"/>
<text x="1151.30" y="544.10" text-anchor="end" font-size="14.5" fill="#262626">0</text>
<line x1="1155.50" y1="509.50" x2="1159.00" y2="509.50" stroke="#262626" stroke-width="1"/>
<line x1="1469.50" y1="509.50" x2="1466.00" y2="509.50" stroke="#262626" stroke-width="1"/>
<text x="1151.30" y="515.10" text-anchor="end" font-size="14.5" fill="#262626">1</text>
<line x1="1155.50" y1="479.50" x2="1159.00" y2="479.50" stroke="#262626" stroke-width="1"/>
<line x1="1469.50" y1="479.50" x2="1466.00" y2="479.50" stroke="#262626" stroke-width="1"/>
<text x="1151.30" y="485.10" text-anchor="end" font-size="14.5" fill="#262626">2</text>
<line x1="1155.50" y1="450.50" x2="1159.00" y2="450.50" stroke="#262626" stroke-width="1"/>
<line x1="1469.50" y1="450.50" x2="1466.00" y2="450.50" stroke="#262626" stroke-width="1"/>
<text x="1151.30" y="456.10" text-anchor="end" font-size="14.5" fill="#262626">3</text>
<line x1="1155.50" y1="420.50" x2="1159.00" y2="420.50" stroke="#262626" stroke-width="1"/>
<line x1="1469.50" y1="420.50" x2="1466.00" y2="420.50" stroke="#262626" stroke-width="1"/>
<text x="1151.30" y="426.10" text-anchor="end" font-size="14.5" fill="#262626">4</text>
<line x1="1155.50" y1="390.50" x2="1159.00" y2="390.50" stroke="#262626" stroke-width="1"/>
<line x1="1469.50" y1="390.50" x2="1466.00" y2="390.50" stroke="#262626" stroke-width="1"/>
<text x="1151.30" y="396.10" text-anchor="end" font-size="14.5" fill="#262626">5</text>
<line x1="1155.50" y1="361.50" x2="1159.00" y2="361.50" stroke="#262626" stroke-width="1"/>
<line x1="1469.50" y1="361.50" x2="1466.00" y2="361.50" stroke="#262626" stroke-width="1"/>
<text x="1151.30" y="367.10" text-anchor="end" font-size="14.5" fill="#262626">6</text>
<line x1="1155.50" y1="331.50" x2="1159.00" y2="331.50" stroke="#262626" stroke-width="1"/>
<line x1="1469.50" y1="331.50" x2="1466.00" y2="331.50" stroke="#262626" stroke-width="1"/>
<text x="1151.30" y="337.10" text-anchor="end" font-size="14.5" fill="#262626">7</text>
<line x1="1159.50" y1="538.50" x2="1159.50" y2="535.00" stroke="#262626" stroke-width="1"/>
<line x1="1159.50" y1="303.50" x2="1159.50" y2="307.00" stroke="#262626" stroke-width="1"/>
<text x="1159.80" y="561.80" text-anchor="middle" font-size="14.5" fill="#262626">10<tspan font-size="11" dx="1.2" dy="-7.3">0</tspan></text>
<line x1="1347.50" y1="538.50" x2="1347.50" y2="535.00" stroke="#262626" stroke-width="1"/>
<line x1="1347.50" y1="303.50" x2="1347.50" y2="307.00" stroke="#262626" stroke-width="1"/>
<text x="1347.80" y="561.80" text-anchor="middle" font-size="14.5" fill="#262626">10<tspan font-size="11" dx="1.2" dy="-7.3">2</tspan></text>
<line x1="1187.50" y1="538.50" x2="1187.50" y2="537.00" stroke="#262626" stroke-width="1"/>
<line x1="1187.50" y1="303.50" x2="1187.50" y2="305.00" stroke="#262626" stroke-width="1"/>
<line x1="1204.50" y1="538.50" x2="1204.50" y2="537.00" stroke="#262626" stroke-width="1"/>
<line x1="1204.50" y1="303.50" x2="1204.50" y2="305.00" stroke="#262626" stroke-width="1"/>
<line x1="1216.50" y1="538.50" x2="1216.50" y2="537.00" stroke="#262626" stroke-width="1"/>
<line x1="1216.50" y1="303.50" x2="1216.50" y2="305.00" stroke="#262626" stroke-width="1"/>
<line x1="1225.50" y1="538.50" x2="1225.50" y2="537.00" stroke="#262626" stroke-width="1"/>
<line x1="1225.50" y1="303.50" x2="1225.50" y2="305.00" stroke="#262626" stroke-width="1"/>
<line x1="1232.50" y1="538.50" x2="1232.50" y2="537.00" stroke="#262626" stroke-width="1"/>
<line x1="1232.50" y1="303.50" x2="1232.50" y2="305.00" stroke="#262626" stroke-width="1"/>
<line x1="1238.50" y1="538.50" x2="1238.50" y2="537.00" stroke="#262626" stroke-width="1"/>
<line x1="1238.50" y1="303.50" x2="1238.50" y2="305.00" stroke="#262626" stroke-width="1"/>
<line x1="1244.50" y1="538.50" x2="1244.50" y2="537.00" stroke="#262626" stroke-width="1"/>
<line x1="1244.50" y1="303.50" x2="1244.50" y2="305.00" stroke="#262626" stroke-width="1"/>
<line x1="1249.50" y1="538.50" x2="1249.50" y2="537.00" stroke="#262626" stroke-width="1"/>
<line x1="1249.50" y1="303.50" x2="1249.50" y2="305.00" stroke="#262626" stroke-width="1"/>
<line x1="1281.50" y1="538.50" x2="1281.50" y2="537.00" stroke="#262626" stroke-width="1"/>
<line x1="1281.50" y1="303.50" x2="1281.50" y2="305.00" stroke="#262626" stroke-width="1"/>
<line x1="1298.50" y1="538.50" x2="1298.50" y2="537.00" stroke="#262626" stroke-width="1"/>
<line x1="1298.50" y1="303.50" x2="1298.50" y2="305.00" stroke="#262626" stroke-width="1"/>
<line x1="1310.50" y1="538.50" x2="1310.50" y2="537.00" stroke="#262626" stroke-width="1"/>
<line x1="1310.50" y1="303.50" x2="1310.50" y2="305.00" stroke="#262626" stroke-width="1"/>
<line x1="1319.50" y1="538.50" x2="1319.50" y2="537.00" stroke="#262626" stroke-width="1"/>
<line x1="1319.50" y1="303.50" x2="1319.50" y2="305.00" stroke="#262626" stroke-width="1"/>
<line x1="1326.50" y1="538.50" x2="1326.50" y2="537.00" stroke="#262626" stroke-width="1"/>
<line x1="1326.50" y1="303.50" x2="1326.50" y2="305.00" stroke="#262626" stroke-width="1"/>
<line x1="1332.50" y1="538.50" x2="1332.50" y2="537.00" stroke="#262626" stroke-width="1"/>
<line x1="1332.50" y1="303.50" x2="1332.50" y2="305.00" stroke="#262626" stroke-width="1"/>
<line x1="1338.50" y1="538.50" x2="1338.50" y2="537.00" stroke="#262626" stroke-width="1"/>
<line x1="1338.50" y1="303.50" x2="1338.50" y2="305.00" stroke="#262626" stroke-width="1"/>
<line x1="1343.50" y1="538.50" x2="1343.50" y2="537.00" stroke="#262626" stroke-width="1"/>
<line x1="1343.50" y1="303.50" x2="1343.50" y2="305.00" stroke="#262626" stroke-width="1"/>
<line x1="1375.50" y1="538.50" x2="1375.50" y2="537.00" stroke="#262626" stroke-width="1"/>
<line x1="1375.50" y1="303.50" x2="1375.50" y2="305.00" stroke="#262626" stroke-width="1"/>
<line x1="1392.50" y1="538.50" x2="1392.50" y2="537.00" stroke="#262626" stroke-width="1"/>
<line x1="1392.50" y1="303.50" x2="1392.50" y2="305.00" stroke="#262626" stroke-width="1"/>
<line x1="1404.50" y1="538.50" x2="1404.50" y2="537.00" stroke="#262626" stroke-width="1"/>
<line x1="1404.50" y1="303.50" x2="1404.50" y2="305.00" stroke="#262626" stroke-width="1"/>
<line x1="1413.50" y1="538.50" x2="1413.50" y2="537.00" stroke="#262626" stroke-width="1"/>
<line x1="1413.50" y1="303.50" x2="1413.50" y2="305.00" stroke="#262626" stroke-width="1"/>
<line x1="1420.50" y1="538.50" x2="1420.50" y2="537.00" stroke="#262626" stroke-width="1"/>
<line x1="1420.50" y1="303.50" x2="1420.50" y2="305.00" stroke="#262626" stroke-width="1"/>
<line x1="1426.50" y1="538.50" x2="1426.50" y2="537.00" stroke="#262626" stroke-width="1"/>
<line x1="1426.50" y1="303.50" x2="1426.50" y2="305.00" stroke="#262626" stroke-width="1"/>
<line x1="1432.50" y1="538.50" x2="1432.50" y2="537.00" stroke="#262626" stroke-width="1"/>
<line x1="1432.50" y1="303.50" x2="1432.50" y2="305.00" stroke="#262626" stroke-width="1"/>
<line x1="1437.50" y1="538.50" x2="1437.50" y2="537.00" stroke="#262626" stroke-width="1"/>
<line x1="1437.50" y1="303.50" x2="1437.50" y2="305.00" stroke="#262626" stroke-width="1"/>
<line x1="1253.50" y1="538.50" x2="1253.50" y2="537.00" stroke="#262626" stroke-width="1"/>
<line x1="1253.50" y1="303.50" x2="1253.50" y2="305.00" stroke="#262626" stroke-width="1"/>
<line x1="1441.50" y1="538.50" x2="1441.50" y2="537.00" stroke="#262626" stroke-width="1"/>
<line x1="1441.50" y1="303.50" x2="1441.50" y2="305.00" stroke="#262626" stroke-width="1"/>
<text x="1313.30" y="581.40" text-anchor="middle" font-size="16" fill="#262626">Runtime (in seconds)</text>
<text transform="translate(1125.30,421.00) rotate(-90)" text-anchor="middle" font-size="16" fill="#262626">Objective</text>
<path d="M1155.40,527.60 L1174.80,528.00 L1185.40,512.00 L1199.50,400.00 L1201.90,374.40 L1214.00,345.30 L1222.40,336.00 L1236.60,326.80 L1244.00,323.30 L1263.20,317.20 L1271.00,315.50 L1276.60,314.50 L1291.10,312.40 L1298.30,311.40 L1309.20,310.40 L1316.60,309.80 L1322.70,309.20 L1333.20,307.90 L1340.00,308.30 L1344.90,307.90 L1352.90,307.30" fill="none" stroke="#f000f0" stroke-width="3" stroke-linejoin="round"/>
<polygon points="1155.40,522.50 1154.05,525.26 1150.98,525.05 1152.70,527.60 1150.98,530.15 1154.05,529.94 1155.40,532.70 1156.75,529.94 1159.82,530.15 1158.10,527.60 1159.82,525.05 1156.75,525.26" fill="#ff00ff" stroke="#000" stroke-width="1"/>
<polygon points="1174.80,522.90 1173.45,525.66 1170.38,525.45 1172.10,528.00 1170.38,530.55 1173.45,530.34 1174.80,533.10 1176.15,530.34 1179.22,530.55 1177.50,528.00 1179.22,525.45 1176.15,525.66" fill="#ff00ff" stroke="#000" stroke-width="1"/>
<polygon points="1185.40,506.90 1184.05,509.66 1180.98,509.45 1182.70,512.00 1180.98,514.55 1184.05,514.34 1185.40,517.10 1186.75,514.34 1189.82,514.55 1188.10,512.00 1189.82,509.45 1186.75,509.66" fill="#ff00ff" stroke="#000" stroke-width="1"/>
<polygon points="1201.90,369.30 1200.55,372.06 1197.48,371.85 1199.20,374.40 1197.48,376.95 1200.55,376.74 1201.90,379.50 1203.25,376.74 1206.32,376.95 1204.60,374.40 1206.32,371.85 1203.25,372.06" fill="#ff00ff" stroke="#000" stroke-width="1"/>
<polygon points="1214.00,340.20 1212.65,342.96 1209.58,342.75 1211.30,345.30 1209.58,347.85 1212.65,347.64 1214.00,350.40 1215.35,347.64 1218.42,347.85 1216.70,345.30 1218.42,342.75 1215.35,342.96" fill="#ff00ff" stroke="#000" stroke-width="1"/>
<polygon points="1222.40,330.90 1221.05,333.66 1217.98,333.45 1219.70,336.00 1217.98,338.55 1221.05,338.34 1222.40,341.10 1223.75,338.34 1226.82,338.55 1225.10,336.00 1226.82,333.45 1223.75,333.66" fill="#ff00ff" stroke="#000" stroke-width="1"/>
<polygon points="1236.60,321.70 1235.25,324.46 1232.18,324.25 1233.90,326.80 1232.18,329.35 1235.25,329.14 1236.60,331.90 1237.95,329.14 1241.02,329.35 1239.30,326.80 1241.02,324.25 1237.95,324.46" fill="#ff00ff" stroke="#000" stroke-width="1"/>
<polygon points="1244.00,318.20 1242.65,320.96 1239.58,320.75 1241.30,323.30 1239.58,325.85 1242.65,325.64 1244.00,328.40 1245.35,325.64 1248.42,325.85 1246.70,323.30 1248.42,320.75 1245.35,320.96" fill="#ff00ff" stroke="#000" stroke-width="1"/>
<polygon points="1263.20,312.10 1261.85,314.86 1258.78,314.65 1260.50,317.20 1258.78,319.75 1261.85,319.54 1263.20,322.30 1264.55,319.54 1267.62,319.75 1265.90,317.20 1267.62,314.65 1264.55,314.86" fill="#ff00ff" stroke="#000" stroke-width="1"/>
<polygon points="1271.00,310.40 1269.65,313.16 1266.58,312.95 1268.30,315.50 1266.58,318.05 1269.65,317.84 1271.00,320.60 1272.35,317.84 1275.42,318.05 1273.70,315.50 1275.42,312.95 1272.35,313.16" fill="#ff00ff" stroke="#000" stroke-width="1"/>
<polygon points="1276.60,309.40 1275.25,312.16 1272.18,311.95 1273.90,314.50 1272.18,317.05 1275.25,316.84 1276.60,319.60 1277.95,316.84 1281.02,317.05 1279.30,314.50 1281.02,311.95 1277.95,312.16" fill="#ff00ff" stroke="#000" stroke-width="1"/>
<polygon points="1291.10,307.30 1289.75,310.06 1286.68,309.85 1288.40,312.40 1286.68,314.95 1289.75,314.74 1291.10,317.50 1292.45,314.74 1295.52,314.95 1293.80,312.40 1295.52,309.85 1292.45,310.06" fill="#ff00ff" stroke="#000" stroke-width="1"/>
<polygon points="1298.30,306.30 1296.95,309.06 1293.88,308.85 1295.60,311.40 1293.88,313.95 1296.95,313.74 1298.30,316.50 1299.65,313.74 1302.72,313.95 1301.00,311.40 1302.72,308.85 1299.65,309.06" fill="#ff00ff" stroke="#000" stroke-width="1"/>
<polygon points="1309.20,305.30 1307.85,308.06 1304.78,307.85 1306.50,310.40 1304.78,312.95 1307.85,312.74 1309.20,315.50 1310.55,312.74 1313.62,312.95 1311.90,310.40 1313.62,307.85 1310.55,308.06" fill="#ff00ff" stroke="#000" stroke-width="1"/>
<polygon points="1316.60,304.70 1315.25,307.46 1312.18,307.25 1313.90,309.80 1312.18,312.35 1315.25,312.14 1316.60,314.90 1317.95,312.14 1321.02,312.35 1319.30,309.80 1321.02,307.25 1317.95,307.46" fill="#ff00ff" stroke="#000" stroke-width="1"/>
<polygon points="1322.70,304.10 1321.35,306.86 1318.28,306.65 1320.00,309.20 1318.28,311.75 1321.35,311.54 1322.70,314.30 1324.05,311.54 1327.12,311.75 1325.40,309.20 1327.12,306.65 1324.05,306.86" fill="#ff00ff" stroke="#000" stroke-width="1"/>
<polygon points="1333.20,302.80 1331.85,305.56 1328.78,305.35 1330.50,307.90 1328.78,310.45 1331.85,310.24 1333.20,313.00 1334.55,310.24 1337.62,310.45 1335.90,307.90 1337.62,305.35 1334.55,305.56" fill="#ff00ff" stroke="#000" stroke-width="1"/>
<polygon points="1340.00,303.20 1338.65,305.96 1335.58,305.75 1337.30,308.30 1335.58,310.85 1338.65,310.64 1340.00,313.40 1341.35,310.64 1344.42,310.85 1342.70,308.30 1344.42,305.75 1341.35,305.96" fill="#ff00ff" stroke="#000" stroke-width="1"/>
<polygon points="1344.90,302.80 1343.55,305.56 1340.48,305.35 1342.20,307.90 1340.48,310.45 1343.55,310.24 1344.90,313.00 1346.25,310.24 1349.32,310.45 1347.60,307.90 1349.32,305.35 1346.25,305.56" fill="#ff00ff" stroke="#000" stroke-width="1"/>
<polygon points="1352.90,302.20 1351.55,304.96 1348.48,304.75 1350.20,307.30 1348.48,309.85 1351.55,309.64 1352.90,312.40 1354.25,309.64 1357.32,309.85 1355.60,307.30 1357.32,304.75 1354.25,304.96" fill="#ff00ff" stroke="#000" stroke-width="1"/>
<path d="M1169.60,526.30 L1188.40,526.30 L1205.00,389.40 L1226.90,355.50 L1241.30,343.60 L1260.80,332.30 L1273.10,328.80 L1291.10,323.30 L1300.80,320.60 L1322.10,316.20 L1329.30,315.30 L1335.70,314.10 L1349.20,312.30 L1357.20,311.00 L1368.90,309.80 L1375.70,309.20 L1381.30,308.80 L1393.60,308.60 L1398.30,307.90 L1406.50,306.70 L1411.50,306.70" fill="none" stroke="#0af0f0" stroke-width="3" stroke-linejoin="round"/>
<polygon points="1169.60,520.20 1174.10,526.30 1169.60,532.40 1165.10,526.30" fill="#00ffff" stroke="#000" stroke-width="1"/>
<polygon points="1188.40,520.20 1192.90,526.30 1188.40,532.40 1183.90,526.30" fill="#00ffff" stroke="#000" stroke-width="1"/>
<polygon points="1205.00,383.30 1209.50,389.40 1205.00,395.50 1200.50,389.40" fill="#00ffff" stroke="#000" stroke-width="1"/>
<polygon points="1241.30,337.50 1245.80,343.60 1241.30,349.70 1236.80,343.60" fill="#00ffff" stroke="#000" stroke-width="1"/>
<polygon points="1260.80,326.20 1265.30,332.30 1260.80,338.40 1256.30,332.30" fill="#00ffff" stroke="#000" stroke-width="1"/>
<polygon points="1273.10,322.70 1277.60,328.80 1273.10,334.90 1268.60,328.80" fill="#00ffff" stroke="#000" stroke-width="1"/>
<polygon points="1291.10,317.20 1295.60,323.30 1291.10,329.40 1286.60,323.30" fill="#00ffff" stroke="#000" stroke-width="1"/>
<polygon points="1300.80,314.50 1305.30,320.60 1300.80,326.70 1296.30,320.60" fill="#00ffff" stroke="#000" stroke-width="1"/>
<polygon points="1322.10,310.10 1326.60,316.20 1322.10,322.30 1317.60,316.20" fill="#00ffff" stroke="#000" stroke-width="1"/>
<polygon points="1329.30,309.20 1333.80,315.30 1329.30,321.40 1324.80,315.30" fill="#00ffff" stroke="#000" stroke-width="1"/>
<polygon points="1335.70,308.00 1340.20,314.10 1335.70,320.20 1331.20,314.10" fill="#00ffff" stroke="#000" stroke-width="1"/>
<polygon points="1349.20,306.20 1353.70,312.30 1349.20,318.40 1344.70,312.30" fill="#00ffff" stroke="#000" stroke-width="1"/>
<polygon points="1357.20,304.90 1361.70,311.00 1357.20,317.10 1352.70,311.00" fill="#00ffff" stroke="#000" stroke-width="1"/>
<polygon points="1368.90,303.70 1373.40,309.80 1368.90,315.90 1364.40,309.80" fill="#00ffff" stroke="#000" stroke-width="1"/>
<polygon points="1375.70,303.10 1380.20,309.20 1375.70,315.30 1371.20,309.20" fill="#00ffff" stroke="#000" stroke-width="1"/>
<polygon points="1381.30,302.70 1385.80,308.80 1381.30,314.90 1376.80,308.80" fill="#00ffff" stroke="#000" stroke-width="1"/>
<polygon points="1393.60,302.50 1398.10,308.60 1393.60,314.70 1389.10,308.60" fill="#00ffff" stroke="#000" stroke-width="1"/>
<polygon points="1398.30,301.80 1402.80,307.90 1398.30,314.00 1393.80,307.90" fill="#00ffff" stroke="#000" stroke-width="1"/>
<polygon points="1406.50,300.60 1411.00,306.70 1406.50,312.80 1402.00,306.70" fill="#00ffff" stroke="#000" stroke-width="1"/>
<polygon points="1411.50,300.60 1416.00,306.70 1411.50,312.80 1407.00,306.70" fill="#00ffff" stroke="#000" stroke-width="1"/>
<path d="M1260.80,338.10 L1291.50,339.10 L1310.00,333.40 L1324.60,330.10 L1335.70,328.50 L1355.10,324.00 L1362.50,322.40 L1377.00,317.80 L1383.70,317.80 L1390.50,316.00 L1402.80,312.90 L1410.20,312.90 L1423.20,312.30 L1428.70,309.80 L1434.90,311.00 L1447.80,310.00 L1454.00,308.80 L1463.80,308.80 L1470.00,308.80" fill="none" stroke="#0000f0" stroke-width="3" stroke-linejoin="round"/>
<rect x="1257.00" y="334.30" width="7.60" height="7.60" fill="#0000ff" stroke="#000" stroke-width="1"/>
<rect x="1306.20" y="329.60" width="7.60" height="7.60" fill="#0000ff" stroke="#000" stroke-width="1"/>
<rect x="1320.80" y="326.30" width="7.60" height="7.60" fill="#0000ff" stroke="#000" stroke-width="1"/>
<rect x="1331.90" y="324.70" width="7.60" height="7.60" fill="#0000ff" stroke="#000" stroke-width="1"/>
<rect x="1351.30" y="320.20" width="7.60" height="7.60" fill="#0000ff" stroke="#000" stroke-width="1"/>
<rect x="1358.70" y="318.60" width="7.60" height="7.60" fill="#0000ff" stroke="#000" stroke-width="1"/>
<rect x="1373.20" y="314.00" width="7.60" height="7.60" fill="#0000ff" stroke="#000" stroke-width="1"/>
<rect x="1379.90" y="314.00" width="7.60" height="7.60" fill="#0000ff" stroke="#000" stroke-width="1"/>
<rect x="1386.70" y="312.20" width="7.60" height="7.60" fill="#0000ff" stroke="#000" stroke-width="1"/>
<rect x="1399.00" y="309.10" width="7.60" height="7.60" fill="#0000ff" stroke="#000" stroke-width="1"/>
<rect x="1406.40" y="309.10" width="7.60" height="7.60" fill="#0000ff" stroke="#000" stroke-width="1"/>
<rect x="1419.40" y="308.50" width="7.60" height="7.60" fill="#0000ff" stroke="#000" stroke-width="1"/>
<rect x="1424.90" y="306.00" width="7.60" height="7.60" fill="#0000ff" stroke="#000" stroke-width="1"/>
<rect x="1431.10" y="307.20" width="7.60" height="7.60" fill="#0000ff" stroke="#000" stroke-width="1"/>
<rect x="1444.00" y="306.20" width="7.60" height="7.60" fill="#0000ff" stroke="#000" stroke-width="1"/>
<rect x="1450.20" y="305.00" width="7.60" height="7.60" fill="#0000ff" stroke="#000" stroke-width="1"/>
<rect x="1460.00" y="305.00" width="7.60" height="7.60" fill="#0000ff" stroke="#000" stroke-width="1"/>
<rect x="1466.20" y="305.00" width="7.60" height="7.60" fill="#0000ff" stroke="#000" stroke-width="1"/>
</svg></body></html>
